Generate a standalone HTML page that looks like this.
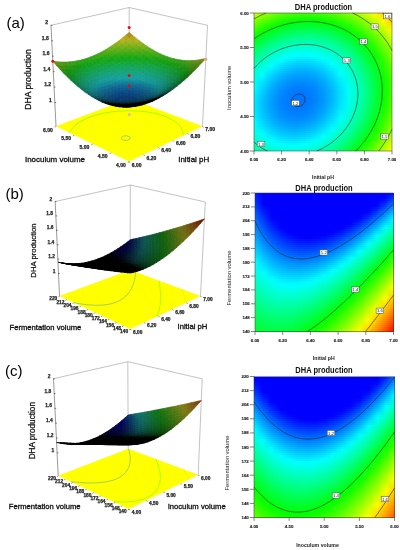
<!DOCTYPE html>
<html><head><meta charset="utf-8"><title>DHA production response surfaces</title>
<style>
html,body{margin:0;padding:0;background:#fff}
body{width:400px;height:550px;position:relative;overflow:hidden;font-family:"Liberation Sans",sans-serif}
.cp{position:absolute;overflow:hidden}
.cp i{display:block;height:2px;width:100%}
svg{position:absolute;left:0;top:0}
svg text{font-family:"Liberation Sans",sans-serif}
</style></head><body>
<div class="cp" style="left:254px;top:13px;width:138px;height:138px"><i style="background:linear-gradient(90deg,#c5ff00,#9cff00,#7bff00,#60ff00,#4cff00,#3fff00,#38ff00,#39ff00,#41ff00,#4fff00,#64ff00,#81ff00,#a4ff00,#ceff00,#feff00,#ffd300,#ffa100)"></i><i style="background:linear-gradient(90deg,#b2ff00,#8aff00,#68ff00,#4dff00,#3aff00,#2dff00,#27ff00,#28ff00,#2fff00,#3eff00,#53ff00,#70ff00,#93ff00,#bdff00,#ef0,#ffe000,#ffad00)"></i><i style="background:linear-gradient(90deg,#a0ff00,#7f0,#56ff00,#3cff00,#28ff00,#1bff00,#15ff00,#16ff00,#1eff00,#2dff00,#43ff00,#60ff00,#83ff00,#adff00,#dfff00,#ffec00,#ffba00)"></i><i style="background:linear-gradient(90deg,#8eff00,#6f0,#4f0,#2aff00,#17ff00,#0aff00,#05ff00,#06ff00,#0eff00,#1dff00,#3f0,#50ff00,#73ff00,#9eff00,#cfff00,#fff800,#ffc600)"></i><i style="background:linear-gradient(90deg,#7cff00,#54ff00,#3f0,#19ff00,#06ff00,#00ff07,#00ff0e,#00ff0c,#00ff02,#0dff00,#23ff00,#40ff00,#64ff00,#8fff00,#c0ff00,#f9ff00,#ffd100)"></i><i style="background:linear-gradient(90deg,#6bff00,#43ff00,#2f0,#08ff00,#00ff0c,#00ff1a,#00ff20,#00ff1e,#00ff14,#00ff03,#14ff00,#31ff00,#5f0,#80ff00,#b2ff00,#ebff00,#ffdc00)"></i><i style="background:linear-gradient(90deg,#5aff00,#32ff00,#12ff00,#00ff09,#00ff1e,#00ff2c,#00ff32,#00ff30,#00ff26,#00ff14,#05ff00,#23ff00,#47ff00,#72ff00,#a4ff00,#df0,#ffe700)"></i><i style="background:linear-gradient(90deg,#49ff00,#2f0,#02ff00,#00ff1b,#00ff30,#00ff3e,#00ff43,#00ff41,#00ff37,#00ff24,#00ff0b,#14ff00,#39ff00,#64ff00,#96ff00,#d0ff00,#fff200)"></i><i style="background:linear-gradient(90deg,#3aff00,#12ff00,#00ff10,#00ff2d,#00ff42,#00ff4f,#00ff54,#00ff51,#00ff47,#00ff35,#00ff1b,#07ff00,#2bff00,#57ff00,#89ff00,#c3ff00,#fffc00)"></i><i style="background:linear-gradient(90deg,#2aff00,#03ff00,#00ff21,#00ff3e,#00ff52,#00ff5f,#00ff64,#00ff62,#00ff57,#0f4,#00ff2a,#00ff08,#1eff00,#4aff00,#7dff00,#b6ff00,#f6ff00)"></i><i style="background:linear-gradient(90deg,#1bff00,#00ff0e,#00ff32,#00ff4e,#00ff63,#00ff70,#00ff74,#00ff71,#0f6,#00ff54,#00ff39,#00ff17,#1f0,#3dff00,#70ff00,#af0,#ebff00)"></i><i style="background:linear-gradient(90deg,#0cff00,#00ff1e,#00ff42,#00ff5e,#00ff73,#00ff7f,#00ff84,#00ff81,#00ff75,#00ff62,#00ff48,#00ff25,#05ff00,#31ff00,#64ff00,#9eff00,#dfff00)"></i><i style="background:linear-gradient(90deg,#00ff03,#00ff2e,#00ff52,#00ff6e,#00ff82,#00ff8e,#00ff93,#00ff8f,#00ff84,#00ff71,#00ff56,#0f3,#00ff08,#26ff00,#59ff00,#93ff00,#d4ff00)"></i><i style="background:linear-gradient(90deg,#00ff12,#00ff3e,#00ff61,#00ff7d,#00ff91,#00ff9d,#00ffa1,#00ff9e,#00ff92,#00ff7e,#00ff63,#00ff40,#00ff15,#1aff00,#4eff00,#8f0,#c9ff00)"></i><i style="background:linear-gradient(90deg,#0f2,#00ff4d,#00ff70,#00ff8c,#00ffa0,#00ffab,#00ffaf,#00ffab,#00ffa0,#00ff8c,#00ff70,#00ff4d,#0f2,#0fff00,#43ff00,#7eff00,#bfff00)"></i><i style="background:linear-gradient(90deg,#00ff31,#00ff5c,#00ff7f,#00ff9a,#00ffae,#00ffb9,#00ffbd,#00ffb9,#00ffad,#0f9,#00ff7d,#00ff59,#00ff2e,#05ff00,#39ff00,#74ff00,#b5ff00)"></i><i style="background:linear-gradient(90deg,#00ff3f,#00ff6a,#00ff8d,#00ffa8,#0fb,#00ffc6,#00ffca,#00ffc5,#00ffb9,#00ffa5,#00ff89,#00ff65,#00ff39,#00ff06,#2fff00,#6aff00,#acff00)"></i><i style="background:linear-gradient(90deg,#00ff4d,#00ff78,#00ff9a,#00ffb5,#00ffc8,#00ffd3,#00ffd6,#00ffd2,#00ffc5,#00ffb1,#00ff95,#00ff71,#00ff45,#0f1,#26ff00,#61ff00,#a3ff00)"></i><i style="background:linear-gradient(90deg,#00ff5a,#00ff85,#00ffa7,#00ffc2,#00ffd5,#00ffe0,#00ffe3,#00ffde,#00ffd1,#00ffbc,#00ffa0,#00ff7c,#00ff4f,#00ff1b,#1dff00,#58ff00,#9aff00)"></i><i style="background:linear-gradient(90deg,#00ff67,#00ff92,#00ffb4,#00ffce,#00ffe1,#00ffeb,#0fe,#00ffe9,#00ffdc,#00ffc7,#00ffab,#00ff86,#00ff5a,#00ff25,#14ff00,#50ff00,#92ff00)"></i><i style="background:linear-gradient(90deg,#00ff74,#00ff9e,#00ffc0,#00ffda,#00ffec,#00fff7,#00fff9,#00fff4,#00ffe7,#00ffd2,#00ffb5,#00ff90,#00ff63,#00ff2f,#0cff00,#48ff00,#8aff00)"></i><i style="background:linear-gradient(90deg,#00ff80,#0fa,#00ffcb,#00ffe5,#00fff7,#00fcff,#00f9ff,#00fffe,#00fff1,#00ffdc,#00ffbe,#0f9,#00ff6d,#00ff38,#04ff00,#40ff00,#83ff00)"></i><i style="background:linear-gradient(90deg,#00ff8c,#00ffb5,#00ffd7,#00fff0,#00fbff,#00f0ff,#00edff,#00f4ff,#00fffb,#00ffe5,#00ffc8,#00ffa2,#00ff75,#00ff40,#00ff04,#39ff00,#7cff00)"></i><i style="background:linear-gradient(90deg,#00ff97,#00ffc0,#00ffe1,#00fffb,#00f0ff,#00e4ff,#00e2ff,#00e9ff,#00f9ff,#0fe,#00ffd1,#00ffab,#00ff7e,#00ff48,#00ff0b,#32ff00,#76ff00)"></i><i style="background:linear-gradient(90deg,#00ffa1,#00ffca,#00ffeb,#00f9ff,#00e4ff,#00d9ff,#00d7ff,#00dfff,#00efff,#00fff7,#00ffd9,#00ffb3,#00ff86,#00ff50,#00ff13,#2cff00,#70ff00)"></i><i style="background:linear-gradient(90deg,#00ffab,#00ffd4,#00fff5,#0ef,#00daff,#00cfff,#00cdff,#00d5ff,#00e5ff,#0ff,#00ffe1,#0fb,#00ff8d,#00ff57,#00ff1a,#26ff00,#6aff00)"></i><i style="background:linear-gradient(90deg,#00ffb5,#0fd,#00fffe,#00e3ff,#00cfff,#00c5ff,#00c4ff,#00cbff,#00dcff,#00f7ff,#00ffe8,#00ffc2,#00ff94,#00ff5e,#00ff20,#21ff00,#65ff00)"></i><i style="background:linear-gradient(90deg,#00ffbe,#00ffe6,#00f6ff,#00d9ff,#00c6ff,#00bcff,#00baff,#00c3ff,#00d4ff,#0ef,#00ffef,#00ffc8,#00ff9a,#00ff64,#00ff26,#1cff00,#60ff00)"></i><i style="background:linear-gradient(90deg,#00ffc7,#00ffef,#00ecff,#00d0ff,#00bdff,#00b3ff,#00b2ff,#00baff,#0cf,#00e7ff,#00fff5,#00ffcf,#00ffa0,#00ff6a,#00ff2c,#17ff00,#5bff00)"></i><i style="background:linear-gradient(90deg,#00ffcf,#00fff7,#00e3ff,#00c7ff,#00b4ff,#00abff,#0af,#00b3ff,#00c4ff,#00dfff,#00fffb,#00ffd4,#00ffa6,#00ff6f,#00ff31,#13ff00,#58ff00)"></i><i style="background:linear-gradient(90deg,#00ffd7,#00fffe,#00dbff,#00bfff,#00acff,#00a3ff,#00a3ff,#00abff,#00beff,#00d9ff,#00fdff,#00ffd9,#00ffab,#00ff74,#00ff35,#0fff00,#54ff00)"></i><i style="background:linear-gradient(90deg,#00ffde,#00f8ff,#00d3ff,#00b7ff,#00a5ff,#009cff,#009cff,#00a5ff,#00b7ff,#00d3ff,#00f7ff,#00ffde,#00ffaf,#00ff78,#00ff39,#0cff00,#51ff00)"></i><i style="background:linear-gradient(90deg,#00ffe5,#00f0ff,#0cf,#00b0ff,#009eff,#0095ff,#0095ff,#009fff,#00b2ff,#00cdff,#00f2ff,#00ffe2,#00ffb3,#00ff7c,#00ff3d,#09ff00,#4eff00)"></i><i style="background:linear-gradient(90deg,#00ffeb,#00e9ff,#00c5ff,#0af,#0098ff,#008fff,#0090ff,#09f,#00acff,#00c8ff,#0ef,#00ffe6,#00ffb7,#00ff7f,#00ff40,#07ff00,#4cff00)"></i><i style="background:linear-gradient(90deg,#00fff1,#00e3ff,#00bfff,#00a4ff,#0092ff,#008aff,#008bff,#0095ff,#00a8ff,#00c4ff,#00e9ff,#00ffe9,#00ffba,#00ff82,#00ff42,#05ff00,#4aff00)"></i><i style="background:linear-gradient(90deg,#00fff6,#0df,#00b9ff,#009eff,#008dff,#0085ff,#0086ff,#0090ff,#00a4ff,#00c0ff,#00e6ff,#00ffec,#00ffbc,#00ff84,#0f4,#03ff00,#49ff00)"></i><i style="background:linear-gradient(90deg,#00fffb,#00d7ff,#00b4ff,#009aff,#0089ff,#0081ff,#0082ff,#008cff,#00a0ff,#00bdff,#00e3ff,#00ffef,#00ffbe,#00ff86,#00ff46,#02ff00,#48ff00)"></i><i style="background:linear-gradient(90deg,#0ff,#00d2ff,#00afff,#0095ff,#0085ff,#007dff,#007fff,#0089ff,#009dff,#00baff,#00e1ff,#00fff0,#00ffc0,#00ff87,#00ff47,#01ff00,#47ff00)"></i><i style="background:linear-gradient(90deg,#00faff,#00ceff,#00abff,#0092ff,#0081ff,#007aff,#007cff,#0087ff,#009bff,#00b8ff,#00dfff,#00fff2,#00ffc1,#0f8,#00ff48,#01ff00,#47ff00)"></i><i style="background:linear-gradient(90deg,#00f6ff,#00caff,#00a8ff,#008eff,#007eff,#07f,#0079ff,#0085ff,#09f,#00b7ff,#0df,#00fff3,#00ffc2,#00ff89,#00ff48,#01ff00,#47ff00)"></i><i style="background:linear-gradient(90deg,#00f3ff,#00c7ff,#00a5ff,#008cff,#007cff,#0075ff,#07f,#0083ff,#0098ff,#00b6ff,#0df,#00fff3,#00ffc2,#00ff89,#00ff48,#01ff00,#48ff00)"></i><i style="background:linear-gradient(90deg,#00f0ff,#00c5ff,#00a3ff,#008aff,#007aff,#0074ff,#0076ff,#0082ff,#0097ff,#00b5ff,#0df,#00fff3,#00ffc1,#0f8,#00ff47,#02ff00,#49ff00)"></i><i style="background:linear-gradient(90deg,#0ef,#00c3ff,#00a1ff,#08f,#0079ff,#0073ff,#0076ff,#0082ff,#0097ff,#00b5ff,#0df,#00fff2,#00ffc1,#00ff87,#00ff46,#03ff00,#4aff00)"></i><i style="background:linear-gradient(90deg,#00ecff,#00c1ff,#00a0ff,#0087ff,#0078ff,#0072ff,#0075ff,#0082ff,#0097ff,#00b6ff,#00deff,#00fff1,#00ffbf,#00ff86,#0f4,#05ff00,#4cff00)"></i><i style="background:linear-gradient(90deg,#00ebff,#00c0ff,#009fff,#0087ff,#0078ff,#0072ff,#0076ff,#0082ff,#0098ff,#00b7ff,#00dfff,#00fff0,#00ffbe,#00ff84,#00ff42,#07ff00,#4eff00)"></i><i style="background:linear-gradient(90deg,#00eaff,#00c0ff,#009fff,#0087ff,#0079ff,#0073ff,#07f,#0084ff,#009aff,#00b9ff,#00e1ff,#0fe,#0fb,#00ff81,#00ff3f,#0aff00,#51ff00)"></i><i style="background:linear-gradient(90deg,#00eaff,#00c0ff,#00a0ff,#08f,#007aff,#0074ff,#0078ff,#0086ff,#009cff,#0bf,#00e4ff,#00ffeb,#00ffb9,#00ff7e,#00ff3c,#0dff00,#54ff00)"></i><i style="background:linear-gradient(90deg,#00ebff,#00c1ff,#00a1ff,#0089ff,#007bff,#0076ff,#007aff,#08f,#009fff,#00beff,#00e7ff,#00ffe8,#00ffb6,#00ff7b,#00ff38,#10ff00,#58ff00)"></i><i style="background:linear-gradient(90deg,#00ecff,#00c2ff,#00a2ff,#008bff,#007dff,#0079ff,#007dff,#008bff,#00a2ff,#00c2ff,#00ebff,#00ffe5,#00ffb2,#0f7,#00ff34,#14ff00,#5cff00)"></i><i style="background:linear-gradient(90deg,#00edff,#00c4ff,#00a4ff,#008eff,#0080ff,#007cff,#0080ff,#008eff,#00a5ff,#00c6ff,#00efff,#00ffe1,#00ffae,#00ff73,#00ff30,#18ff00,#60ff00)"></i><i style="background:linear-gradient(90deg,#00f0ff,#00c7ff,#00a7ff,#0091ff,#0083ff,#007fff,#0084ff,#0092ff,#0af,#00caff,#00f4ff,#0fd,#00ffa9,#00ff6e,#00ff2a,#1dff00,#65ff00)"></i><i style="background:linear-gradient(90deg,#00f2ff,#00caff,#0af,#0094ff,#0087ff,#0083ff,#0089ff,#0097ff,#00afff,#00d0ff,#00faff,#00ffd8,#00ffa4,#00ff68,#00ff25,#2f0,#6aff00)"></i><i style="background:linear-gradient(90deg,#00f6ff,#00cdff,#00aeff,#0098ff,#008bff,#08f,#008dff,#009cff,#00b4ff,#00d5ff,#0ff,#00ffd2,#00ff9e,#00ff63,#00ff1f,#27ff00,#70ff00)"></i><i style="background:linear-gradient(90deg,#00faff,#00d1ff,#00b3ff,#009dff,#0090ff,#008dff,#0093ff,#00a2ff,#00baff,#00dcff,#00fff9,#00ffcd,#00ff98,#00ff5c,#00ff18,#2dff00,#76ff00)"></i><i style="background:linear-gradient(90deg,#00feff,#00d6ff,#00b8ff,#00a2ff,#0096ff,#0093ff,#09f,#00a8ff,#00c1ff,#00e2ff,#00fff3,#00ffc6,#00ff92,#00ff56,#0f1,#3f0,#7dff00)"></i><i style="background:linear-gradient(90deg,#00fffc,#00dbff,#00bdff,#00a8ff,#009cff,#09f,#00a0ff,#00afff,#00c8ff,#00eaff,#00ffec,#00ffbf,#00ff8b,#00ff4e,#00ff0a,#3aff00,#84ff00)"></i><i style="background:linear-gradient(90deg,#00fff7,#00e1ff,#00c3ff,#00aeff,#00a3ff,#00a0ff,#00a7ff,#00b7ff,#00d0ff,#00f2ff,#00ffe5,#00ffb8,#00ff83,#00ff47,#00ff02,#41ff00,#8bff00)"></i><i style="background:linear-gradient(90deg,#00fff2,#00e8ff,#00caff,#00b5ff,#0af,#00a7ff,#00aeff,#00beff,#00d8ff,#00faff,#00ffde,#00ffb0,#00ff7b,#00ff3e,#06ff00,#49ff00,#93ff00)"></i><i style="background:linear-gradient(90deg,#00ffec,#00efff,#00d1ff,#00bdff,#00b1ff,#00afff,#00b7ff,#00c7ff,#00e1ff,#00fffb,#00ffd6,#00ffa8,#00ff73,#00ff36,#0eff00,#51ff00,#9bff00)"></i><i style="background:linear-gradient(90deg,#00ffe6,#00f6ff,#00d9ff,#00c5ff,#00baff,#00b8ff,#00c0ff,#00d0ff,#00eaff,#00fff3,#00ffcd,#00ff9f,#00ff6a,#00ff2c,#16ff00,#59ff00,#a4ff00)"></i><i style="background:linear-gradient(90deg,#00ffdf,#00feff,#00e1ff,#00cdff,#00c3ff,#00c1ff,#00c9ff,#00daff,#00f4ff,#00ffea,#00ffc4,#00ff96,#00ff60,#00ff23,#1eff00,#62ff00,#adff00)"></i><i style="background:linear-gradient(90deg,#00ffd8,#00fff8,#00eaff,#00d6ff,#0cf,#00cbff,#00d3ff,#00e4ff,#00feff,#00ffe1,#0fb,#00ff8d,#00ff57,#00ff19,#27ff00,#6bff00,#b6ff00)"></i><i style="background:linear-gradient(90deg,#00ffd0,#00fff1,#00f3ff,#00e0ff,#00d6ff,#00d5ff,#0df,#00efff,#00fff6,#00ffd7,#00ffb1,#00ff82,#00ff4c,#00ff0e,#31ff00,#75ff00,#c0ff00)"></i><i style="background:linear-gradient(90deg,#00ffc8,#00ffe8,#00fdff,#00eaff,#00e1ff,#00e0ff,#00e8ff,#00faff,#00ffec,#00ffcd,#00ffa6,#00ff78,#00ff41,#00ff03,#3bff00,#7fff00,#caff00)"></i><i style="background:linear-gradient(90deg,#00ffc0,#00ffdf,#00fff7,#00f5ff,#00ecff,#00ebff,#00f4ff,#00fff9,#00ffe2,#00ffc3,#00ff9c,#00ff6d,#00ff36,#08ff00,#45ff00,#8aff00,#d5ff00)"></i><i style="background:linear-gradient(90deg,#00ffb7,#00ffd6,#0fe,#00fffe,#00f7ff,#00f7ff,#00fffe,#0fe,#00ffd7,#00ffb7,#00ff90,#00ff61,#00ff2a,#12ff00,#50ff00,#95ff00,#e0ff00)"></i><i style="background:linear-gradient(90deg,#00ffad,#0fc,#00ffe4,#00fff3,#00fffb,#00fffb,#00fff3,#00ffe3,#00ffcb,#00ffac,#00ff84,#0f5,#00ff1e,#1dff00,#5bff00,#a0ff00,#ecff00)"></i><i style="background:linear-gradient(90deg,#00ffa3,#00ffc2,#00ffd9,#00ffe9,#00fff0,#00fff0,#00ffe8,#00ffd8,#00ffc0,#00ffa0,#00ff78,#00ff49,#0f1,#28ff00,#67ff00,#acff00,#f8ff00)"></i><i style="background:linear-gradient(90deg,#00ff98,#00ffb7,#00ffce,#0fd,#00ffe5,#00ffe4,#00ffdc,#00ffcb,#00ffb3,#00ff93,#00ff6b,#00ff3c,#00ff04,#34ff00,#73ff00,#b8ff00,#fffb00)"></i></div>
<div class="cp" style="left:255px;top:193px;width:138.5px;height:138.5px"><i style="background:linear-gradient(90deg,#001cff,#00f,#00f,#00f,#00f,#00f,#00f,#00f,#00f,#00f,#00f,#00f,#00f,#00f,#00f,#00f,#001cff)"></i><i style="background:linear-gradient(90deg,#0023ff,#00f,#00f,#00f,#00f,#00f,#00f,#00f,#00f,#00f,#00f,#00f,#00f,#00f,#00f,#00f,#002eff)"></i><i style="background:linear-gradient(90deg,#0029ff,#00f,#00f,#00f,#00f,#00f,#00f,#00f,#00f,#00f,#00f,#00f,#00f,#00f,#00f,#00f,#0040ff)"></i><i style="background:linear-gradient(90deg,#0030ff,#00f,#00f,#00f,#00f,#00f,#00f,#00f,#00f,#00f,#00f,#00f,#00f,#00f,#00f,#000dff,#0052ff)"></i><i style="background:linear-gradient(90deg,#0036ff,#00f,#00f,#00f,#00f,#00f,#00f,#00f,#00f,#00f,#00f,#00f,#00f,#00f,#00f,#001eff,#0064ff)"></i><i style="background:linear-gradient(90deg,#003cff,#00f,#00f,#00f,#00f,#00f,#00f,#00f,#00f,#00f,#00f,#00f,#00f,#00f,#00f,#0030ff,#07f)"></i><i style="background:linear-gradient(90deg,#0043ff,#0004ff,#00f,#00f,#00f,#00f,#00f,#00f,#00f,#00f,#00f,#00f,#00f,#00f,#0003ff,#0041ff,#0089ff)"></i><i style="background:linear-gradient(90deg,#0049ff,#000bff,#00f,#00f,#00f,#00f,#00f,#00f,#00f,#00f,#00f,#00f,#00f,#00f,#0014ff,#0053ff,#009bff)"></i><i style="background:linear-gradient(90deg,#0050ff,#0013ff,#00f,#00f,#00f,#00f,#00f,#00f,#00f,#00f,#00f,#00f,#00f,#00f,#0024ff,#0065ff,#00aeff)"></i><i style="background:linear-gradient(90deg,#0057ff,#001aff,#00f,#00f,#00f,#00f,#00f,#00f,#00f,#00f,#00f,#00f,#00f,#00f,#0035ff,#0076ff,#00c0ff)"></i><i style="background:linear-gradient(90deg,#005dff,#0021ff,#00f,#00f,#00f,#00f,#00f,#00f,#00f,#00f,#00f,#00f,#00f,#000eff,#0046ff,#08f,#00d2ff)"></i><i style="background:linear-gradient(90deg,#0064ff,#0029ff,#00f,#00f,#00f,#00f,#00f,#00f,#00f,#00f,#00f,#00f,#00f,#001eff,#0057ff,#09f,#00e5ff)"></i><i style="background:linear-gradient(90deg,#006aff,#0030ff,#00f,#00f,#00f,#00f,#00f,#00f,#00f,#00f,#00f,#00f,#00f,#002eff,#0068ff,#00abff,#00f7ff)"></i><i style="background:linear-gradient(90deg,#0071ff,#0037ff,#0007ff,#00f,#00f,#00f,#00f,#00f,#00f,#00f,#00f,#00f,#000cff,#003eff,#0079ff,#00bdff,#00fff6)"></i><i style="background:linear-gradient(90deg,#0078ff,#003fff,#000fff,#00f,#00f,#00f,#00f,#00f,#00f,#00f,#00f,#00f,#001cff,#004eff,#008aff,#00ceff,#00ffe6)"></i><i style="background:linear-gradient(90deg,#007eff,#0046ff,#0017ff,#00f,#00f,#00f,#00f,#00f,#00f,#00f,#00f,#0001ff,#002bff,#005eff,#009bff,#00e0ff,#00ffd7)"></i><i style="background:linear-gradient(90deg,#0085ff,#004dff,#001fff,#00f,#00f,#00f,#00f,#00f,#00f,#00f,#00f,#000fff,#003bff,#006fff,#00acff,#00f2ff,#00ffc7)"></i><i style="background:linear-gradient(90deg,#008bff,#05f,#0027ff,#0002ff,#00f,#00f,#00f,#00f,#00f,#00f,#00f,#001eff,#004aff,#007fff,#00bdff,#00fffb,#00ffb7)"></i><i style="background:linear-gradient(90deg,#0092ff,#005cff,#002fff,#000bff,#00f,#00f,#00f,#00f,#00f,#00f,#0009ff,#002dff,#005aff,#008fff,#00ceff,#00ffec,#00ffa7)"></i><i style="background:linear-gradient(90deg,#09f,#0064ff,#0037ff,#0014ff,#00f,#00f,#00f,#00f,#00f,#00f,#0017ff,#003cff,#0069ff,#009fff,#00dfff,#0fd,#00ff97)"></i><i style="background:linear-gradient(90deg,#00a0ff,#006bff,#003fff,#001dff,#0003ff,#00f,#00f,#00f,#00f,#0009ff,#0025ff,#004bff,#0079ff,#00b0ff,#00f0ff,#00ffce,#0f8)"></i><i style="background:linear-gradient(90deg,#00a6ff,#0073ff,#0048ff,#0026ff,#000dff,#00f,#00f,#00f,#0003ff,#0017ff,#0034ff,#0059ff,#08f,#00c0ff,#00fffe,#00ffbf,#00ff78)"></i><i style="background:linear-gradient(90deg,#00adff,#007aff,#0050ff,#002fff,#0017ff,#0007ff,#0001ff,#0004ff,#000fff,#0024ff,#0042ff,#0068ff,#0098ff,#00d0ff,#00ffef,#00ffaf,#00ff68)"></i><i style="background:linear-gradient(90deg,#00b4ff,#0081ff,#0058ff,#0038ff,#0020ff,#0012ff,#000cff,#0010ff,#001cff,#0031ff,#0050ff,#07f,#00a7ff,#00e1ff,#00ffe0,#00ffa0,#00ff58)"></i><i style="background:linear-gradient(90deg,#0bf,#0089ff,#0060ff,#0041ff,#002aff,#001cff,#0017ff,#001cff,#0029ff,#003fff,#005eff,#0086ff,#00b7ff,#00f1ff,#00ffd2,#00ff91,#00ff48)"></i><i style="background:linear-gradient(90deg,#00c1ff,#0091ff,#0069ff,#004aff,#0034ff,#0027ff,#0023ff,#0028ff,#0035ff,#004cff,#006cff,#0095ff,#00c7ff,#00fffd,#00ffc3,#00ff82,#00ff38)"></i><i style="background:linear-gradient(90deg,#00c8ff,#0098ff,#0071ff,#0053ff,#003dff,#0031ff,#002eff,#0034ff,#0042ff,#005aff,#007aff,#00a4ff,#00d6ff,#00ffef,#00ffb4,#00ff72,#00ff28)"></i><i style="background:linear-gradient(90deg,#00cfff,#00a0ff,#0079ff,#005cff,#0047ff,#003cff,#0039ff,#0040ff,#004fff,#0067ff,#08f,#00b3ff,#00e6ff,#00ffe1,#00ffa6,#00ff63,#00ff18)"></i><i style="background:linear-gradient(90deg,#00d6ff,#00a7ff,#0082ff,#0065ff,#0051ff,#0046ff,#04f,#004cff,#005cff,#0075ff,#0097ff,#00c2ff,#00f5ff,#00ffd3,#00ff97,#00ff54,#00ff08)"></i><i style="background:linear-gradient(90deg,#0df,#00afff,#008aff,#006eff,#005bff,#0051ff,#0050ff,#0058ff,#0068ff,#0082ff,#00a5ff,#00d1ff,#00fffa,#00ffc5,#0f8,#0f4,#07ff00)"></i><i style="background:linear-gradient(90deg,#00e4ff,#00b6ff,#0092ff,#07f,#0065ff,#005bff,#005bff,#0064ff,#0075ff,#0090ff,#00b3ff,#00dfff,#00ffec,#00ffb7,#00ff7a,#00ff35,#15ff00)"></i><i style="background:linear-gradient(90deg,#00eaff,#00beff,#009bff,#0080ff,#006eff,#06f,#06f,#0070ff,#0082ff,#009dff,#00c1ff,#0ef,#00ffdf,#00ffa9,#00ff6b,#00ff26,#23ff00)"></i><i style="background:linear-gradient(90deg,#00f1ff,#00c6ff,#00a3ff,#0089ff,#0078ff,#0070ff,#0072ff,#007cff,#008fff,#00abff,#00d0ff,#00fdff,#00ffd1,#00ff9b,#00ff5c,#00ff16,#31ff00)"></i><i style="background:linear-gradient(90deg,#00f8ff,#00cdff,#00abff,#0092ff,#0082ff,#007bff,#007dff,#08f,#009bff,#00b8ff,#00deff,#00fff3,#00ffc4,#00ff8d,#00ff4d,#00ff07,#3fff00)"></i><i style="background:linear-gradient(90deg,#0ff,#00d5ff,#00b4ff,#009bff,#008cff,#0086ff,#08f,#0094ff,#00a8ff,#00c6ff,#00ecff,#00ffe7,#00ffb6,#00ff7e,#00ff3f,#08ff00,#4dff00)"></i><i style="background:linear-gradient(90deg,#00fff9,#0df,#00bcff,#00a5ff,#0096ff,#0090ff,#0094ff,#00a0ff,#00b5ff,#00d3ff,#00faff,#00ffda,#00ffa9,#00ff70,#00ff30,#15ff00,#5bff00)"></i><i style="background:linear-gradient(90deg,#00fff3,#00e4ff,#00c5ff,#00aeff,#00a0ff,#009bff,#009fff,#00acff,#00c2ff,#00e1ff,#00fff7,#00ffcd,#00ff9b,#00ff62,#00ff21,#2f0,#69ff00)"></i><i style="background:linear-gradient(90deg,#00ffed,#00ecff,#00cdff,#00b7ff,#0af,#00a6ff,#0af,#00b8ff,#00cfff,#0ef,#00ffea,#00ffc0,#00ff8e,#00ff54,#00ff12,#30ff00,#7f0)"></i><i style="background:linear-gradient(90deg,#00ffe7,#00f4ff,#00d5ff,#00c0ff,#00b4ff,#00b0ff,#00b6ff,#00c4ff,#00dcff,#00fcff,#00ffde,#00ffb3,#00ff80,#00ff46,#00ff04,#3eff00,#85ff00)"></i><i style="background:linear-gradient(90deg,#00ffe1,#00fcff,#00deff,#00c9ff,#00beff,#0bf,#00c1ff,#00d0ff,#00e9ff,#00fff6,#00ffd2,#00ffa6,#00ff73,#00ff37,#0aff00,#4bff00,#93ff00)"></i><i style="background:linear-gradient(90deg,#00ffdb,#00fffb,#00e6ff,#00d3ff,#00c8ff,#00c6ff,#00cdff,#0df,#00f5ff,#00ffea,#00ffc5,#0f9,#00ff65,#00ff29,#17ff00,#59ff00,#a1ff00)"></i><i style="background:linear-gradient(90deg,#00ffd5,#00fff5,#00efff,#00dcff,#00d2ff,#00d0ff,#00d8ff,#00e9ff,#00fffc,#00ffde,#00ffb9,#00ff8c,#00ff57,#00ff1b,#24ff00,#6f0,#afff00)"></i><i style="background:linear-gradient(90deg,#00ffcf,#0fe,#00f8ff,#00e5ff,#00dcff,#00dbff,#00e4ff,#00f5ff,#00fff1,#00ffd3,#00ffad,#00ff7f,#00ff4a,#00ff0d,#31ff00,#74ff00,#bdff00)"></i><i style="background:linear-gradient(90deg,#00ffc9,#00ffe7,#00fffe,#0ef,#00e6ff,#00e6ff,#00efff,#00fffd,#00ffe6,#00ffc7,#00ffa0,#00ff72,#00ff3c,#01ff00,#3eff00,#81ff00,#cbff00)"></i><i style="background:linear-gradient(90deg,#00ffc3,#00ffe1,#00fff7,#00f8ff,#00f0ff,#00f1ff,#00fbff,#00fff3,#00ffdb,#0fb,#00ff94,#00ff65,#00ff2f,#0eff00,#4bff00,#8fff00,#daff00)"></i><i style="background:linear-gradient(90deg,#00ffbd,#00ffda,#00ffef,#00fffd,#00faff,#00fbff,#00fff9,#00ffe8,#00ffd0,#00ffaf,#0f8,#00ff58,#00ff21,#1aff00,#58ff00,#9cff00,#e8ff00)"></i><i style="background:linear-gradient(90deg,#00ffb6,#00ffd3,#00ffe8,#00fff5,#00fffb,#00fff9,#00ffef,#00ffde,#00ffc4,#00ffa4,#00ff7b,#00ff4b,#00ff13,#27ff00,#65ff00,#af0,#f6ff00)"></i><i style="background:linear-gradient(90deg,#00ffb0,#0fc,#00ffe1,#00ffed,#00fff2,#00fff0,#00ffe5,#00ffd3,#00ffb9,#00ff98,#00ff6f,#00ff3e,#00ff06,#3f0,#72ff00,#b8ff00,#fffb00)"></i><i style="background:linear-gradient(90deg,#0fa,#00ffc6,#00ffd9,#00ffe5,#00ffea,#00ffe6,#00ffdb,#00ffc9,#00ffae,#00ff8c,#00ff62,#00ff31,#07ff00,#40ff00,#7fff00,#c5ff00,#fff000)"></i><i style="background:linear-gradient(90deg,#00ffa4,#00ffbf,#00ffd2,#0fd,#00ffe1,#0fd,#00ffd1,#00ffbe,#00ffa3,#00ff80,#00ff56,#00ff24,#13ff00,#4cff00,#8cff00,#d3ff00,#ffe400)"></i><i style="background:linear-gradient(90deg,#00ff9e,#00ffb8,#00ffca,#00ffd5,#00ffd8,#00ffd4,#00ffc7,#00ffb3,#00ff98,#00ff74,#00ff49,#00ff17,#1fff00,#59ff00,#9f0,#e1ff00,#ffd900)"></i><i style="background:linear-gradient(90deg,#00ff98,#00ffb1,#00ffc3,#00ffcd,#00ffd0,#00ffca,#00ffbd,#00ffa9,#00ff8d,#00ff69,#00ff3d,#00ff0a,#2bff00,#6f0,#a7ff00,#ef0,#ffce00)"></i><i style="background:linear-gradient(90deg,#00ff92,#0fa,#00ffbc,#00ffc5,#00ffc7,#00ffc1,#00ffb3,#00ff9e,#00ff81,#00ff5d,#00ff30,#03ff00,#37ff00,#72ff00,#b4ff00,#fcff00,#ffc200)"></i><i style="background:linear-gradient(90deg,#00ff8b,#00ffa4,#00ffb4,#00ffbd,#00ffbe,#00ffb8,#00ffa9,#00ff94,#00ff76,#00ff51,#00ff24,#0fff00,#43ff00,#7fff00,#c1ff00,#fff600,#ffb700)"></i><i style="background:linear-gradient(90deg,#00ff85,#00ff9d,#00ffad,#00ffb5,#00ffb5,#00ffae,#00ffa0,#00ff89,#00ff6b,#00ff45,#00ff17,#1aff00,#4fff00,#8bff00,#ceff00,#ffeb00,#ffab00)"></i><i style="background:linear-gradient(90deg,#00ff7f,#00ff96,#00ffa5,#00ffad,#00ffad,#00ffa5,#00ff95,#00ff7e,#00ff60,#00ff39,#00ff0b,#26ff00,#5bff00,#98ff00,#dbff00,#ffe000,#ffa000)"></i><i style="background:linear-gradient(90deg,#00ff79,#00ff8f,#00ff9e,#00ffa5,#00ffa4,#00ff9c,#00ff8b,#00ff74,#00ff54,#00ff2d,#01ff00,#31ff00,#67ff00,#a5ff00,#e8ff00,#ffd500,#ff9400)"></i><i style="background:linear-gradient(90deg,#00ff72,#0f8,#00ff96,#00ff9d,#00ff9b,#00ff92,#00ff81,#00ff69,#00ff49,#00ff21,#0cff00,#3dff00,#74ff00,#b1ff00,#f6ff00,#ffca00,#ff8900)"></i><i style="background:linear-gradient(90deg,#00ff6c,#00ff81,#00ff8f,#00ff94,#00ff92,#00ff89,#0f7,#00ff5e,#00ff3e,#00ff15,#17ff00,#48ff00,#80ff00,#beff00,#fffc00,#ffbf00,#ff7e00)"></i><i style="background:linear-gradient(90deg,#0f6,#00ff7a,#00ff87,#00ff8c,#00ff8a,#00ff7f,#00ff6d,#00ff54,#00ff32,#00ff09,#2f0,#54ff00,#8cff00,#caff00,#fff100,#ffb400,#ff7200)"></i><i style="background:linear-gradient(90deg,#00ff60,#00ff73,#00ff80,#00ff84,#00ff81,#00ff76,#00ff63,#00ff49,#00ff27,#02ff00,#2dff00,#5fff00,#98ff00,#d7ff00,#ffe700,#ffa900,#ff6700)"></i><i style="background:linear-gradient(90deg,#00ff59,#00ff6d,#00ff78,#00ff7c,#00ff78,#00ff6c,#00ff59,#00ff3e,#00ff1c,#0dff00,#38ff00,#6bff00,#a4ff00,#e4ff00,#ffdc00,#ff9e00,#ff5b00)"></i><i style="background:linear-gradient(90deg,#00ff53,#0f6,#00ff70,#00ff74,#00ff6f,#00ff63,#00ff4f,#00ff34,#00ff10,#17ff00,#43ff00,#76ff00,#b0ff00,#f1ff00,#ffd200,#ff9300,#ff5000)"></i><i style="background:linear-gradient(90deg,#00ff4d,#00ff5f,#00ff69,#00ff6b,#0f6,#00ff59,#00ff45,#00ff29,#00ff05,#2f0,#4fff00,#82ff00,#bcff00,#fdff00,#ffc700,#f80,#f40)"></i><i style="background:linear-gradient(90deg,#00ff46,#00ff58,#00ff61,#00ff63,#00ff5d,#00ff50,#00ff3b,#00ff1e,#06ff00,#2cff00,#5aff00,#8eff00,#c8ff00,#fff600,#ffbc00,#ff7d00,#ff3900)"></i><i style="background:linear-gradient(90deg,#00ff40,#00ff51,#00ff5a,#00ff5b,#0f5,#00ff46,#00ff31,#00ff13,#10ff00,#37ff00,#65ff00,#9f0,#d5ff00,#ffec00,#ffb200,#ff7200,#ff2d00)"></i><i style="background:linear-gradient(90deg,#00ff3a,#00ff4a,#00ff52,#00ff53,#00ff4c,#00ff3d,#00ff27,#00ff09,#1aff00,#41ff00,#70ff00,#a5ff00,#e1ff00,#ffe200,#ffa700,#ff6700,#f20)"></i><i style="background:linear-gradient(90deg,#0f3,#00ff43,#00ff4a,#00ff4a,#00ff43,#0f3,#00ff1c,#02ff00,#24ff00,#4cff00,#7bff00,#b1ff00,#edff00,#ffd800,#ff9d00,#ff5c00,#ff1600)"></i><i style="background:linear-gradient(90deg,#00ff2d,#00ff3c,#00ff43,#00ff42,#00ff3a,#00ff2a,#00ff12,#0bff00,#2eff00,#56ff00,#86ff00,#bcff00,#f9ff00,#ffcd00,#ff9200,#ff5100,#ff0b00)"></i><i style="background:linear-gradient(90deg,#00ff26,#00ff35,#00ff3b,#00ff3a,#00ff31,#00ff20,#00ff08,#15ff00,#38ff00,#61ff00,#91ff00,#c8ff00,#fffa00,#ffc300,#ff8700,#ff4600,#f00)"></i></div>
<div class="cp" style="left:254px;top:376.5px;width:140.5px;height:141px"><i style="background:linear-gradient(90deg,#00f,#00f,#00f,#00f,#00f,#00f,#00f,#00f,#00f,#00f,#00f,#00f,#00f,#00f,#00f,#0026ff,#0078ff)"></i><i style="background:linear-gradient(90deg,#0003ff,#00f,#00f,#00f,#00f,#00f,#00f,#00f,#00f,#00f,#00f,#00f,#00f,#00f,#00f,#0035ff,#08f)"></i><i style="background:linear-gradient(90deg,#000eff,#00f,#00f,#00f,#00f,#00f,#00f,#00f,#00f,#00f,#00f,#00f,#00f,#00f,#00f,#04f,#0097ff)"></i><i style="background:linear-gradient(90deg,#0018ff,#00f,#00f,#00f,#00f,#00f,#00f,#00f,#00f,#00f,#00f,#00f,#00f,#00f,#000aff,#0053ff,#00a7ff)"></i><i style="background:linear-gradient(90deg,#02f,#00f,#00f,#00f,#00f,#00f,#00f,#00f,#00f,#00f,#00f,#00f,#00f,#00f,#0019ff,#0063ff,#00b6ff)"></i><i style="background:linear-gradient(90deg,#002dff,#00f,#00f,#00f,#00f,#00f,#00f,#00f,#00f,#00f,#00f,#00f,#00f,#00f,#0028ff,#0072ff,#00c6ff)"></i><i style="background:linear-gradient(90deg,#0037ff,#00f,#00f,#00f,#00f,#00f,#00f,#00f,#00f,#00f,#00f,#00f,#00f,#00f,#0037ff,#0081ff,#00d6ff)"></i><i style="background:linear-gradient(90deg,#0041ff,#0001ff,#00f,#00f,#00f,#00f,#00f,#00f,#00f,#00f,#00f,#00f,#00f,#0005ff,#0046ff,#0090ff,#00e5ff)"></i><i style="background:linear-gradient(90deg,#004bff,#000bff,#00f,#00f,#00f,#00f,#00f,#00f,#00f,#00f,#00f,#00f,#00f,#0013ff,#05f,#00a0ff,#00f5ff)"></i><i style="background:linear-gradient(90deg,#0056ff,#0016ff,#00f,#00f,#00f,#00f,#00f,#00f,#00f,#00f,#00f,#00f,#00f,#02f,#0063ff,#00afff,#00fffa)"></i><i style="background:linear-gradient(90deg,#0060ff,#0021ff,#00f,#00f,#00f,#00f,#00f,#00f,#00f,#00f,#00f,#00f,#00f,#0030ff,#0072ff,#00beff,#00ffed)"></i><i style="background:linear-gradient(90deg,#006aff,#002bff,#00f,#00f,#00f,#00f,#00f,#00f,#00f,#00f,#00f,#00f,#0007ff,#003fff,#0081ff,#00cdff,#00ffe0)"></i><i style="background:linear-gradient(90deg,#0074ff,#0036ff,#0001ff,#00f,#00f,#00f,#00f,#00f,#00f,#00f,#00f,#00f,#0015ff,#004eff,#0090ff,#00dcff,#00ffd3)"></i><i style="background:linear-gradient(90deg,#007eff,#0040ff,#000cff,#00f,#00f,#00f,#00f,#00f,#00f,#00f,#00f,#00f,#0023ff,#005cff,#009fff,#00ecff,#00ffc5)"></i><i style="background:linear-gradient(90deg,#0089ff,#004bff,#0017ff,#00f,#00f,#00f,#00f,#00f,#00f,#00f,#00f,#0002ff,#0031ff,#006bff,#00aeff,#00fbff,#00ffb8)"></i><i style="background:linear-gradient(90deg,#0093ff,#05f,#02f,#00f,#00f,#00f,#00f,#00f,#00f,#00f,#00f,#0010ff,#003fff,#0079ff,#00bdff,#00fff6,#00ffab)"></i><i style="background:linear-gradient(90deg,#009dff,#0060ff,#002cff,#0003ff,#00f,#00f,#00f,#00f,#00f,#00f,#00f,#001eff,#004eff,#0087ff,#00cbff,#00ffe9,#00ff9d)"></i><i style="background:linear-gradient(90deg,#00a7ff,#006aff,#0037ff,#000eff,#00f,#00f,#00f,#00f,#00f,#00f,#0005ff,#002bff,#005cff,#0096ff,#00daff,#00ffdc,#00ff90)"></i><i style="background:linear-gradient(90deg,#00b1ff,#0075ff,#0042ff,#0019ff,#00f,#00f,#00f,#00f,#00f,#00f,#0012ff,#0039ff,#006aff,#00a4ff,#00e9ff,#00ffcf,#00ff83)"></i><i style="background:linear-gradient(90deg,#0bf,#007fff,#004dff,#0024ff,#0006ff,#00f,#00f,#00f,#00f,#0003ff,#0020ff,#0047ff,#0078ff,#00b3ff,#00f8ff,#00ffc2,#00ff76)"></i><i style="background:linear-gradient(90deg,#00c5ff,#008aff,#0058ff,#0030ff,#01f,#00f,#00f,#00f,#00f,#0010ff,#002dff,#05f,#0086ff,#00c1ff,#00fff9,#00ffb5,#00ff69)"></i><i style="background:linear-gradient(90deg,#00cfff,#0094ff,#0062ff,#003bff,#001dff,#0009ff,#00f,#00f,#0009ff,#001dff,#003bff,#0062ff,#0094ff,#00d0ff,#00ffec,#00ffa8,#00ff5b)"></i><i style="background:linear-gradient(90deg,#00daff,#009eff,#006dff,#0046ff,#0028ff,#0015ff,#000bff,#000cff,#0016ff,#002aff,#0048ff,#0070ff,#00a2ff,#00deff,#00ffdf,#00ff9b,#00ff4e)"></i><i style="background:linear-gradient(90deg,#00e4ff,#00a9ff,#0078ff,#0051ff,#0034ff,#0020ff,#0017ff,#0018ff,#0023ff,#0037ff,#0056ff,#007eff,#00b0ff,#00ecff,#00ffd3,#00ff8e,#00ff41)"></i><i style="background:linear-gradient(90deg,#0ef,#00b3ff,#0083ff,#005cff,#003fff,#002cff,#0023ff,#0024ff,#002fff,#04f,#0063ff,#008cff,#00beff,#00fbff,#00ffc6,#00ff81,#00ff34)"></i><i style="background:linear-gradient(90deg,#00f8ff,#00beff,#008dff,#0067ff,#004aff,#0038ff,#002fff,#0031ff,#003cff,#0051ff,#0070ff,#09f,#0cf,#00fff6,#00ffba,#00ff74,#00ff27)"></i><i style="background:linear-gradient(90deg,#00fffd,#00c8ff,#0098ff,#0072ff,#0056ff,#04f,#003bff,#003dff,#0049ff,#005eff,#007eff,#00a7ff,#00daff,#00ffea,#00ffad,#00ff67,#00ff19)"></i><i style="background:linear-gradient(90deg,#00fff4,#00d2ff,#00a3ff,#007dff,#0061ff,#004fff,#0047ff,#0049ff,#05f,#006bff,#008bff,#00b5ff,#00e8ff,#00ffde,#00ffa0,#00ff5b,#00ff0c)"></i><i style="background:linear-gradient(90deg,#00ffeb,#0df,#00adff,#08f,#006dff,#005bff,#0053ff,#0056ff,#0062ff,#0078ff,#0098ff,#00c2ff,#00f6ff,#00ffd1,#00ff94,#00ff4e,#01ff00)"></i><i style="background:linear-gradient(90deg,#00ffe3,#00e7ff,#00b8ff,#0093ff,#0078ff,#0067ff,#005fff,#0062ff,#006fff,#0085ff,#00a6ff,#00d0ff,#00fffa,#00ffc5,#00ff87,#00ff41,#0cff00)"></i><i style="background:linear-gradient(90deg,#00ffda,#00f1ff,#00c3ff,#009eff,#0083ff,#0072ff,#006bff,#006eff,#007bff,#0092ff,#00b3ff,#00deff,#0fe,#00ffb9,#00ff7b,#00ff34,#18ff00)"></i><i style="background:linear-gradient(90deg,#00ffd2,#00fcff,#00cdff,#00a9ff,#008fff,#007eff,#07f,#007bff,#08f,#009fff,#00c0ff,#00ebff,#00ffe2,#00ffad,#00ff6e,#00ff27,#23ff00)"></i><i style="background:linear-gradient(90deg,#00ffc9,#00fff9,#00d8ff,#00b4ff,#009aff,#008aff,#0083ff,#0087ff,#0095ff,#00acff,#00ceff,#00f9ff,#00ffd6,#00ffa0,#00ff62,#00ff1a,#2fff00)"></i><i style="background:linear-gradient(90deg,#00ffc1,#00fff0,#00e3ff,#00bfff,#00a5ff,#0095ff,#008fff,#0093ff,#00a1ff,#00b9ff,#00dbff,#00fff8,#00ffcb,#00ff94,#0f5,#00ff0e,#3aff00)"></i><i style="background:linear-gradient(90deg,#00ffb8,#00ffe7,#00edff,#00caff,#00b0ff,#00a1ff,#009bff,#00a0ff,#00aeff,#00c6ff,#00e8ff,#00ffed,#00ffbf,#0f8,#00ff49,#00ff01,#46ff00)"></i><i style="background:linear-gradient(90deg,#00ffaf,#00ffdf,#00f8ff,#00d5ff,#00bcff,#00adff,#00a7ff,#00acff,#00baff,#00d3ff,#00f5ff,#00ffe1,#00ffb3,#00ff7c,#00ff3c,#0bff00,#51ff00)"></i><i style="background:linear-gradient(90deg,#00ffa7,#00ffd6,#00fffc,#00e0ff,#00c7ff,#00b8ff,#00b3ff,#00b8ff,#00c7ff,#00e0ff,#00fffc,#00ffd6,#00ffa7,#00ff6f,#00ff30,#16ff00,#5dff00)"></i><i style="background:linear-gradient(90deg,#00ff9e,#00ffcd,#00fff3,#00ebff,#00d2ff,#00c4ff,#00bfff,#00c4ff,#00d4ff,#00edff,#00fff0,#00ffca,#00ff9b,#00ff63,#00ff23,#21ff00,#68ff00)"></i><i style="background:linear-gradient(90deg,#00ff96,#00ffc4,#00ffea,#00f6ff,#0df,#00cfff,#00cbff,#00d1ff,#00e0ff,#00faff,#00ffe5,#00ffbe,#00ff8f,#00ff57,#00ff17,#2cff00,#73ff00)"></i><i style="background:linear-gradient(90deg,#00ff8d,#0fb,#00ffe1,#00fffe,#00e9ff,#00dbff,#00d7ff,#0df,#00edff,#00fff8,#00ffda,#00ffb3,#00ff83,#00ff4b,#00ff0a,#37ff00,#7fff00)"></i><i style="background:linear-gradient(90deg,#00ff85,#00ffb3,#00ffd8,#00fff4,#00f4ff,#00e6ff,#00e3ff,#00e9ff,#00f9ff,#00ffed,#00ffce,#00ffa7,#0f7,#00ff3f,#02ff00,#42ff00,#8aff00)"></i><i style="background:linear-gradient(90deg,#00ff7d,#0fa,#00ffcf,#00ffeb,#0ff,#00f2ff,#00efff,#00f5ff,#00fff9,#00ffe2,#00ffc3,#00ff9b,#00ff6b,#00ff32,#0dff00,#4eff00,#96ff00)"></i><i style="background:linear-gradient(90deg,#00ff74,#00ffa1,#00ffc6,#00ffe2,#00fff5,#00fdff,#00fbff,#00fffd,#0fe,#00ffd7,#00ffb8,#00ff90,#00ff5f,#00ff26,#18ff00,#59ff00,#a1ff00)"></i><i style="background:linear-gradient(90deg,#00ff6c,#00ff98,#00ffbd,#00ffd8,#00ffec,#00fff6,#00fff9,#00fff2,#00ffe4,#0fc,#00ffad,#00ff84,#00ff53,#00ff1a,#23ff00,#64ff00,#acff00)"></i><i style="background:linear-gradient(90deg,#00ff63,#00ff90,#00ffb4,#00ffcf,#00ffe2,#00ffed,#00ffef,#00ffe8,#00ffd9,#00ffc1,#00ffa1,#00ff79,#00ff48,#00ff0e,#2eff00,#6fff00,#b8ff00)"></i><i style="background:linear-gradient(90deg,#00ff5b,#00ff87,#00ffab,#00ffc6,#00ffd9,#00ffe3,#00ffe4,#00ffde,#00ffce,#00ffb6,#00ff96,#00ff6d,#00ff3c,#00ff02,#39ff00,#7aff00,#c3ff00)"></i><i style="background:linear-gradient(90deg,#00ff52,#00ff7e,#00ffa2,#00ffbd,#00ffcf,#00ffd9,#00ffda,#00ffd3,#00ffc4,#00ffab,#00ff8b,#00ff62,#00ff30,#09ff00,#43ff00,#85ff00,#ceff00)"></i><i style="background:linear-gradient(90deg,#00ff4a,#00ff76,#0f9,#00ffb3,#00ffc5,#00ffcf,#00ffd0,#00ffc9,#00ffb9,#00ffa0,#00ff7f,#00ff56,#00ff24,#14ff00,#4eff00,#90ff00,#daff00)"></i><i style="background:linear-gradient(90deg,#00ff41,#00ff6d,#00ff90,#0fa,#00ffbc,#00ffc5,#00ffc6,#00ffbe,#00ffae,#00ff95,#00ff74,#00ff4a,#00ff18,#1eff00,#59ff00,#9bff00,#e5ff00)"></i><i style="background:linear-gradient(90deg,#00ff39,#00ff64,#00ff87,#00ffa1,#00ffb2,#0fb,#00ffbc,#00ffb4,#00ffa3,#00ff8a,#00ff69,#00ff3f,#00ff0c,#29ff00,#64ff00,#a6ff00,#f0ff00)"></i><i style="background:linear-gradient(90deg,#00ff31,#00ff5b,#00ff7e,#00ff98,#00ffa9,#00ffb2,#00ffb2,#0fa,#0f9,#00ff80,#00ff5e,#0f3,#00ff01,#3f0,#6fff00,#b1ff00,#fcff00)"></i><i style="background:linear-gradient(90deg,#00ff28,#00ff53,#00ff75,#00ff8e,#00ff9f,#00ffa8,#00ffa8,#00ff9f,#00ff8e,#00ff75,#00ff53,#00ff28,#0aff00,#3eff00,#7aff00,#bdff00,#fff900)"></i><i style="background:linear-gradient(90deg,#00ff20,#00ff4a,#00ff6c,#00ff85,#00ff96,#00ff9e,#00ff9e,#00ff95,#00ff84,#00ff6a,#00ff47,#00ff1c,#14ff00,#48ff00,#84ff00,#c8ff00,#fff000)"></i><i style="background:linear-gradient(90deg,#00ff18,#00ff42,#00ff63,#00ff7c,#00ff8c,#00ff94,#00ff94,#00ff8b,#00ff79,#00ff5f,#00ff3c,#0f1,#1eff00,#53ff00,#8fff00,#d3ff00,#ffe600)"></i><i style="background:linear-gradient(90deg,#00ff0f,#00ff39,#00ff5a,#00ff73,#00ff83,#00ff8a,#00ff8a,#00ff80,#00ff6e,#00ff54,#00ff31,#00ff05,#29ff00,#5eff00,#9aff00,#deff00,#fd0)"></i><i style="background:linear-gradient(90deg,#00ff07,#00ff30,#00ff51,#00ff6a,#00ff79,#00ff81,#00ff80,#00ff76,#00ff64,#00ff49,#00ff26,#05ff00,#3f0,#68ff00,#a5ff00,#e9ff00,#ffd400)"></i><i style="background:linear-gradient(90deg,#01ff00,#00ff28,#00ff48,#00ff60,#00ff70,#0f7,#00ff75,#00ff6c,#00ff59,#00ff3e,#00ff1b,#0fff00,#3dff00,#73ff00,#afff00,#f4ff00,#ffcb00)"></i><i style="background:linear-gradient(90deg,#09ff00,#00ff1f,#00ff3f,#00ff57,#0f6,#00ff6d,#00ff6b,#00ff61,#00ff4e,#0f3,#00ff0f,#19ff00,#47ff00,#7dff00,#baff00,#ff0,#ffc200)"></i><i style="background:linear-gradient(90deg,#10ff00,#00ff16,#00ff36,#00ff4e,#00ff5d,#00ff63,#00ff61,#00ff57,#0f4,#00ff28,#00ff04,#23ff00,#52ff00,#8f0,#c5ff00,#fff600,#ffb900)"></i><i style="background:linear-gradient(90deg,#17ff00,#00ff0e,#00ff2e,#00ff45,#00ff54,#00ff5a,#00ff57,#00ff4d,#00ff39,#00ff1d,#06ff00,#2dff00,#5cff00,#92ff00,#d0ff00,#fe0,#ffb000)"></i><i style="background:linear-gradient(90deg,#1eff00,#00ff05,#00ff25,#00ff3c,#00ff4a,#00ff50,#00ff4d,#00ff42,#00ff2f,#00ff13,#10ff00,#37ff00,#6f0,#9dff00,#daff00,#ffe500,#ffa700)"></i><i style="background:linear-gradient(90deg,#26ff00,#03ff00,#00ff1c,#0f3,#00ff41,#00ff46,#00ff43,#00ff38,#00ff24,#00ff08,#1aff00,#41ff00,#70ff00,#a7ff00,#e5ff00,#ffdc00,#ff9e00)"></i><i style="background:linear-gradient(90deg,#2dff00,#0aff00,#00ff13,#00ff29,#00ff37,#00ff3d,#00ff39,#00ff2e,#00ff1a,#03ff00,#23ff00,#4bff00,#7bff00,#b2ff00,#f0ff00,#ffd300,#ff9500)"></i><i style="background:linear-gradient(90deg,#34ff00,#12ff00,#00ff0a,#00ff20,#00ff2e,#0f3,#00ff2f,#00ff24,#00ff0f,#0cff00,#2dff00,#5f0,#85ff00,#bcff00,#fbff00,#ffca00,#ff8c00)"></i><i style="background:linear-gradient(90deg,#3bff00,#19ff00,#00ff01,#00ff17,#00ff24,#00ff29,#00ff26,#00ff19,#00ff05,#16ff00,#37ff00,#5fff00,#8fff00,#c7ff00,#fffa00,#ffc200,#ff8400)"></i><i style="background:linear-gradient(90deg,#42ff00,#21ff00,#06ff00,#00ff0e,#00ff1b,#00ff20,#00ff1c,#00ff0f,#05ff00,#1fff00,#40ff00,#69ff00,#9f0,#d1ff00,#fff100,#ffb900,#ff7b00)"></i><i style="background:linear-gradient(90deg,#4aff00,#28ff00,#0eff00,#00ff05,#00ff12,#00ff16,#00ff12,#00ff05,#0eff00,#29ff00,#4aff00,#73ff00,#a4ff00,#dbff00,#ffe900,#ffb000,#ff7200)"></i><i style="background:linear-gradient(90deg,#51ff00,#30ff00,#16ff00,#04ff00,#00ff08,#00ff0c,#00ff08,#05ff00,#18ff00,#32ff00,#54ff00,#7dff00,#aeff00,#e6ff00,#ffe000,#ffa700,#ff6900)"></i><i style="background:linear-gradient(90deg,#58ff00,#37ff00,#1eff00,#0cff00,#01ff00,#00ff03,#02ff00,#0eff00,#21ff00,#3bff00,#5dff00,#87ff00,#b8ff00,#f0ff00,#ffd800,#ff9f00,#ff6000)"></i><i style="background:linear-gradient(90deg,#5fff00,#3fff00,#25ff00,#13ff00,#09ff00,#06ff00,#0bff00,#17ff00,#2aff00,#45ff00,#67ff00,#91ff00,#c2ff00,#fbff00,#ffcf00,#ff9600,#ff5700)"></i><i style="background:linear-gradient(90deg,#6f0,#46ff00,#2dff00,#1bff00,#1f0,#0fff00,#13ff00,#1fff00,#3f0,#4eff00,#71ff00,#9bff00,#cf0,#fffa00,#ffc700,#ff8d00,#ff4e00)"></i></div>
<svg width="400" height="550" viewBox="0 0 400 550">
<path d="M302.2 94.7L303.7 95.8L305 98.1L304.8 101.5L303.5 103.8L302.2 105L300 106.2L296.6 106.5L294.2 105.6L292.5 103.8L291.7 101.5L291.9 99.2L293.1 97L295.4 95L297.7 94.1L301.1 94.2L302.2 94.7" fill="none" stroke="#14281a" stroke-opacity=".85" stroke-width=".7"/>
<path d="M267.3 151L265 149.8L262.9 148.7L260.9 147.5L258.6 145.9L256.3 144.1L255 142.9L254 142.1" fill="none" stroke="#14281a" stroke-opacity=".85" stroke-width=".7"/>
<path d="M254 68.3L255.2 67L257.3 64.8L258.6 63.4L260.9 61.3L262.3 60.2L264.4 58.5L266.6 56.9L268.6 55.5L270.4 54.4L272.4 53.2L274.7 52L277 50.9L279.3 49.8L282.2 48.6L285.1 47.7L287.4 47L289.6 46.3L293.1 45.6L295.4 45.2L298.9 44.7L302.3 44.5L305.8 44.4L309.2 44.5L312.6 44.8L315.5 45.2L318.4 45.8L320.8 46.4L324.1 47.4L326.4 48.2L328.8 49.2L331.1 50.2L333.4 51.5L335.6 52.8L337.9 54.4L339.5 55.5L341.4 57.1L343.4 59L344.9 60.4L346.7 62.4L348.3 64.5L349.4 66.1L350.8 68.2L352.2 70.5L353.3 72.8L354.3 75.1L355.2 77.4L356.3 80.9L356.8 83.2L357.4 86.6L357.7 88.9L357.9 92.3L357.9 95.8L357.6 99.2L357.3 101.5L356.7 105L356.1 107.3L355.2 110.5L354.3 113L353.4 115.3L352.4 117.7L351.2 120L350 122.2L348.6 124.5L347.1 126.7L346 128.3L344.5 130.3L342.6 132.6L341.4 133.9L339.3 136.1L337.9 137.3L335.6 139.4L334.2 140.7L332.2 142.2L329.9 143.8L327.8 145.2L325.9 146.4L323.9 147.6L321.8 148.7L319.4 149.8L316.8 151L316.8 151" fill="none" stroke="#14281a" stroke-opacity=".85" stroke-width=".7"/>
<path d="M254 38.8L256.3 37.3L258.3 36L260.2 34.8L262.2 33.7L264.4 32.5L266.6 31.4L269 30.2L271.6 29.1L274.4 27.9L277 27L279.3 26.2L281.6 25.5L285.1 24.5L287.4 23.9L290 23.3L293.1 22.8L296.6 22.3L298.9 22L302.3 21.7L305.8 21.5L309.2 21.5L312.6 21.6L316.1 21.8L319.5 22.2L321.9 22.6L325.3 23.2L327.6 23.7L330.8 24.5L333.4 25.3L335.6 26L337.9 26.9L340.5 27.9L343.1 29.1L345.4 30.2L347.5 31.4L349.5 32.6L351.8 34L354.1 35.6L356.2 37.2L357.6 38.3L359.8 40.2L361.5 41.8L363.2 43.5L364.9 45.2L366.7 47.3L367.9 48.7L369.6 51L371.1 53.2L372.4 55.3L373.6 57.3L374.8 59.4L375.9 61.8L377.1 64.4L378.1 67.1L378.9 69.3L379.6 71.7L380.5 75.1L381 77.4L381.6 80.9L381.9 83.2L382.1 86.6L382.3 90.1L382.2 93.5L382 97L381.7 100.4L381.3 102.7L380.7 106.2L380.2 108.4L379.4 111.8L378.6 114.2L377.9 116.5L377 118.8L375.9 121.6L374.8 124.2L373.6 126.6L372.4 128.8L371.3 130.9L370.1 132.8L368.9 134.9L367.3 137.2L365.7 139.5L364.4 141.2L363 142.9L361.1 145.2L359.8 146.7L358 148.7L356.4 150.4L355.7 151" fill="none" stroke="#14281a" stroke-opacity=".85" stroke-width=".7"/>
<path d="M392 129.1L390.9 131.4L389.7 133.8L388.5 136L387.4 138L386.2 140L385.1 141.8L383.6 144.1L382.1 146.4L380.5 148.6L379.4 150.1L378.7 151" fill="none" stroke="#14281a" stroke-opacity=".85" stroke-width=".7"/>
<path d="M352.6 13L355 14.2L357.2 15.3L359.2 16.5L361.2 17.6L363.2 18.9L365.6 20.5L367.9 22.1L369.5 23.3L371.3 24.8L373.6 26.8L374.9 27.9L377.1 30.1L378.3 31.4L380.5 33.7L381.6 35.1L383.3 37.2L385.1 39.5L386.2 41.1L387.5 42.9L388.9 45.2L390.3 47.5L391.6 49.8L392 50.7" fill="none" stroke="#14281a" stroke-opacity=".85" stroke-width=".7"/>
<path d="M254 18.9L256.3 17.7L258.6 16.5L260.9 15.3L263.2 14.3L265.5 13.3L266.1 13" fill="none" stroke="#14281a" stroke-opacity=".85" stroke-width=".7"/>
<path d="M382.3 13L383.9 14.4L386.2 16.5L387.5 17.6L389.7 19.8L390.9 21.1L392 22.2" fill="none" stroke="#14281a" stroke-opacity=".85" stroke-width=".7"/>
<rect x="254" y="13" width="138" height="138" fill="none" stroke="#333" stroke-width=".5"/>
<rect x="291.7" y="100.4" width="7.6" height="5.2" fill="#fff" stroke="#444" stroke-width=".5"/>
<text x="295.5" y="104.5" font-size="4.3" text-anchor="middle" fill="#222" >1.2</text>
<rect x="343" y="57.8" width="7.6" height="5.2" fill="#fff" stroke="#444" stroke-width=".5"/>
<text x="346.8" y="61.9" font-size="4.3" text-anchor="middle" fill="#222" >1.3</text>
<rect x="359.6" y="38.9" width="7.6" height="5.2" fill="#fff" stroke="#444" stroke-width=".5"/>
<text x="363.4" y="43" font-size="4.3" text-anchor="middle" fill="#222" >1.4</text>
<rect x="371.1" y="23.9" width="7.6" height="5.2" fill="#fff" stroke="#444" stroke-width=".5"/>
<text x="374.9" y="28.1" font-size="4.3" text-anchor="middle" fill="#222" >1.5</text>
<rect x="383.7" y="13.6" width="7.6" height="5.2" fill="#fff" stroke="#444" stroke-width=".5"/>
<text x="387.5" y="17.8" font-size="4.3" text-anchor="middle" fill="#222" >1.6</text>
<rect x="257.2" y="141.4" width="7.6" height="5.2" fill="#fff" stroke="#444" stroke-width=".5"/>
<text x="261" y="145.6" font-size="4.3" text-anchor="middle" fill="#222" >1.3</text>
<rect x="380.7" y="133.9" width="7.6" height="5.2" fill="#fff" stroke="#444" stroke-width=".5"/>
<text x="384.5" y="138.1" font-size="4.3" text-anchor="middle" fill="#222" >1.5</text>
<path d="M254 151v3.4" stroke="#333" stroke-width=".6"/>
<text x="254" y="161" font-size="4.4" font-weight="bold" text-anchor="middle" fill="#222" stroke="#222" stroke-width=".12" >6.00</text>
<path d="M281.6 151v3.4" stroke="#333" stroke-width=".6"/>
<text x="281.6" y="161" font-size="4.4" font-weight="bold" text-anchor="middle" fill="#222" stroke="#222" stroke-width=".12" >6.20</text>
<path d="M309.2 151v3.4" stroke="#333" stroke-width=".6"/>
<text x="309.2" y="161" font-size="4.4" font-weight="bold" text-anchor="middle" fill="#222" stroke="#222" stroke-width=".12" >6.40</text>
<path d="M336.8 151v3.4" stroke="#333" stroke-width=".6"/>
<text x="336.8" y="161" font-size="4.4" font-weight="bold" text-anchor="middle" fill="#222" stroke="#222" stroke-width=".12" >6.60</text>
<path d="M364.4 151v3.4" stroke="#333" stroke-width=".6"/>
<text x="364.4" y="161" font-size="4.4" font-weight="bold" text-anchor="middle" fill="#222" stroke="#222" stroke-width=".12" >6.80</text>
<path d="M392 151v3.4" stroke="#333" stroke-width=".6"/>
<text x="392" y="161" font-size="4.4" font-weight="bold" text-anchor="middle" fill="#222" stroke="#222" stroke-width=".12" >7.00</text>
<path d="M254 151h-4.2" stroke="#333" stroke-width=".6"/>
<text x="248.8" y="152.5" font-size="4.4" font-weight="bold" text-anchor="end" fill="#222" stroke="#222" stroke-width=".12" >4.00</text>
<path d="M254 116.5h-4.2" stroke="#333" stroke-width=".6"/>
<text x="248.8" y="118" font-size="4.4" font-weight="bold" text-anchor="end" fill="#222" stroke="#222" stroke-width=".12" >4.50</text>
<path d="M254 82h-4.2" stroke="#333" stroke-width=".6"/>
<text x="248.8" y="83.5" font-size="4.4" font-weight="bold" text-anchor="end" fill="#222" stroke="#222" stroke-width=".12" >5.00</text>
<path d="M254 47.5h-4.2" stroke="#333" stroke-width=".6"/>
<text x="248.8" y="49" font-size="4.4" font-weight="bold" text-anchor="end" fill="#222" stroke="#222" stroke-width=".12" >5.50</text>
<path d="M254 13h-4.2" stroke="#333" stroke-width=".6"/>
<text x="248.8" y="14.5" font-size="4.4" font-weight="bold" text-anchor="end" fill="#222" stroke="#222" stroke-width=".12" >6.00</text>
<text transform="translate(323.5 10.2) scale(.885 1)" font-size="8.5" font-weight="bold" text-anchor="middle" fill="#111" >DHA production</text>
<text x="323" y="179" font-size="5.2" font-weight="bold" text-anchor="middle" fill="#222" >Initial pH</text>
<text transform="translate(230.5 87.8) rotate(-90)" font-size="5.85" text-anchor="middle" fill="#222" >Inoculum volume</text>
<path d="M393.5 203.8L391.5 205.7L390 207.1L387.8 209.2L386.5 210.3L384.3 212.4L382.7 213.8L380.8 215.5L378.8 217.2L377.3 218.5L375 220.5L373.5 221.9L371.6 223.5L369.3 225.3L367.9 226.5L365.8 228.2L363.6 229.9L362.1 231.1L360 232.7L357.7 234.4L355.9 235.7L354.3 236.9L351.9 238.5L349.6 240.1L347.6 241.5L345.8 242.6L343.9 243.8L341.6 245.2L339.3 246.6L336.9 247.9L334.6 249.1L332.3 250.3L330 251.5L327.7 252.5L325.4 253.5L323.1 254.4L320.6 255.3L317.3 256.4L315 257L312.5 257.6L309.2 258.3L305.8 258.7L303.5 258.9L300 258.9L297.7 258.8L294.2 258.4L290.8 257.6L288.5 256.9L286.2 256.1L283.9 255.1L281.5 253.9L279.2 252.5L276.9 250.9L275.3 249.6L273.5 248L271.4 246.1L270 244.6L268.2 242.6L266.5 240.6L265.4 239.1L263.8 236.9L262.3 234.6L260.8 232.2L259.6 230.2L258.5 228.1L257.3 225.9L256.2 223.6L255 221.2L255 221.2" fill="none" stroke="#14281a" stroke-opacity=".85" stroke-width=".7"/>
<path d="M393.5 249.9L391.8 251.9L390 253.9L388.7 255.3L386.7 257.6L385.4 259.1L383.6 261.1L382 262.9L380.5 264.6L378.5 266.7L377.3 268L375.2 270.3L373.9 271.7L372 273.8L370.4 275.5L368.7 277.3L367 279.1L365.4 280.7L363.5 282.7L362.1 284.2L360 286.3L358.7 287.6L356.6 289.8L355.3 291.1L353.1 293.3L351.8 294.6L349.6 296.6L348.2 298L346.2 300L344.6 301.5L342.7 303.2L340.8 305L339.3 306.4L337 308.4L335.7 309.6L333.5 311.5L331.8 313L330 314.5L327.7 316.5L326.3 317.6L324.2 319.3L321.9 321.1L320.4 322.3L318.5 323.8L316.2 325.5L314.2 326.9L312.6 328L310.4 329.5L308.1 331L307.4 331.5" fill="none" stroke="#14281a" stroke-opacity=".85" stroke-width=".7"/>
<path d="M393.5 295.1L392.2 296.9L390.4 299.2L388.9 301.3L387.7 302.8L386.1 305L384.3 307.3L383.1 308.8L381.7 310.7L379.9 313L378.5 314.9L377.2 316.5L375.5 318.8L373.9 320.9L372.7 322.3L371 324.6L369.3 326.8L368.1 328.3L366.5 330.3L365.6 331.5" fill="none" stroke="#14281a" stroke-opacity=".85" stroke-width=".7"/>
<rect x="255" y="193" width="138.5" height="138.5" fill="none" stroke="#333" stroke-width=".5"/>
<rect x="319.9" y="249.9" width="7.6" height="5.2" fill="#fff" stroke="#444" stroke-width=".5"/>
<text x="323.8" y="254.1" font-size="4.3" text-anchor="middle" fill="#222" >1.2</text>
<rect x="351.5" y="286.9" width="7.6" height="5.2" fill="#fff" stroke="#444" stroke-width=".5"/>
<text x="355.3" y="291.1" font-size="4.3" text-anchor="middle" fill="#222" >1.4</text>
<rect x="376.1" y="308.1" width="7.6" height="5.2" fill="#fff" stroke="#444" stroke-width=".5"/>
<text x="379.9" y="312.2" font-size="4.3" text-anchor="middle" fill="#222" >1.6</text>
<path d="M255 331.5v3.4" stroke="#333" stroke-width=".6"/>
<text x="255" y="341.5" font-size="4.4" font-weight="bold" text-anchor="middle" fill="#222" stroke="#222" stroke-width=".12" >6.00</text>
<path d="M282.7 331.5v3.4" stroke="#333" stroke-width=".6"/>
<text x="282.7" y="341.5" font-size="4.4" font-weight="bold" text-anchor="middle" fill="#222" stroke="#222" stroke-width=".12" >6.20</text>
<path d="M310.4 331.5v3.4" stroke="#333" stroke-width=".6"/>
<text x="310.4" y="341.5" font-size="4.4" font-weight="bold" text-anchor="middle" fill="#222" stroke="#222" stroke-width=".12" >6.40</text>
<path d="M338.1 331.5v3.4" stroke="#333" stroke-width=".6"/>
<text x="338.1" y="341.5" font-size="4.4" font-weight="bold" text-anchor="middle" fill="#222" stroke="#222" stroke-width=".12" >6.60</text>
<path d="M365.8 331.5v3.4" stroke="#333" stroke-width=".6"/>
<text x="365.8" y="341.5" font-size="4.4" font-weight="bold" text-anchor="middle" fill="#222" stroke="#222" stroke-width=".12" >6.80</text>
<path d="M393.5 331.5v3.4" stroke="#333" stroke-width=".6"/>
<text x="393.5" y="341.5" font-size="4.4" font-weight="bold" text-anchor="middle" fill="#222" stroke="#222" stroke-width=".12" >7.00</text>
<path d="M255 331.5h-4.2" stroke="#333" stroke-width=".6"/>
<text x="249.8" y="333" font-size="4.4" font-weight="bold" text-anchor="end" fill="#222" stroke="#222" stroke-width=".12" >140</text>
<path d="M255 317.6h-4.2" stroke="#333" stroke-width=".6"/>
<text x="249.8" y="319.1" font-size="4.4" font-weight="bold" text-anchor="end" fill="#222" stroke="#222" stroke-width=".12" >148</text>
<path d="M255 303.8h-4.2" stroke="#333" stroke-width=".6"/>
<text x="249.8" y="305.3" font-size="4.4" font-weight="bold" text-anchor="end" fill="#222" stroke="#222" stroke-width=".12" >156</text>
<path d="M255 289.9h-4.2" stroke="#333" stroke-width=".6"/>
<text x="249.8" y="291.4" font-size="4.4" font-weight="bold" text-anchor="end" fill="#222" stroke="#222" stroke-width=".12" >164</text>
<path d="M255 276.1h-4.2" stroke="#333" stroke-width=".6"/>
<text x="249.8" y="277.6" font-size="4.4" font-weight="bold" text-anchor="end" fill="#222" stroke="#222" stroke-width=".12" >172</text>
<path d="M255 262.2h-4.2" stroke="#333" stroke-width=".6"/>
<text x="249.8" y="263.8" font-size="4.4" font-weight="bold" text-anchor="end" fill="#222" stroke="#222" stroke-width=".12" >180</text>
<path d="M255 248.4h-4.2" stroke="#333" stroke-width=".6"/>
<text x="249.8" y="249.9" font-size="4.4" font-weight="bold" text-anchor="end" fill="#222" stroke="#222" stroke-width=".12" >188</text>
<path d="M255 234.6h-4.2" stroke="#333" stroke-width=".6"/>
<text x="249.8" y="236.1" font-size="4.4" font-weight="bold" text-anchor="end" fill="#222" stroke="#222" stroke-width=".12" >196</text>
<path d="M255 220.7h-4.2" stroke="#333" stroke-width=".6"/>
<text x="249.8" y="222.2" font-size="4.4" font-weight="bold" text-anchor="end" fill="#222" stroke="#222" stroke-width=".12" >204</text>
<path d="M255 206.9h-4.2" stroke="#333" stroke-width=".6"/>
<text x="249.8" y="208.4" font-size="4.4" font-weight="bold" text-anchor="end" fill="#222" stroke="#222" stroke-width=".12" >212</text>
<path d="M255 193h-4.2" stroke="#333" stroke-width=".6"/>
<text x="249.8" y="194.5" font-size="4.4" font-weight="bold" text-anchor="end" fill="#222" stroke="#222" stroke-width=".12" >220</text>
<text transform="translate(324 190.6) scale(.885 1)" font-size="8.5" font-weight="bold" text-anchor="middle" fill="#111" >DHA production</text>
<text x="323.8" y="359.8" font-size="5.2" font-weight="bold" text-anchor="middle" fill="#222" >Initial pH</text>
<text transform="translate(230.5 278) rotate(-90)" font-size="5.85" text-anchor="middle" fill="#222" >Fermentation volume</text>
<path d="M394.5 377.1L393.1 378.9L391.2 381.2L389.8 382.9L388.4 384.7L386.4 387.1L385.1 388.6L383.4 390.6L381.6 392.6L380.3 394.1L378.2 396.5L376.9 397.8L374.9 400L373.4 401.6L371.5 403.5L369.9 405.2L368 407.1L366.4 408.6L364.4 410.6L362.9 411.9L360.5 414L359.1 415.3L357 417.1L354.9 418.8L353.5 420L351.2 421.7L348.8 423.5L347.1 424.7L345.3 425.9L343 427.5L340.6 428.9L338.3 430.3L336 431.5L333.6 432.7L331.3 433.8L328.9 434.8L326.6 435.7L324.2 436.5L320.7 437.5L318.4 438L314.9 438.6L312.5 438.9L309 439.1L305.5 439L302.7 438.8L299.7 438.3L296.6 437.6L293.8 436.8L291.5 435.9L289.1 435L286.8 433.9L284.4 432.6L282.1 431.2L279.8 429.6L277.8 428.2L276.2 427L273.9 425.1L272.2 423.5L270.4 421.8L268.5 420L266.9 418.2L265.3 416.4L263.4 414.3L262.2 412.8L260.4 410.6L258.7 408.3L257.5 406.7L256.1 404.7L254.5 402.4L254 401.6" fill="none" stroke="#14281a" stroke-opacity=".85" stroke-width=".7"/>
<path d="M394.5 432L393 434.1L391.4 436.4L389.8 438.6L388.6 440.2L387.1 442.3L385.4 444.6L384 446.5L382.7 448.2L380.9 450.5L379.3 452.7L378.1 454.2L376.3 456.4L374.6 458.6L373.4 460L371.6 462.3L369.9 464.2L368.6 465.8L366.6 468.1L365.2 469.7L363.4 471.7L361.7 473.6L360.2 475.2L358.2 477.3L356.8 478.7L354.7 480.9L353.3 482.2L351.2 484.3L349.6 485.8L347.7 487.6L345.7 489.3L344.2 490.7L341.8 492.6L340.1 494L338.3 495.4L336 497.2L333.8 498.7L332.1 499.9L330.1 501.2L327.8 502.6L325.4 504L323.1 505.2L320.7 506.4L318.4 507.5L316.1 508.4L313.7 509.3L310.2 510.4L307.9 511L304.4 511.6L302 511.9L298.5 512.1L295 512.1L291.5 511.7L289.1 511.3L285.6 510.5L283.3 509.7L280.9 508.8L278.6 507.8L276.2 506.6L273.9 505.3L271.6 503.8L269.4 502.2L267.9 501.1L265.7 499.3L263.8 497.5L262.2 496L260.2 494L258.7 492.4L256.9 490.5L255.2 488.4L254 487" fill="none" stroke="#14281a" stroke-opacity=".85" stroke-width=".7"/>
<path d="M394.5 488L393.3 489.8L392.2 491.7L390.7 494L389.2 496.4L387.7 498.7L386.3 500.8L385.1 502.6L383.8 504.6L382.3 506.9L380.7 509.3L379.3 511.3L378.1 513.1L376.7 515.1L375 517.5L375 517.5" fill="none" stroke="#14281a" stroke-opacity=".85" stroke-width=".7"/>
<rect x="254" y="376.5" width="140.5" height="141" fill="none" stroke="#333" stroke-width=".5"/>
<rect x="327.2" y="430.4" width="7.6" height="5.2" fill="#fff" stroke="#444" stroke-width=".5"/>
<text x="331" y="434.6" font-size="4.3" text-anchor="middle" fill="#222" >1.2</text>
<rect x="332.2" y="492.9" width="7.6" height="5.2" fill="#fff" stroke="#444" stroke-width=".5"/>
<text x="336" y="497.1" font-size="4.3" text-anchor="middle" fill="#222" >1.4</text>
<rect x="381.2" y="496.4" width="7.6" height="5.2" fill="#fff" stroke="#444" stroke-width=".5"/>
<text x="385" y="500.6" font-size="4.3" text-anchor="middle" fill="#222" >1.6</text>
<path d="M254 517.5v3.4" stroke="#333" stroke-width=".6"/>
<text x="254" y="527.5" font-size="4.4" font-weight="bold" text-anchor="middle" fill="#222" stroke="#222" stroke-width=".12" >4.00</text>
<path d="M289.1 517.5v3.4" stroke="#333" stroke-width=".6"/>
<text x="289.1" y="527.5" font-size="4.4" font-weight="bold" text-anchor="middle" fill="#222" stroke="#222" stroke-width=".12" >4.50</text>
<path d="M324.2 517.5v3.4" stroke="#333" stroke-width=".6"/>
<text x="324.2" y="527.5" font-size="4.4" font-weight="bold" text-anchor="middle" fill="#222" stroke="#222" stroke-width=".12" >5.00</text>
<path d="M359.4 517.5v3.4" stroke="#333" stroke-width=".6"/>
<text x="359.4" y="527.5" font-size="4.4" font-weight="bold" text-anchor="middle" fill="#222" stroke="#222" stroke-width=".12" >5.50</text>
<path d="M394.5 517.5v3.4" stroke="#333" stroke-width=".6"/>
<text x="394.5" y="527.5" font-size="4.4" font-weight="bold" text-anchor="middle" fill="#222" stroke="#222" stroke-width=".12" >6.00</text>
<path d="M254 517.5h-4.2" stroke="#333" stroke-width=".6"/>
<text x="248.8" y="519" font-size="4.4" font-weight="bold" text-anchor="end" fill="#222" stroke="#222" stroke-width=".12" >140</text>
<path d="M254 503.4h-4.2" stroke="#333" stroke-width=".6"/>
<text x="248.8" y="504.9" font-size="4.4" font-weight="bold" text-anchor="end" fill="#222" stroke="#222" stroke-width=".12" >148</text>
<path d="M254 489.3h-4.2" stroke="#333" stroke-width=".6"/>
<text x="248.8" y="490.8" font-size="4.4" font-weight="bold" text-anchor="end" fill="#222" stroke="#222" stroke-width=".12" >156</text>
<path d="M254 475.2h-4.2" stroke="#333" stroke-width=".6"/>
<text x="248.8" y="476.7" font-size="4.4" font-weight="bold" text-anchor="end" fill="#222" stroke="#222" stroke-width=".12" >164</text>
<path d="M254 461.1h-4.2" stroke="#333" stroke-width=".6"/>
<text x="248.8" y="462.6" font-size="4.4" font-weight="bold" text-anchor="end" fill="#222" stroke="#222" stroke-width=".12" >172</text>
<path d="M254 447h-4.2" stroke="#333" stroke-width=".6"/>
<text x="248.8" y="448.5" font-size="4.4" font-weight="bold" text-anchor="end" fill="#222" stroke="#222" stroke-width=".12" >180</text>
<path d="M254 432.9h-4.2" stroke="#333" stroke-width=".6"/>
<text x="248.8" y="434.4" font-size="4.4" font-weight="bold" text-anchor="end" fill="#222" stroke="#222" stroke-width=".12" >188</text>
<path d="M254 418.8h-4.2" stroke="#333" stroke-width=".6"/>
<text x="248.8" y="420.3" font-size="4.4" font-weight="bold" text-anchor="end" fill="#222" stroke="#222" stroke-width=".12" >196</text>
<path d="M254 404.7h-4.2" stroke="#333" stroke-width=".6"/>
<text x="248.8" y="406.2" font-size="4.4" font-weight="bold" text-anchor="end" fill="#222" stroke="#222" stroke-width=".12" >204</text>
<path d="M254 390.6h-4.2" stroke="#333" stroke-width=".6"/>
<text x="248.8" y="392.1" font-size="4.4" font-weight="bold" text-anchor="end" fill="#222" stroke="#222" stroke-width=".12" >212</text>
<path d="M254 376.5h-4.2" stroke="#333" stroke-width=".6"/>
<text x="248.8" y="378" font-size="4.4" font-weight="bold" text-anchor="end" fill="#222" stroke="#222" stroke-width=".12" >220</text>
<text transform="translate(324 373) scale(.885 1)" font-size="8.5" font-weight="bold" text-anchor="middle" fill="#111" >DHA production</text>
<text x="317.5" y="547" font-size="5.2" font-weight="bold" text-anchor="middle" fill="#222" >Inoculum volume</text>
<text transform="translate(229.2 463) rotate(-90)" font-size="5.85" text-anchor="middle" fill="#222" >Fermentation volume</text>
<path d="M51 25.3L129.2 7.5" stroke="#9a9a9a" stroke-width="0.6" fill="none"/>
<path d="M129.2 7.5L207.5 25.3" stroke="#9a9a9a" stroke-width="0.6" fill="none"/>
<path d="M129.2 7.5L129.3 98.6" stroke="#9a9a9a" stroke-width="0.6" fill="none"/>
<path d="M207.5 25.3L202.5 126.3" stroke="#9a9a9a" stroke-width="0.6" fill="none"/>
<path d="M51 25.3L56 126.2" stroke="#555" stroke-width="0.6" fill="none"/>
<path d="M56 126.2L129 161.5L202.5 126.3L129.3 98.6z" fill="#ffff00"/>
<path d="M123.7 136.1L126.6 135.8L129.6 136.7L130.4 138L129.7 139.1L127.3 140.2L125.1 140.4L122.6 139.8L121.4 138.8L121.4 137.5L122.7 136.5L123.7 136.1" fill="none" stroke="#8cc173" stroke-width=".8"/>
<path d="M69.7 132.8L70.3 131.5L71 130.2L71.8 129.1L72.8 127.9L73.8 126.8L74.9 125.7L76 124.7L77.8 123.3L79.3 122.3L80.7 121.4L83 120.2L85.4 119L87.1 118.2L89.8 117.1L92.1 116.3L94.7 115.5L97.8 114.6L100 114.1L103.5 113.3L105.9 112.9L108.4 112.4L111 112L113.7 111.7L116.6 111.4L119.6 111.2L122.7 111L125.1 110.9L127.8 110.8L130.8 110.8L133.4 110.9L135.9 111L139.1 111.1L142.1 111.4L144.8 111.7L147.6 112L150.2 112.5L152.6 112.9L155 113.4L158.3 114.2L160.4 114.8L163.4 115.7L166.2 116.8L168.8 117.9L170.4 118.7L172.7 120L174.1 120.9L176.1 122.3L177.3 123.3L178.4 124.3L179.4 125.4L180.3 126.6L181.1 127.8L181.7 129L182.3 130.3L182.6 131.3L182.9 132.5L183.1 133.9L183.2 134.7L183.2 135.5" fill="none" stroke="#8cff04" stroke-width=".8"/>
<path d="M124.2 100.5L127 100.5L130 100.4L132.3 100.4L134.2 100.4" fill="none" stroke="#ffeb00" stroke-width=".8"/>
<path d="M129.2 38.4L132.7 35.4L129.2 32.3L125.8 35.3z" fill="#b18c19" stroke="#b18c19" stroke-width=".7"/>
<path d="M125.8 41.3L129.2 38.4L125.8 35.3L122.3 38.1z" fill="#b3a41c" stroke="#b3a41c" stroke-width=".7"/>
<path d="M132.7 41.4L136.2 38.3L132.7 35.4L129.2 38.4z" fill="#b3a51c" stroke="#b3a51c" stroke-width=".7"/>
<path d="M122.3 44L125.8 41.3L122.3 38.1L118.8 40.8z" fill="#b0b41d" stroke="#b0b41d" stroke-width=".7"/>
<path d="M129.2 44.3L132.7 41.4L129.2 38.4L125.8 41.3z" fill="#acb41d" stroke="#acb41d" stroke-width=".7"/>
<path d="M136.2 44.1L139.7 41L136.2 38.3L132.7 41.4z" fill="#adb41d" stroke="#adb41d" stroke-width=".7"/>
<path d="M118.8 46.6L122.3 44L118.8 40.8L115.3 43.3z" fill="#98b21c" stroke="#98b21c" stroke-width=".7"/>
<path d="M125.8 47L129.2 44.3L125.8 41.3L122.3 44z" fill="#91b21b" stroke="#91b21b" stroke-width=".7"/>
<path d="M132.7 47.1L136.2 44.1L132.7 41.4L129.2 44.3z" fill="#90b21b" stroke="#90b21b" stroke-width=".7"/>
<path d="M139.7 46.8L143.2 43.6L139.7 41L136.2 44.1z" fill="#94b21b" stroke="#94b21b" stroke-width=".7"/>
<path d="M122.3 49.7L125.8 47L122.3 44L118.8 46.6z" fill="#79b01a" stroke="#79b01a" stroke-width=".7"/>
<path d="M136.2 49.8L139.7 46.8L136.2 44.1L132.7 47.1z" fill="#77b01a" stroke="#77b01a" stroke-width=".7"/>
<path d="M115.4 49L118.8 46.6L115.3 43.3L111.9 45.7z" fill="#82b01a" stroke="#82b01a" stroke-width=".7"/>
<path d="M129.3 49.9L132.7 47.1L129.2 44.3L125.8 47z" fill="#75b019" stroke="#75b019" stroke-width=".7"/>
<path d="M143.1 49.2L146.6 46L143.2 43.6L139.7 46.8z" fill="#7eb01a" stroke="#7eb01a" stroke-width=".7"/>
<path d="M111.9 51.3L115.4 49L111.9 45.7L108.4 47.9z" fill="#6faf19" stroke="#6faf19" stroke-width=".7"/>
<path d="M118.9 52.2L122.3 49.7L118.8 46.6L115.4 49z" fill="#63ae18" stroke="#63ae18" stroke-width=".7"/>
<path d="M125.8 52.6L129.3 49.9L125.8 47L122.3 49.7z" fill="#5dae18" stroke="#5dae18" stroke-width=".7"/>
<path d="M132.7 52.7L136.2 49.8L132.7 47.1L129.3 49.9z" fill="#5cad18" stroke="#5cad18" stroke-width=".7"/>
<path d="M139.6 52.3L143.1 49.2L139.7 46.8L136.2 49.8z" fill="#61ad18" stroke="#61ad18" stroke-width=".7"/>
<path d="M146.6 51.5L150.1 48.2L146.6 46L143.1 49.2z" fill="#6bae19" stroke="#6bae19" stroke-width=".7"/>
<path d="M108.5 53.4L111.9 51.3L108.4 47.9L105 50z" fill="#5ead18" stroke="#5ead18" stroke-width=".7"/>
<path d="M115.4 54.5L118.9 52.2L115.4 49L111.9 51.3z" fill="#50ac17" stroke="#50ac17" stroke-width=".7"/>
<path d="M129.3 55.4L132.7 52.7L129.3 49.9L125.8 52.6z" fill="#44ab16" stroke="#44ab16" stroke-width=".7"/>
<path d="M143.1 54.6L146.6 51.5L143.1 49.2L139.6 52.3z" fill="#4dab17" stroke="#4dab17" stroke-width=".7"/>
<path d="M150 53.6L153.5 50.3L150.1 48.2L146.6 51.5z" fill="#5aac18" stroke="#5aac18" stroke-width=".7"/>
<path d="M122.3 55.2L125.8 52.6L122.3 49.7L118.9 52.2z" fill="#47ac17" stroke="#47ac17" stroke-width=".7"/>
<path d="M136.2 55.2L139.6 52.3L136.2 49.8L132.7 52.7z" fill="#46ab16" stroke="#46ab16" stroke-width=".7"/>
<path d="M112 56.7L115.4 54.5L111.9 51.3L108.5 53.4z" fill="#3faa16" stroke="#3faa16" stroke-width=".7"/>
<path d="M146.5 56.8L150 53.6L146.6 51.5L143.1 54.6z" fill="#3ca916" stroke="#3ca916" stroke-width=".7"/>
<path d="M105 55.4L108.5 53.4L105 50L101.5 51.9z" fill="#4fab17" stroke="#4fab17" stroke-width=".7"/>
<path d="M118.9 57.5L122.3 55.2L118.9 52.2L115.4 54.5z" fill="#34aa15" stroke="#34aa15" stroke-width=".7"/>
<path d="M125.8 58L129.3 55.4L125.8 52.6L122.3 55.2z" fill="#2ea915" stroke="#2ea915" stroke-width=".7"/>
<path d="M132.7 58L136.2 55.2L132.7 52.7L129.3 55.4z" fill="#2da915" stroke="#2da915" stroke-width=".7"/>
<path d="M139.6 57.6L143.1 54.6L139.6 52.3L136.2 55.2z" fill="#32a915" stroke="#32a915" stroke-width=".7"/>
<path d="M153.5 55.5L157 52.2L153.5 50.3L150 53.6z" fill="#4caa17" stroke="#4caa17" stroke-width=".7"/>
<path d="M101.6 57.2L105 55.4L101.5 51.9L98.1 53.7z" fill="#43a916" stroke="#43a916" stroke-width=".7"/>
<path d="M108.5 58.7L112 56.7L108.5 53.4L105 55.4z" fill="#30a915" stroke="#30a915" stroke-width=".7"/>
<path d="M115.4 59.8L118.9 57.5L115.4 54.5L112 56.7z" fill="#23a814" stroke="#23a814" stroke-width=".7"/>
<path d="M122.3 60.4L125.8 58L122.3 55.2L118.9 57.5z" fill="#1aa714" stroke="#1aa714" stroke-width=".7"/>
<path d="M129.2 60.6L132.7 58L129.3 55.4L125.8 58z" fill="#17a713" stroke="#17a713" stroke-width=".7"/>
<path d="M136.2 60.4L139.6 57.6L136.2 55.2L132.7 58z" fill="#1aa714" stroke="#1aa714" stroke-width=".7"/>
<path d="M143.1 59.8L146.5 56.8L143.1 54.6L139.6 57.6z" fill="#21a714" stroke="#21a714" stroke-width=".7"/>
<path d="M150 58.8L153.5 55.5L150 53.6L146.5 56.8z" fill="#2ea815" stroke="#2ea815" stroke-width=".7"/>
<path d="M156.9 57.3L160.4 53.9L157 52.2L153.5 55.5z" fill="#40a816" stroke="#40a816" stroke-width=".7"/>
<path d="M98.1 58.8L101.6 57.2L98.1 53.7L94.6 55.3z" fill="#39a815" stroke="#39a815" stroke-width=".7"/>
<path d="M105.1 60.6L108.5 58.7L105 55.4L101.6 57.2z" fill="#24a714" stroke="#24a714" stroke-width=".7"/>
<path d="M112 61.8L115.4 59.8L112 56.7L108.5 58.7z" fill="#14a613" stroke="#14a613" stroke-width=".7"/>
<path d="M118.9 62.7L122.3 60.4L118.9 57.5L115.4 59.8z" fill="#13a61e" stroke="#13a61e" stroke-width=".7"/>
<path d="M125.8 63.1L129.2 60.6L125.8 58L122.3 60.4z" fill="#13a624" stroke="#13a624" stroke-width=".7"/>
<path d="M132.7 63.1L136.2 60.4L132.7 58L129.2 60.6z" fill="#13a624" stroke="#13a624" stroke-width=".7"/>
<path d="M139.6 62.7L143.1 59.8L139.6 57.6L136.2 60.4z" fill="#13a61e" stroke="#13a61e" stroke-width=".7"/>
<path d="M146.5 61.8L150 58.8L146.5 56.8L143.1 59.8z" fill="#13a513" stroke="#13a513" stroke-width=".7"/>
<path d="M153.4 60.6L156.9 57.3L153.5 55.5L150 58.8z" fill="#23a614" stroke="#23a614" stroke-width=".7"/>
<path d="M160.4 58.8L163.9 55.4L160.4 53.9L156.9 57.3z" fill="#38a615" stroke="#38a615" stroke-width=".7"/>
<path d="M94.7 60.3L98.1 58.8L94.6 55.3L91.2 56.7z" fill="#32a615" stroke="#32a615" stroke-width=".7"/>
<path d="M101.6 62.3L105.1 60.6L101.6 57.2L98.1 58.8z" fill="#1aa513" stroke="#1aa513" stroke-width=".7"/>
<path d="M108.6 63.7L112 61.8L108.5 58.7L105.1 60.6z" fill="#13a51f" stroke="#13a51f" stroke-width=".7"/>
<path d="M115.5 64.8L118.9 62.7L115.4 59.8L112 61.8z" fill="#14a62e" stroke="#14a62e" stroke-width=".7"/>
<path d="M122.4 65.4L125.8 63.1L122.3 60.4L118.9 62.7z" fill="#14a637" stroke="#14a637" stroke-width=".7"/>
<path d="M129.2 65.6L132.7 63.1L129.2 60.6L125.8 63.1z" fill="#14a63a" stroke="#14a63a" stroke-width=".7"/>
<path d="M136.1 65.4L139.6 62.7L136.2 60.4L132.7 63.1z" fill="#14a637" stroke="#14a637" stroke-width=".7"/>
<path d="M143 64.8L146.5 61.8L143.1 59.8L139.6 62.7z" fill="#14a52e" stroke="#14a52e" stroke-width=".7"/>
<path d="M149.9 63.7L153.4 60.6L150 58.8L146.5 61.8z" fill="#13a41f" stroke="#13a41f" stroke-width=".7"/>
<path d="M156.9 62.2L160.4 58.8L156.9 57.3L153.4 60.6z" fill="#1aa413" stroke="#1aa413" stroke-width=".7"/>
<path d="M163.8 60.2L167.3 56.7L163.9 55.4L160.4 58.8z" fill="#31a415" stroke="#31a415" stroke-width=".7"/>
<path d="M91.2 61.7L94.7 60.3L91.2 56.7L87.7 58z" fill="#2ca514" stroke="#2ca514" stroke-width=".7"/>
<path d="M98.2 63.8L101.6 62.3L98.1 58.8L94.7 60.3z" fill="#13a413" stroke="#13a413" stroke-width=".7"/>
<path d="M105.1 65.5L108.6 63.7L105.1 60.6L101.6 62.3z" fill="#13a52a" stroke="#13a52a" stroke-width=".7"/>
<path d="M112 66.8L115.5 64.8L112 61.8L108.6 63.7z" fill="#14a53b" stroke="#14a53b" stroke-width=".7"/>
<path d="M118.9 67.6L122.4 65.4L118.9 62.7L115.5 64.8z" fill="#14a647" stroke="#14a647" stroke-width=".7"/>
<path d="M125.8 68L129.2 65.6L125.8 63.1L122.4 65.4z" fill="#14a64c" stroke="#14a64c" stroke-width=".7"/>
<path d="M132.7 68L136.1 65.4L132.7 63.1L129.2 65.6z" fill="#14a54c" stroke="#14a54c" stroke-width=".7"/>
<path d="M139.6 67.5L143 64.8L139.6 62.7L136.1 65.4z" fill="#14a546" stroke="#14a546" stroke-width=".7"/>
<path d="M146.5 66.6L149.9 63.7L146.5 61.8L143 64.8z" fill="#14a43a" stroke="#14a43a" stroke-width=".7"/>
<path d="M153.4 65.3L156.9 62.2L153.4 60.6L149.9 63.7z" fill="#13a328" stroke="#13a328" stroke-width=".7"/>
<path d="M160.3 63.6L163.8 60.2L160.4 58.8L156.9 62.2z" fill="#14a213" stroke="#14a213" stroke-width=".7"/>
<path d="M167.3 61.4L170.8 57.9L167.3 56.7L163.8 60.2z" fill="#2ea314" stroke="#2ea314" stroke-width=".7"/>
<path d="M87.8 62.8L91.2 61.7L87.7 58L84.3 59.1z" fill="#29a314" stroke="#29a314" stroke-width=".7"/>
<path d="M94.8 65.2L98.2 63.8L94.7 60.3L91.2 61.7z" fill="#13a319" stroke="#13a319" stroke-width=".7"/>
<path d="M101.7 67.1L105.1 65.5L101.6 62.3L98.2 63.8z" fill="#13a432" stroke="#13a432" stroke-width=".7"/>
<path d="M108.6 68.6L112 66.8L108.6 63.7L105.1 65.5z" fill="#14a446" stroke="#14a446" stroke-width=".7"/>
<path d="M115.5 69.6L118.9 67.6L115.5 64.8L112 66.8z" fill="#14a554" stroke="#14a554" stroke-width=".7"/>
<path d="M122.4 70.2L125.8 68L122.4 65.4L118.9 67.6z" fill="#14a55d" stroke="#14a55d" stroke-width=".7"/>
<path d="M129.2 70.4L132.7 68L129.2 65.6L125.8 68z" fill="#15a55f" stroke="#15a55f" stroke-width=".7"/>
<path d="M136.1 70.2L139.6 67.5L136.1 65.4L132.7 68z" fill="#14a55c" stroke="#14a55c" stroke-width=".7"/>
<path d="M143 69.5L146.5 66.6L143 64.8L139.6 67.5z" fill="#14a452" stroke="#14a452" stroke-width=".7"/>
<path d="M149.9 68.4L153.4 65.3L149.9 63.7L146.5 66.6z" fill="#14a343" stroke="#14a343" stroke-width=".7"/>
<path d="M156.8 66.8L160.3 63.6L156.9 62.2L153.4 65.3z" fill="#13a22f" stroke="#13a22f" stroke-width=".7"/>
<path d="M163.7 64.8L167.3 61.4L163.8 60.2L160.3 63.6z" fill="#12a015" stroke="#12a015" stroke-width=".7"/>
<path d="M170.7 62.4L174.2 58.8L170.8 57.9L167.3 61.4z" fill="#2ca114" stroke="#2ca114" stroke-width=".7"/>
<path d="M84.3 63.8L87.8 62.8L84.3 59.1L80.8 60.1z" fill="#28a214" stroke="#28a214" stroke-width=".7"/>
<path d="M91.3 66.4L94.8 65.2L91.2 61.7L87.8 62.8z" fill="#13a11c" stroke="#13a11c" stroke-width=".7"/>
<path d="M98.2 68.5L101.7 67.1L98.2 63.8L94.8 65.2z" fill="#13a238" stroke="#13a238" stroke-width=".7"/>
<path d="M105.2 70.2L108.6 68.6L105.1 65.5L101.7 67.1z" fill="#14a34e" stroke="#14a34e" stroke-width=".7"/>
<path d="M118.9 72.3L122.4 70.2L118.9 67.6L115.5 69.6z" fill="#15a46a" stroke="#15a46a" stroke-width=".7"/>
<path d="M125.8 72.7L129.2 70.4L125.8 68L122.4 70.2z" fill="#15a46f" stroke="#15a46f" stroke-width=".7"/>
<path d="M132.7 72.6L136.1 70.2L132.7 68L129.2 70.4z" fill="#15a46f" stroke="#15a46f" stroke-width=".7"/>
<path d="M139.5 72.1L143 69.5L139.6 67.5L136.1 70.2z" fill="#15a468" stroke="#15a468" stroke-width=".7"/>
<path d="M153.3 69.9L156.8 66.8L153.4 65.3L149.9 68.4z" fill="#14a24a" stroke="#14a24a" stroke-width=".7"/>
<path d="M160.3 68.1L163.7 64.8L160.3 63.6L156.8 66.8z" fill="#13a033" stroke="#13a033" stroke-width=".7"/>
<path d="M167.2 65.9L170.7 62.4L167.3 61.4L163.7 64.8z" fill="#129e16" stroke="#129e16" stroke-width=".7"/>
<path d="M174.2 63.2L177.7 59.6L174.2 58.8L170.7 62.4z" fill="#2d9f14" stroke="#2d9f14" stroke-width=".7"/>
<path d="M112 71.5L115.5 69.6L112 66.8L108.6 68.6z" fill="#14a45f" stroke="#14a45f" stroke-width=".7"/>
<path d="M146.4 71.2L149.9 68.4L146.5 66.6L143 69.5z" fill="#14a35c" stroke="#14a35c" stroke-width=".7"/>
<path d="M80.9 64.6L84.3 63.8L80.8 60.1L77.3 60.8z" fill="#2aa014" stroke="#2aa014" stroke-width=".7"/>
<path d="M87.9 67.4L91.3 66.4L87.8 62.8L84.3 63.8z" fill="#13a01c" stroke="#13a01c" stroke-width=".7"/>
<path d="M101.7 71.7L105.2 70.2L101.7 67.1L98.2 68.5z" fill="#14a254" stroke="#14a254" stroke-width=".7"/>
<path d="M122.4 74.8L125.8 72.7L122.4 70.2L118.9 72.3z" fill="#15a47d" stroke="#15a47d" stroke-width=".7"/>
<path d="M136.1 74.6L139.5 72.1L136.1 70.2L132.7 72.6z" fill="#15a37b" stroke="#15a37b" stroke-width=".7"/>
<path d="M156.8 71.2L160.3 68.1L156.8 66.8L153.3 69.9z" fill="#14a04d" stroke="#14a04d" stroke-width=".7"/>
<path d="M170.7 66.7L174.2 63.2L170.7 62.4L167.2 65.9z" fill="#129c14" stroke="#129c14" stroke-width=".7"/>
<path d="M177.6 63.8L181.2 60.1L177.7 59.6L174.2 63.2z" fill="#319d14" stroke="#319d14" stroke-width=".7"/>
<path d="M94.8 69.7L98.2 68.5L94.8 65.2L91.3 66.4z" fill="#13a13b" stroke="#13a13b" stroke-width=".7"/>
<path d="M108.6 73.1L112 71.5L108.6 68.6L105.2 70.2z" fill="#14a367" stroke="#14a367" stroke-width=".7"/>
<path d="M115.5 74.2L118.9 72.3L115.5 69.6L112 71.5z" fill="#15a375" stroke="#15a375" stroke-width=".7"/>
<path d="M129.2 74.9L132.7 72.6L129.2 70.4L125.8 72.7z" fill="#15a47f" stroke="#15a47f" stroke-width=".7"/>
<path d="M143 73.9L146.4 71.2L143 69.5L139.5 72.1z" fill="#15a271" stroke="#15a271" stroke-width=".7"/>
<path d="M149.9 72.8L153.3 69.9L149.9 68.4L146.4 71.2z" fill="#14a162" stroke="#14a162" stroke-width=".7"/>
<path d="M163.7 69.2L167.2 65.9L163.7 64.8L160.3 68.1z" fill="#139e33" stroke="#139e33" stroke-width=".7"/>
<path d="M84.4 68.3L87.9 67.4L84.3 63.8L80.9 64.6z" fill="#129e1b" stroke="#129e1b" stroke-width=".7"/>
<path d="M174.1 67.4L177.6 63.8L174.2 63.2L170.7 66.7z" fill="#149a12" stroke="#149a12" stroke-width=".7"/>
<path d="M77.4 65.3L80.9 64.6L77.3 60.8L73.9 61.4z" fill="#2d9e14" stroke="#2d9e14" stroke-width=".7"/>
<path d="M91.4 70.8L94.8 69.7L91.3 66.4L87.9 67.4z" fill="#139f3b" stroke="#139f3b" stroke-width=".7"/>
<path d="M98.3 73L101.7 71.7L98.2 68.5L94.8 69.7z" fill="#14a157" stroke="#14a157" stroke-width=".7"/>
<path d="M105.2 74.6L108.6 73.1L105.2 70.2L101.7 71.7z" fill="#14a26d" stroke="#14a26d" stroke-width=".7"/>
<path d="M112.1 75.9L115.5 74.2L112 71.5L108.6 73.1z" fill="#15a27d" stroke="#15a27d" stroke-width=".7"/>
<path d="M118.9 76.7L122.4 74.8L118.9 72.3L115.5 74.2z" fill="#15a388" stroke="#15a388" stroke-width=".7"/>
<path d="M125.8 77.1L129.2 74.9L125.8 72.7L122.4 74.8z" fill="#15a38c" stroke="#15a38c" stroke-width=".7"/>
<path d="M132.7 77L136.1 74.6L132.7 72.6L129.2 74.9z" fill="#15a28b" stroke="#15a28b" stroke-width=".7"/>
<path d="M139.5 76.5L143 73.9L139.5 72.1L136.1 74.6z" fill="#15a284" stroke="#15a284" stroke-width=".7"/>
<path d="M146.4 75.5L149.9 72.8L146.4 71.2L143 73.9z" fill="#15a178" stroke="#15a178" stroke-width=".7"/>
<path d="M153.3 74.2L156.8 71.2L153.3 69.9L149.9 72.8z" fill="#14a066" stroke="#14a066" stroke-width=".7"/>
<path d="M160.2 72.3L163.7 69.2L160.3 68.1L156.8 71.2z" fill="#139e4e" stroke="#139e4e" stroke-width=".7"/>
<path d="M167.1 70.1L170.7 66.7L167.2 65.9L163.7 69.2z" fill="#139c31" stroke="#139c31" stroke-width=".7"/>
<path d="M181.1 64.2L184.7 60.5L181.2 60.1L177.6 63.8z" fill="#369a14" stroke="#369a14" stroke-width=".7"/>
<path d="M73.9 65.7L77.4 65.3L73.9 61.4L70.4 61.8z" fill="#329d14" stroke="#329d14" stroke-width=".7"/>
<path d="M80.9 69L84.4 68.3L80.9 64.6L77.4 65.3z" fill="#129c16" stroke="#129c16" stroke-width=".7"/>
<path d="M87.9 71.7L91.4 70.8L87.9 67.4L84.4 68.3z" fill="#139e39" stroke="#139e39" stroke-width=".7"/>
<path d="M94.8 74.1L98.3 73L94.8 69.7L91.4 70.8z" fill="#149f57" stroke="#149f57" stroke-width=".7"/>
<path d="M101.7 76L105.2 74.6L101.7 71.7L98.3 73z" fill="#14a070" stroke="#14a070" stroke-width=".7"/>
<path d="M108.6 77.4L112.1 75.9L108.6 73.1L105.2 74.6z" fill="#15a183" stroke="#15a183" stroke-width=".7"/>
<path d="M115.5 78.5L118.9 76.7L115.5 74.2L112.1 75.9z" fill="#15a190" stroke="#15a190" stroke-width=".7"/>
<path d="M129.2 79.2L132.7 77L129.2 74.9L125.8 77.1z" fill="#15a199" stroke="#15a199" stroke-width=".7"/>
<path d="M143 78.1L146.4 75.5L143 73.9L139.5 76.5z" fill="#15a08b" stroke="#15a08b" stroke-width=".7"/>
<path d="M149.8 77L153.3 74.2L149.9 72.8L146.4 75.5z" fill="#149f7b" stroke="#149f7b" stroke-width=".7"/>
<path d="M156.7 75.3L160.2 72.3L156.8 71.2L153.3 74.2z" fill="#149d66" stroke="#149d66" stroke-width=".7"/>
<path d="M163.6 73.3L167.1 70.1L163.7 69.2L160.2 72.3z" fill="#139c4c" stroke="#139c4c" stroke-width=".7"/>
<path d="M170.6 70.8L174.1 67.4L170.7 66.7L167.1 70.1z" fill="#12992d" stroke="#12992d" stroke-width=".7"/>
<path d="M177.6 67.8L181.1 64.2L177.6 63.8L174.1 67.4z" fill="#199712" stroke="#199712" stroke-width=".7"/>
<path d="M184.6 64.4L188.2 60.7L184.7 60.5L181.1 64.2z" fill="#3d9814" stroke="#3d9814" stroke-width=".7"/>
<path d="M122.4 79L125.8 77.1L122.4 74.8L118.9 76.7z" fill="#15a297" stroke="#15a297" stroke-width=".7"/>
<path d="M136.1 78.9L139.5 76.5L136.1 74.6L132.7 77z" fill="#15a195" stroke="#15a195" stroke-width=".7"/>
<path d="M70.4 66L73.9 65.7L70.4 61.8L66.9 62.1z" fill="#399b14" stroke="#399b14" stroke-width=".7"/>
<path d="M77.5 69.5L80.9 69L77.4 65.3L73.9 65.7z" fill="#139a12" stroke="#139a12" stroke-width=".7"/>
<path d="M91.4 75L94.8 74.1L91.4 70.8L87.9 71.7z" fill="#139d55" stroke="#139d55" stroke-width=".7"/>
<path d="M105.2 78.8L108.6 77.4L105.2 74.6L101.7 76z" fill="#159f86" stroke="#159f86" stroke-width=".7"/>
<path d="M112.1 80.1L115.5 78.5L112.1 75.9L108.6 77.4z" fill="#15a095" stroke="#15a095" stroke-width=".7"/>
<path d="M146.4 79.6L149.8 77L146.4 75.5L143 78.1z" fill="#159e8e" stroke="#159e8e" stroke-width=".7"/>
<path d="M153.3 78.2L156.7 75.3L153.3 74.2L149.8 77z" fill="#149d7c" stroke="#149d7c" stroke-width=".7"/>
<path d="M167.1 74L170.6 70.8L167.1 70.1L163.6 73.3z" fill="#139947" stroke="#139947" stroke-width=".7"/>
<path d="M181.1 68.1L184.6 64.4L181.1 64.2L177.6 67.8z" fill="#219512" stroke="#219512" stroke-width=".7"/>
<path d="M188.1 64.4L191.7 60.6L188.2 60.7L184.6 64.4z" fill="#469514" stroke="#469514" stroke-width=".7"/>
<path d="M84.4 72.5L87.9 71.7L84.4 68.3L80.9 69z" fill="#139b35" stroke="#139b35" stroke-width=".7"/>
<path d="M98.3 77.1L101.7 76L98.3 73L94.8 74.1z" fill="#149e70" stroke="#149e70" stroke-width=".7"/>
<path d="M118.9 80.9L122.4 79L118.9 76.7L115.5 78.5z" fill="#15a09f" stroke="#15a09f" stroke-width=".7"/>
<path d="M125.8 81.2L129.2 79.2L125.8 77.1L122.4 79z" fill="#159ca0" stroke="#159ca0" stroke-width=".7"/>
<path d="M132.6 81.1L136.1 78.9L132.7 77L129.2 79.2z" fill="#159da0" stroke="#159da0" stroke-width=".7"/>
<path d="M139.5 80.6L143 78.1L139.5 76.5L136.1 78.9z" fill="#159f9b" stroke="#159f9b" stroke-width=".7"/>
<path d="M160.2 76.3L163.6 73.3L160.2 72.3L156.7 75.3z" fill="#139b64" stroke="#139b64" stroke-width=".7"/>
<path d="M174.1 71.2L177.6 67.8L174.1 67.4L170.6 70.8z" fill="#129626" stroke="#129626" stroke-width=".7"/>
<path d="M66.9 66.1L70.4 66L66.9 62.1L63.4 62.1z" fill="#429914" stroke="#429914" stroke-width=".7"/>
<path d="M74 69.8L77.5 69.5L73.9 65.7L70.4 66z" fill="#1a9812" stroke="#1a9812" stroke-width=".7"/>
<path d="M108.7 81.5L112.1 80.1L108.6 77.4L105.2 78.8z" fill="#159e98" stroke="#159e98" stroke-width=".7"/>
<path d="M149.8 80.9L153.3 78.2L149.8 77L146.4 79.6z" fill="#149c8f" stroke="#149c8f" stroke-width=".7"/>
<path d="M184.6 68.1L188.1 64.4L184.6 64.4L181.1 68.1z" fill="#2a9212" stroke="#2a9212" stroke-width=".7"/>
<path d="M191.6 64.2L195.2 60.4L191.7 60.6L188.1 64.4z" fill="#519114" stroke="#519114" stroke-width=".7"/>
<path d="M81 73L84.4 72.5L80.9 69L77.5 69.5z" fill="#12992f" stroke="#12992f" stroke-width=".7"/>
<path d="M87.9 75.8L91.4 75L87.9 71.7L84.4 72.5z" fill="#139b51" stroke="#139b51" stroke-width=".7"/>
<path d="M94.9 78.1L98.3 77.1L94.8 74.1L91.4 75z" fill="#149c6e" stroke="#149c6e" stroke-width=".7"/>
<path d="M101.8 80L105.2 78.8L101.7 76L98.3 77.1z" fill="#149d86" stroke="#149d86" stroke-width=".7"/>
<path d="M115.5 82.5L118.9 80.9L115.5 78.5L112.1 80.1z" fill="#14979e" stroke="#14979e" stroke-width=".7"/>
<path d="M122.4 83.1L125.8 81.2L122.4 79L118.9 80.9z" fill="#138e9d" stroke="#138e9d" stroke-width=".7"/>
<path d="M129.2 83.2L132.6 81.1L129.2 79.2L125.8 81.2z" fill="#138c9c" stroke="#138c9c" stroke-width=".7"/>
<path d="M136.1 82.9L139.5 80.6L136.1 78.9L132.6 81.1z" fill="#13909c" stroke="#13909c" stroke-width=".7"/>
<path d="M142.9 82.1L146.4 79.6L143 78.1L139.5 80.6z" fill="#159c9d" stroke="#159c9d" stroke-width=".7"/>
<path d="M156.7 79.2L160.2 76.3L156.7 75.3L153.3 78.2z" fill="#149a79" stroke="#149a79" stroke-width=".7"/>
<path d="M163.6 77.1L167.1 74L163.6 73.3L160.2 76.3z" fill="#13985f" stroke="#13985f" stroke-width=".7"/>
<path d="M170.5 74.5L174.1 71.2L170.6 70.8L167.1 74z" fill="#129640" stroke="#129640" stroke-width=".7"/>
<path d="M177.5 71.5L181.1 68.1L177.6 67.8L174.1 71.2z" fill="#11931c" stroke="#11931c" stroke-width=".7"/>
<path d="M70.5 69.9L74 69.8L70.4 66L66.9 66.1z" fill="#239512" stroke="#239512" stroke-width=".7"/>
<path d="M188.1 67.9L191.6 64.2L188.1 64.4L184.6 68.1z" fill="#348e12" stroke="#348e12" stroke-width=".7"/>
<path d="M63.4 66L66.9 66.1L63.4 62.1L59.9 62z" fill="#4c9614" stroke="#4c9614" stroke-width=".7"/>
<path d="M77.5 73.4L81 73L77.5 69.5L74 69.8z" fill="#129626" stroke="#129626" stroke-width=".7"/>
<path d="M84.5 76.4L87.9 75.8L84.4 72.5L81 73z" fill="#13984a" stroke="#13984a" stroke-width=".7"/>
<path d="M91.4 79L94.9 78.1L91.4 75L87.9 75.8z" fill="#139a6a" stroke="#139a6a" stroke-width=".7"/>
<path d="M98.3 81.1L101.8 80L98.3 77.1L94.9 78.1z" fill="#149b84" stroke="#149b84" stroke-width=".7"/>
<path d="M105.2 82.7L108.7 81.5L105.2 78.8L101.8 80z" fill="#159c98" stroke="#159c98" stroke-width=".7"/>
<path d="M112.1 84L115.5 82.5L112.1 80.1L108.7 81.5z" fill="#138f9b" stroke="#138f9b" stroke-width=".7"/>
<path d="M118.9 84.8L122.4 83.1L118.9 80.9L115.5 82.5z" fill="#12839a" stroke="#12839a" stroke-width=".7"/>
<path d="M125.8 85.1L129.2 83.2L125.8 81.2L122.4 83.1z" fill="#117d99" stroke="#117d99" stroke-width=".7"/>
<path d="M132.6 85L136.1 82.9L132.6 81.1L129.2 83.2z" fill="#117f99" stroke="#117f99" stroke-width=".7"/>
<path d="M139.5 84.4L142.9 82.1L139.5 80.6L136.1 82.9z" fill="#128799" stroke="#128799" stroke-width=".7"/>
<path d="M146.3 83.4L149.8 80.9L146.4 79.6L142.9 82.1z" fill="#14969a" stroke="#14969a" stroke-width=".7"/>
<path d="M153.2 81.9L156.7 79.2L153.3 78.2L149.8 80.9z" fill="#14998c" stroke="#14998c" stroke-width=".7"/>
<path d="M160.1 80L163.6 77.1L160.2 76.3L156.7 79.2z" fill="#139774" stroke="#139774" stroke-width=".7"/>
<path d="M167.1 77.7L170.5 74.5L167.1 74L163.6 77.1z" fill="#139558" stroke="#139558" stroke-width=".7"/>
<path d="M174 74.9L177.5 71.5L174.1 71.2L170.5 74.5z" fill="#129236" stroke="#129236" stroke-width=".7"/>
<path d="M181 71.6L184.6 68.1L181.1 68.1L177.5 71.5z" fill="#108e11" stroke="#108e11" stroke-width=".7"/>
<path d="M195.1 63.8L198.7 59.9L195.2 60.4L191.6 64.2z" fill="#5c8d14" stroke="#5c8d14" stroke-width=".7"/>
<path d="M59.9 65.8L63.4 66L59.9 62L56.3 61.7z" fill="#579415" stroke="#579415" stroke-width=".7"/>
<path d="M67 69.9L70.5 69.9L66.9 66.1L63.4 66z" fill="#2d9312" stroke="#2d9312" stroke-width=".7"/>
<path d="M74 73.6L77.5 73.4L74 69.8L70.5 69.9z" fill="#11931c" stroke="#11931c" stroke-width=".7"/>
<path d="M81 76.8L84.5 76.4L81 73L77.5 73.4z" fill="#129542" stroke="#129542" stroke-width=".7"/>
<path d="M88 79.6L91.4 79L87.9 75.8L84.5 76.4z" fill="#139763" stroke="#139763" stroke-width=".7"/>
<path d="M94.9 81.9L98.3 81.1L94.9 78.1L91.4 79z" fill="#14997f" stroke="#14997f" stroke-width=".7"/>
<path d="M101.8 83.8L105.2 82.7L101.8 80L98.3 81.1z" fill="#149a96" stroke="#149a96" stroke-width=".7"/>
<path d="M108.7 85.3L112.1 84L108.7 81.5L105.2 82.7z" fill="#138a99" stroke="#138a99" stroke-width=".7"/>
<path d="M115.5 86.3L118.9 84.8L115.5 82.5L112.1 84z" fill="#117b97" stroke="#117b97" stroke-width=".7"/>
<path d="M122.4 86.8L125.8 85.1L122.4 83.1L118.9 84.8z" fill="#107296" stroke="#107296" stroke-width=".7"/>
<path d="M129.2 86.9L132.6 85L129.2 83.2L125.8 85.1z" fill="#107096" stroke="#107096" stroke-width=".7"/>
<path d="M136.1 86.6L139.5 84.4L136.1 82.9L132.6 85z" fill="#107596" stroke="#107596" stroke-width=".7"/>
<path d="M142.9 85.7L146.3 83.4L142.9 82.1L139.5 84.4z" fill="#128196" stroke="#128196" stroke-width=".7"/>
<path d="M149.8 84.5L153.2 81.9L149.8 80.9L146.3 83.4z" fill="#149397" stroke="#149397" stroke-width=".7"/>
<path d="M156.7 82.8L160.1 80L156.7 79.2L153.2 81.9z" fill="#149687" stroke="#149687" stroke-width=".7"/>
<path d="M163.6 80.6L167.1 77.7L163.6 77.1L160.1 80z" fill="#13946c" stroke="#13946c" stroke-width=".7"/>
<path d="M170.5 78L174 74.9L170.5 74.5L167.1 77.7z" fill="#12914e" stroke="#12914e" stroke-width=".7"/>
<path d="M177.5 75L181 71.6L177.5 71.5L174 74.9z" fill="#118d2b" stroke="#118d2b" stroke-width=".7"/>
<path d="M184.5 71.5L188.1 67.9L184.6 68.1L181 71.6z" fill="#1b8b10" stroke="#1b8b10" stroke-width=".7"/>
<path d="M191.6 67.5L195.1 63.8L191.6 64.2L188.1 67.9z" fill="#408a12" stroke="#408a12" stroke-width=".7"/>
<path d="M198.7 63.2L202.3 59.2L198.7 59.9L195.1 63.8z" fill="#678814" stroke="#678814" stroke-width=".7"/>
<path d="M56.4 65.3L59.9 65.8L56.3 61.7L52.8 61.2z" fill="#639015" stroke="#639015" stroke-width=".7"/>
<path d="M63.5 69.7L67 69.9L63.4 66L59.9 65.8z" fill="#399013" stroke="#399013" stroke-width=".7"/>
<path d="M70.5 73.6L74 73.6L70.5 69.9L67 69.9z" fill="#118f10" stroke="#118f10" stroke-width=".7"/>
<path d="M77.5 77L81 76.8L77.5 73.4L74 73.6z" fill="#129237" stroke="#129237" stroke-width=".7"/>
<path d="M84.5 80L88 79.6L84.5 76.4L81 76.8z" fill="#13945a" stroke="#13945a" stroke-width=".7"/>
<path d="M91.4 82.6L94.9 81.9L91.4 79L88 79.6z" fill="#139678" stroke="#139678" stroke-width=".7"/>
<path d="M98.3 84.7L101.8 83.8L98.3 81.1L94.9 81.9z" fill="#149791" stroke="#149791" stroke-width=".7"/>
<path d="M105.2 86.4L108.7 85.3L105.2 82.7L101.8 83.8z" fill="#128796" stroke="#128796" stroke-width=".7"/>
<path d="M112.1 87.6L115.5 86.3L112.1 84L108.7 85.3z" fill="#107594" stroke="#107594" stroke-width=".7"/>
<path d="M118.9 88.4L122.4 86.8L118.9 84.8L115.5 86.3z" fill="#0f6a93" stroke="#0f6a93" stroke-width=".7"/>
<path d="M125.8 88.7L129.2 86.9L125.8 85.1L122.4 86.8z" fill="#0e6592" stroke="#0e6592" stroke-width=".7"/>
<path d="M132.6 88.5L136.1 86.6L132.6 85L129.2 86.9z" fill="#0f6792" stroke="#0f6792" stroke-width=".7"/>
<path d="M139.5 87.9L142.9 85.7L139.5 84.4L136.1 86.6z" fill="#106f92" stroke="#106f92" stroke-width=".7"/>
<path d="M146.3 86.9L149.8 84.5L146.3 83.4L142.9 85.7z" fill="#117e93" stroke="#117e93" stroke-width=".7"/>
<path d="M153.2 85.4L156.7 82.8L153.2 81.9L149.8 84.5z" fill="#149294" stroke="#149294" stroke-width=".7"/>
<path d="M160.1 83.4L163.6 80.6L160.1 80L156.7 82.8z" fill="#13927e" stroke="#13927e" stroke-width=".7"/>
<path d="M167 81L170.5 78L167.1 77.7L163.6 80.6z" fill="#128f62" stroke="#128f62" stroke-width=".7"/>
<path d="M174 78.2L177.5 75L174 74.9L170.5 78z" fill="#118c41" stroke="#118c41" stroke-width=".7"/>
<path d="M181 74.9L184.5 71.5L181 71.6L177.5 75z" fill="#10881d" stroke="#10881d" stroke-width=".7"/>
<path d="M188 71.1L191.6 67.5L188.1 67.9L184.5 71.5z" fill="#278611" stroke="#278611" stroke-width=".7"/>
<path d="M195.1 67L198.7 63.2L195.1 63.8L191.6 67.5z" fill="#4c8413" stroke="#4c8413" stroke-width=".7"/>
<path d="M202.2 62.3L205.9 58.4L202.3 59.2L198.7 63.2z" fill="#738214" stroke="#738214" stroke-width=".7"/>
<path d="M60 69.3L63.5 69.7L59.9 65.8L56.4 65.3z" fill="#458d13" stroke="#458d13" stroke-width=".7"/>
<path d="M67 73.4L70.5 73.6L67 69.9L63.5 69.7z" fill="#1d8c11" stroke="#1d8c11" stroke-width=".7"/>
<path d="M74.1 77.1L77.5 77L74 73.6L70.5 73.6z" fill="#118e2a" stroke="#118e2a" stroke-width=".7"/>
<path d="M88 83.1L91.4 82.6L88 79.6L84.5 80z" fill="#13936f" stroke="#13936f" stroke-width=".7"/>
<path d="M94.9 85.4L98.3 84.7L94.9 81.9L91.4 82.6z" fill="#14948a" stroke="#14948a" stroke-width=".7"/>
<path d="M108.7 88.8L112.1 87.6L108.7 85.3L105.2 86.4z" fill="#107392" stroke="#107392" stroke-width=".7"/>
<path d="M122.4 90.3L125.8 88.7L122.4 86.8L118.9 88.4z" fill="#0d5c8f" stroke="#0d5c8f" stroke-width=".7"/>
<path d="M129.2 90.3L132.6 88.5L129.2 86.9L125.8 88.7z" fill="#0d5b8f" stroke="#0d5b8f" stroke-width=".7"/>
<path d="M136 90L139.5 87.9L136.1 86.6L132.6 88.5z" fill="#0e608f" stroke="#0e608f" stroke-width=".7"/>
<path d="M149.7 87.8L153.2 85.4L149.8 84.5L146.3 86.9z" fill="#117d90" stroke="#117d90" stroke-width=".7"/>
<path d="M163.5 83.9L167 81L163.6 80.6L160.1 83.4z" fill="#128e74" stroke="#128e74" stroke-width=".7"/>
<path d="M170.5 81.2L174 78.2L170.5 78L167 81z" fill="#118a55" stroke="#118a55" stroke-width=".7"/>
<path d="M184.5 74.6L188 71.1L184.5 71.5L181 74.9z" fill="#10820f" stroke="#10820f" stroke-width=".7"/>
<path d="M191.5 70.6L195.1 67L191.6 67.5L188 71.1z" fill="#338111" stroke="#338111" stroke-width=".7"/>
<path d="M198.6 66.1L202.2 62.3L198.7 63.2L195.1 67z" fill="#587e13" stroke="#587e13" stroke-width=".7"/>
<path d="M81 80.3L84.5 80L81 76.8L77.5 77z" fill="#12904f" stroke="#12904f" stroke-width=".7"/>
<path d="M101.8 87.3L105.2 86.4L101.8 83.8L98.3 84.7z" fill="#128794" stroke="#128794" stroke-width=".7"/>
<path d="M115.5 89.7L118.9 88.4L115.5 86.3L112.1 87.6z" fill="#0e6490" stroke="#0e6490" stroke-width=".7"/>
<path d="M142.9 89.1L146.3 86.9L142.9 85.7L139.5 87.9z" fill="#0f6c8f" stroke="#0f6c8f" stroke-width=".7"/>
<path d="M156.6 86.1L160.1 83.4L156.7 82.8L153.2 85.4z" fill="#13908e" stroke="#13908e" stroke-width=".7"/>
<path d="M177.4 78.1L181 74.9L177.5 75L174 78.2z" fill="#108733" stroke="#108733" stroke-width=".7"/>
<path d="M70.6 76.9L74.1 77.1L70.5 73.6L67 73.4z" fill="#108a1c" stroke="#108a1c" stroke-width=".7"/>
<path d="M91.5 86L94.9 85.4L91.4 82.6L88 83.1z" fill="#139181" stroke="#139181" stroke-width=".7"/>
<path d="M125.8 92L129.2 90.3L125.8 88.7L122.4 90.3z" fill="#0c528b" stroke="#0c528b" stroke-width=".7"/>
<path d="M132.6 91.8L136 90L132.6 88.5L129.2 90.3z" fill="#0c548b" stroke="#0c548b" stroke-width=".7"/>
<path d="M167 84.1L170.5 81.2L167 81L163.5 83.9z" fill="#186" stroke="#186" stroke-width=".7"/>
<path d="M188 74.1L191.5 70.6L188 71.1L184.5 74.6z" fill="#1d7c0f" stroke="#1d7c0f" stroke-width=".7"/>
<path d="M63.5 73L67 73.4L63.5 69.7L60 69.3z" fill="#2a8911" stroke="#2a8911" stroke-width=".7"/>
<path d="M77.6 80.4L81 80.3L77.5 77L74.1 77.1z" fill="#118c42" stroke="#118c42" stroke-width=".7"/>
<path d="M84.5 83.4L88 83.1L84.5 80L81 80.3z" fill="#128f64" stroke="#128f64" stroke-width=".7"/>
<path d="M98.4 88.1L101.8 87.3L98.3 84.7L94.9 85.4z" fill="#128991" stroke="#128991" stroke-width=".7"/>
<path d="M105.2 89.7L108.7 88.8L105.2 86.4L101.8 87.3z" fill="#10728f" stroke="#10728f" stroke-width=".7"/>
<path d="M112.1 90.9L115.5 89.7L112.1 87.6L108.7 88.8z" fill="#0e618d" stroke="#0e618d" stroke-width=".7"/>
<path d="M118.9 91.7L122.4 90.3L118.9 88.4L115.5 89.7z" fill="#0d578c" stroke="#0d578c" stroke-width=".7"/>
<path d="M139.5 91.2L142.9 89.1L139.5 87.9L136 90z" fill="#0d5d8b" stroke="#0d5d8b" stroke-width=".7"/>
<path d="M146.3 90.1L149.7 87.8L146.3 86.9L142.9 89.1z" fill="#0f6b8c" stroke="#0f6b8c" stroke-width=".7"/>
<path d="M153.2 88.6L156.6 86.1L153.2 85.4L149.7 87.8z" fill="#117f8c" stroke="#117f8c" stroke-width=".7"/>
<path d="M160.1 86.6L163.5 83.9L160.1 83.4L156.6 86.1z" fill="#128c82" stroke="#128c82" stroke-width=".7"/>
<path d="M173.9 81.2L177.4 78.1L174 78.2L170.5 81.2z" fill="#108547" stroke="#108547" stroke-width=".7"/>
<path d="M180.9 77.9L184.5 74.6L181 74.9L177.4 78.1z" fill="#0f8023" stroke="#0f8023" stroke-width=".7"/>
<path d="M195.1 69.8L198.6 66.1L195.1 67L191.5 70.6z" fill="#407a11" stroke="#407a11" stroke-width=".7"/>
<path d="M67.1 76.6L70.6 76.9L67 73.4L63.5 73z" fill="#12850f" stroke="#12850f" stroke-width=".7"/>
<path d="M81.1 83.5L84.5 83.4L81 80.3L77.6 80.4z" fill="#118a56" stroke="#118a56" stroke-width=".7"/>
<path d="M88 86.3L91.5 86L88 83.1L84.5 83.4z" fill="#128d75" stroke="#128d75" stroke-width=".7"/>
<path d="M101.8 90.5L105.2 89.7L101.8 87.3L98.4 88.1z" fill="#10748c" stroke="#10748c" stroke-width=".7"/>
<path d="M115.5 92.9L118.9 91.7L115.5 89.7L112.1 90.9z" fill="#0c5489" stroke="#0c5489" stroke-width=".7"/>
<path d="M122.3 93.4L125.8 92L122.4 90.3L118.9 91.7z" fill="#0b4c88" stroke="#0b4c88" stroke-width=".7"/>
<path d="M129.2 93.5L132.6 91.8L129.2 90.3L125.8 92z" fill="#0b4b88" stroke="#0b4b88" stroke-width=".7"/>
<path d="M136 93.1L139.5 91.2L136 90L132.6 91.8z" fill="#0c5187" stroke="#0c5187" stroke-width=".7"/>
<path d="M142.9 92.2L146.3 90.1L142.9 89.1L139.5 91.2z" fill="#0d5c87" stroke="#0d5c87" stroke-width=".7"/>
<path d="M156.6 89.1L160.1 86.6L156.6 86.1L153.2 88.6z" fill="#128388" stroke="#128388" stroke-width=".7"/>
<path d="M170.5 84.1L173.9 81.2L170.5 81.2L167 84.1z" fill="#108257" stroke="#108257" stroke-width=".7"/>
<path d="M177.4 81L180.9 77.9L177.4 78.1L173.9 81.2z" fill="#0f7e36" stroke="#0f7e36" stroke-width=".7"/>
<path d="M191.5 73.3L195.1 69.8L191.5 70.6L188 74.1z" fill="#2a750f" stroke="#2a750f" stroke-width=".7"/>
<path d="M74.1 80.3L77.6 80.4L74.1 77.1L70.6 76.9z" fill="#108833" stroke="#108833" stroke-width=".7"/>
<path d="M94.9 88.7L98.4 88.1L94.9 85.4L91.5 86z" fill="#138d8e" stroke="#138d8e" stroke-width=".7"/>
<path d="M108.7 92L112.1 90.9L108.7 88.8L105.2 89.7z" fill="#0e618a" stroke="#0e618a" stroke-width=".7"/>
<path d="M149.7 90.9L153.2 88.6L149.7 87.8L146.3 90.1z" fill="#0f6d88" stroke="#0f6d88" stroke-width=".7"/>
<path d="M163.5 86.8L167 84.1L163.5 83.9L160.1 86.6z" fill="#118675" stroke="#118675" stroke-width=".7"/>
<path d="M184.4 77.4L188 74.1L184.5 74.6L180.9 77.9z" fill="#0e7813" stroke="#0e7813" stroke-width=".7"/>
<path d="M84.5 86.5L88 86.3L84.5 83.4L81.1 83.5z" fill="#118867" stroke="#118867" stroke-width=".7"/>
<path d="M118.9 94.7L122.3 93.4L118.9 91.7L115.5 92.9z" fill="#0b4985" stroke="#0b4985" stroke-width=".7"/>
<path d="M139.4 94.1L142.9 92.2L139.5 91.2L136 93.1z" fill="#0c4f83" stroke="#0c4f83" stroke-width=".7"/>
<path d="M173.9 84L177.4 81L173.9 81.2L170.5 84.1z" fill="#0f7b46" stroke="#0f7b46" stroke-width=".7"/>
<path d="M70.6 80L74.1 80.3L70.6 76.9L67.1 76.6z" fill="#0f8223" stroke="#0f8223" stroke-width=".7"/>
<path d="M77.6 83.5L81.1 83.5L77.6 80.4L74.1 80.3z" fill="#108547" stroke="#108547" stroke-width=".7"/>
<path d="M91.5 89L94.9 88.7L91.5 86L88 86.3z" fill="#128a83" stroke="#128a83" stroke-width=".7"/>
<path d="M98.4 91.1L101.8 90.5L98.4 88.1L94.9 88.7z" fill="#107889" stroke="#107889" stroke-width=".7"/>
<path d="M105.2 92.8L108.7 92L105.2 89.7L101.8 90.5z" fill="#0e6387" stroke="#0e6387" stroke-width=".7"/>
<path d="M112.1 94L115.5 92.9L112.1 90.9L108.7 92z" fill="#0c5386" stroke="#0c5386" stroke-width=".7"/>
<path d="M125.8 95L129.2 93.5L125.8 92L122.3 93.4z" fill="#0b4584" stroke="#0b4584" stroke-width=".7"/>
<path d="M132.6 94.8L136 93.1L132.6 91.8L129.2 93.5z" fill="#0b4783" stroke="#0b4783" stroke-width=".7"/>
<path d="M146.3 93L149.7 90.9L146.3 90.1L142.9 92.2z" fill="#0d5d83" stroke="#0d5d83" stroke-width=".7"/>
<path d="M153.2 91.4L156.6 89.1L153.2 88.6L149.7 90.9z" fill="#0f7083" stroke="#0f7083" stroke-width=".7"/>
<path d="M160.1 89.4L163.5 86.8L160.1 86.6L156.6 89.1z" fill="#118380" stroke="#118380" stroke-width=".7"/>
<path d="M167 86.9L170.5 84.1L167 84.1L163.5 86.8z" fill="#107f65" stroke="#107f65" stroke-width=".7"/>
<path d="M180.9 80.5L184.4 77.4L180.9 77.9L177.4 81z" fill="#0e7525" stroke="#0e7525" stroke-width=".7"/>
<path d="M188 76.7L191.5 73.3L188 74.1L184.4 77.4z" fill="#17700d" stroke="#17700d" stroke-width=".7"/>
<path d="M74.1 83.2L77.6 83.5L74.1 80.3L70.6 80z" fill="#0f7f37" stroke="#0f7f37" stroke-width=".7"/>
<path d="M81.1 86.4L84.5 86.5L81.1 83.5L77.6 83.5z" fill="#108258" stroke="#108258" stroke-width=".7"/>
<path d="M88 89.2L91.5 89L88 86.3L84.5 86.5z" fill="#118575" stroke="#118575" stroke-width=".7"/>
<path d="M94.9 91.6L98.4 91.1L94.9 88.7L91.5 89z" fill="#117d85" stroke="#117d85" stroke-width=".7"/>
<path d="M101.8 93.4L105.2 92.8L101.8 90.5L98.4 91.1z" fill="#0e6684" stroke="#0e6684" stroke-width=".7"/>
<path d="M108.7 94.9L112.1 94L108.7 92L105.2 92.8z" fill="#0c5482" stroke="#0c5482" stroke-width=".7"/>
<path d="M115.5 95.8L118.9 94.7L115.5 92.9L112.1 94z" fill="#0b4881" stroke="#0b4881" stroke-width=".7"/>
<path d="M122.3 96.3L125.8 95L122.3 93.4L118.9 94.7z" fill="#0a4180" stroke="#0a4180" stroke-width=".7"/>
<path d="M129.2 96.3L132.6 94.8L129.2 93.5L125.8 95z" fill="#0a417f" stroke="#0a417f" stroke-width=".7"/>
<path d="M136 95.9L139.4 94.1L136 93.1L132.6 94.8z" fill="#0a467f" stroke="#0a467f" stroke-width=".7"/>
<path d="M142.9 95L146.3 93L142.9 92.2L139.4 94.1z" fill="#0c507e" stroke="#0c507e" stroke-width=".7"/>
<path d="M149.7 93.6L153.2 91.4L149.7 90.9L146.3 93z" fill="#0d607e" stroke="#0d607e" stroke-width=".7"/>
<path d="M156.6 91.8L160.1 89.4L156.6 89.1L153.2 91.4z" fill="#10747e" stroke="#10747e" stroke-width=".7"/>
<path d="M163.5 89.5L167 86.9L163.5 86.8L160.1 89.4z" fill="#107c6f" stroke="#107c6f" stroke-width=".7"/>
<path d="M170.4 86.8L173.9 84L170.5 84.1L167 86.9z" fill="#0f7753" stroke="#0f7753" stroke-width=".7"/>
<path d="M177.4 83.5L180.9 80.5L177.4 81L173.9 84z" fill="#0e7134" stroke="#0e7134" stroke-width=".7"/>
<path d="M184.4 79.9L188 76.7L184.4 77.4L180.9 80.5z" fill="#0c6b13" stroke="#0c6b13" stroke-width=".7"/>
<path d="M77.6 86.2L81.1 86.4L77.6 83.5L74.1 83.2z" fill="#0f7c47" stroke="#0f7c47" stroke-width=".7"/>
<path d="M84.5 89.2L88 89.2L84.5 86.5L81.1 86.4z" fill="#107e65" stroke="#107e65" stroke-width=".7"/>
<path d="M91.5 91.8L94.9 91.6L91.5 89L88 89.2z" fill="#11817f" stroke="#11817f" stroke-width=".7"/>
<path d="M105.2 95.5L108.7 94.9L105.2 92.8L101.8 93.4z" fill="#0c577e" stroke="#0c577e" stroke-width=".7"/>
<path d="M112.1 96.7L115.5 95.8L112.1 94L108.7 94.9z" fill="#0b497d" stroke="#0b497d" stroke-width=".7"/>
<path d="M118.9 97.4L122.3 96.3L118.9 94.7L115.5 95.8z" fill="#0a407c" stroke="#0a407c" stroke-width=".7"/>
<path d="M125.7 97.7L129.2 96.3L125.8 95L122.3 96.3z" fill="#093c7b" stroke="#093c7b" stroke-width=".7"/>
<path d="M132.6 97.5L136 95.9L132.6 94.8L129.2 96.3z" fill="#0a3f7a" stroke="#0a3f7a" stroke-width=".7"/>
<path d="M139.4 96.8L142.9 95L139.4 94.1L136 95.9z" fill="#0a4679" stroke="#0a4679" stroke-width=".7"/>
<path d="M146.3 95.6L149.7 93.6L146.3 93L142.9 95z" fill="#0c5379" stroke="#0c5379" stroke-width=".7"/>
<path d="M153.1 94L156.6 91.8L153.2 91.4L149.7 93.6z" fill="#0e6478" stroke="#0e6478" stroke-width=".7"/>
<path d="M167 89.4L170.4 86.8L167 86.9L163.5 89.5z" fill="#0f735c" stroke="#0f735c" stroke-width=".7"/>
<path d="M173.9 86.4L177.4 83.5L173.9 84L170.4 86.8z" fill="#0e6d3f" stroke="#0e6d3f" stroke-width=".7"/>
<path d="M180.9 82.9L184.4 79.9L180.9 80.5L177.4 83.5z" fill="#0c6621" stroke="#0c6621" stroke-width=".7"/>
<path d="M98.3 93.9L101.8 93.4L98.4 91.1L94.9 91.6z" fill="#0f6b7f" stroke="#0f6b7f" stroke-width=".7"/>
<path d="M160 91.9L163.5 89.5L160.1 89.4L156.6 91.8z" fill="#107776" stroke="#107776" stroke-width=".7"/>
<path d="M88 91.8L91.5 91.8L88 89.2L84.5 89.2z" fill="#107a6e" stroke="#107a6e" stroke-width=".7"/>
<path d="M108.6 97.4L112.1 96.7L108.7 94.9L105.2 95.5z" fill="#0b4b78" stroke="#0b4b78" stroke-width=".7"/>
<path d="M115.5 98.4L118.9 97.4L115.5 95.8L112.1 96.7z" fill="#0a4077" stroke="#0a4077" stroke-width=".7"/>
<path d="M129.2 98.9L132.6 97.5L129.2 96.3L125.7 97.7z" fill="#093a75" stroke="#093a75" stroke-width=".7"/>
<path d="M142.8 97.4L146.3 95.6L142.9 95L139.4 96.8z" fill="#0b4873" stroke="#0b4873" stroke-width=".7"/>
<path d="M149.7 96L153.1 94L149.7 93.6L146.3 95.6z" fill="#0c5672" stroke="#0c5672" stroke-width=".7"/>
<path d="M170.4 89L173.9 86.4L170.4 86.8L167 89.4z" fill="#0d6748" stroke="#0d6748" stroke-width=".7"/>
<path d="M81.1 89L84.5 89.2L81.1 86.4L77.6 86.2z" fill="#0f7753" stroke="#0f7753" stroke-width=".7"/>
<path d="M94.9 94.2L98.3 93.9L94.9 91.6L91.5 91.8z" fill="#0f707b" stroke="#0f707b" stroke-width=".7"/>
<path d="M101.8 96L105.2 95.5L101.8 93.4L98.3 93.9z" fill="#0d5b79" stroke="#0d5b79" stroke-width=".7"/>
<path d="M122.3 98.9L125.7 97.7L122.3 96.3L118.9 97.4z" fill="#093a76" stroke="#093a76" stroke-width=".7"/>
<path d="M136 98.4L139.4 96.8L136 95.9L132.6 97.5z" fill="#093f74" stroke="#093f74" stroke-width=".7"/>
<path d="M156.6 94.2L160 91.9L156.6 91.8L153.1 94z" fill="#0e6871" stroke="#0e6871" stroke-width=".7"/>
<path d="M163.5 91.8L167 89.4L163.5 89.5L160 91.9z" fill="#0e6d62" stroke="#0e6d62" stroke-width=".7"/>
<path d="M177.4 85.8L180.9 82.9L177.4 83.5L173.9 86.4z" fill="#0c602c" stroke="#0c602c" stroke-width=".7"/>
<path d="M84.5 91.7L88 91.8L84.5 89.2L81.1 89z" fill="#0f725c" stroke="#0f725c" stroke-width=".7"/>
<path d="M98.3 96.4L101.8 96L98.3 93.9L94.9 94.2z" fill="#0d6073" stroke="#0d6073" stroke-width=".7"/>
<path d="M105.2 98L108.6 97.4L105.2 95.5L101.8 96z" fill="#0b4f72" stroke="#0b4f72" stroke-width=".7"/>
<path d="M112.1 99.1L115.5 98.4L112.1 96.7L108.6 97.4z" fill="#0a4271" stroke="#0a4271" stroke-width=".7"/>
<path d="M118.9 99.8L122.3 98.9L118.9 97.4L115.5 98.4z" fill="#093a70" stroke="#093a70" stroke-width=".7"/>
<path d="M125.7 100.1L129.2 98.9L125.7 97.7L122.3 98.9z" fill="#09376f" stroke="#09376f" stroke-width=".7"/>
<path d="M132.6 99.8L136 98.4L132.6 97.5L129.2 98.9z" fill="#09396e" stroke="#09396e" stroke-width=".7"/>
<path d="M139.4 99.1L142.8 97.4L139.4 96.8L136 98.4z" fill="#09406d" stroke="#09406d" stroke-width=".7"/>
<path d="M146.3 97.9L149.7 96L146.3 95.6L142.8 97.4z" fill="#0b4b6b" stroke="#0b4b6b" stroke-width=".7"/>
<path d="M153.1 96.2L156.6 94.2L153.1 94L149.7 96z" fill="#0c5969" stroke="#0c5969" stroke-width=".7"/>
<path d="M160 94.1L163.5 91.8L160 91.9L156.6 94.2z" fill="#0e6764" stroke="#0e6764" stroke-width=".7"/>
<path d="M173.9 88.5L177.4 85.8L173.9 86.4L170.4 89z" fill="#0b5932" stroke="#0b5932" stroke-width=".7"/>
<path d="M91.4 94.3L94.9 94.2L91.5 91.8L88 91.8z" fill="#0f7473" stroke="#0f7473" stroke-width=".7"/>
<path d="M167 91.5L170.4 89L167 89.4L163.5 91.8z" fill="#0c604c" stroke="#0c604c" stroke-width=".7"/>
<path d="M101.8 98.3L105.2 98L101.8 96L98.3 96.4z" fill="#0b526b" stroke="#0b526b" stroke-width=".7"/>
<path d="M108.6 99.7L112.1 99.1L108.6 97.4L105.2 98z" fill="#0a446a" stroke="#0a446a" stroke-width=".7"/>
<path d="M122.3 101.1L125.7 100.1L122.3 98.9L118.9 99.8z" fill="#083668" stroke="#083668" stroke-width=".7"/>
<path d="M136 100.6L139.4 99.1L136 98.4L132.6 99.8z" fill="#093965" stroke="#093965" stroke-width=".7"/>
<path d="M149.7 98.1L153.1 96.2L149.7 96L146.3 97.9z" fill="#0b4c61" stroke="#0b4c61" stroke-width=".7"/>
<path d="M156.6 96.2L160 94.1L156.6 94.2L153.1 96.2z" fill="#0c595e" stroke="#0c595e" stroke-width=".7"/>
<path d="M88 94.1L91.4 94.3L88 91.8L84.5 91.7z" fill="#0e6b60" stroke="#0e6b60" stroke-width=".7"/>
<path d="M94.9 96.5L98.3 96.4L94.9 94.2L91.4 94.3z" fill="#0e646c" stroke="#0e646c" stroke-width=".7"/>
<path d="M115.5 100.6L118.9 99.8L115.5 98.4L112.1 99.1z" fill="#093b69" stroke="#093b69" stroke-width=".7"/>
<path d="M129.1 101.1L132.6 99.8L129.2 98.9L125.7 100.1z" fill="#083567" stroke="#083567" stroke-width=".7"/>
<path d="M142.8 99.6L146.3 97.9L142.8 97.4L139.4 99.1z" fill="#094163" stroke="#094163" stroke-width=".7"/>
<path d="M163.5 93.9L167 91.5L163.5 91.8L160 94.1z" fill="#0b584d" stroke="#0b584d" stroke-width=".7"/>
<path d="M170.4 91L173.9 88.5L170.4 89L167 91.5z" fill="#0a5035" stroke="#0a5035" stroke-width=".7"/>
<path d="M91.4 96.4L94.9 96.5L91.4 94.3L88 94.1z" fill="#0d6260" stroke="#0d6260" stroke-width=".7"/>
<path d="M98.3 98.5L101.8 98.3L98.3 96.4L94.9 96.5z" fill="#0c5563" stroke="#0c5563" stroke-width=".7"/>
<path d="M105.2 100.1L108.6 99.7L105.2 98L101.8 98.3z" fill="#0a4662" stroke="#0a4662" stroke-width=".7"/>
<path d="M112 101.2L115.5 100.6L112.1 99.1L108.6 99.7z" fill="#093b61" stroke="#093b61" stroke-width=".7"/>
<path d="M118.9 101.9L122.3 101.1L118.9 99.8L115.5 100.6z" fill="#083560" stroke="#083560" stroke-width=".7"/>
<path d="M125.7 102.1L129.1 101.1L125.7 100.1L122.3 101.1z" fill="#08325e" stroke="#08325e" stroke-width=".7"/>
<path d="M132.6 101.8L136 100.6L132.6 99.8L129.1 101.1z" fill="#08345d" stroke="#08345d" stroke-width=".7"/>
<path d="M139.4 101.1L142.8 99.6L139.4 99.1L136 100.6z" fill="#08395a" stroke="#08395a" stroke-width=".7"/>
<path d="M146.3 99.9L149.7 98.1L146.3 97.9L142.8 99.6z" fill="#094057" stroke="#094057" stroke-width=".7"/>
<path d="M153.1 98.2L156.6 96.2L153.1 96.2L149.7 98.1z" fill="#0a4a53" stroke="#0a4a53" stroke-width=".7"/>
<path d="M160 96L163.5 93.9L160 94.1L156.6 96.2z" fill="#0a4d48" stroke="#0a4d48" stroke-width=".7"/>
<path d="M167 93.4L170.4 91L167 91.5L163.5 93.9z" fill="#094433" stroke="#094433" stroke-width=".7"/>
<path d="M94.9 98.4L98.3 98.5L94.9 96.5L91.4 96.4z" fill="#0b5457" stroke="#0b5457" stroke-width=".7"/>
<path d="M101.7 100.3L105.2 100.1L101.8 98.3L98.3 98.5z" fill="#0a4657" stroke="#0a4657" stroke-width=".7"/>
<path d="M108.6 101.6L112 101.2L108.6 99.7L105.2 100.1z" fill="#083b56" stroke="#083b56" stroke-width=".7"/>
<path d="M115.4 102.5L118.9 101.9L115.5 100.6L112 101.2z" fill="#083455" stroke="#083455" stroke-width=".7"/>
<path d="M129.1 102.9L132.6 101.8L129.1 101.1L125.7 102.1z" fill="#072f52" stroke="#072f52" stroke-width=".7"/>
<path d="M142.8 101.4L146.3 99.9L142.8 99.6L139.4 101.1z" fill="#08354b" stroke="#08354b" stroke-width=".7"/>
<path d="M149.7 99.9L153.1 98.2L149.7 98.1L146.3 99.9z" fill="#083b46" stroke="#083b46" stroke-width=".7"/>
<path d="M156.6 98L160 96L156.6 96.2L153.1 98.2z" fill="#083f3e" stroke="#083f3e" stroke-width=".7"/>
<path d="M163.5 95.5L167 93.4L163.5 93.9L160 96z" fill="#07342b" stroke="#07342b" stroke-width=".7"/>
<path d="M122.3 103L125.7 102.1L122.3 101.1L118.9 101.9z" fill="#073054" stroke="#073054" stroke-width=".7"/>
<path d="M136 102.4L139.4 101.1L136 100.6L132.6 101.8z" fill="#07314f" stroke="#07314f" stroke-width=".7"/>
<path d="M112 103L115.4 102.5L112 101.2L108.6 101.6z" fill="#073047" stroke="#073047" stroke-width=".7"/>
<path d="M146.3 101.5L149.7 99.9L146.3 99.9L142.8 101.4z" fill="#062b34" stroke="#062b34" stroke-width=".7"/>
<path d="M98.3 100.2L101.7 100.3L98.3 98.5L94.9 98.4z" fill="#094248" stroke="#094248" stroke-width=".7"/>
<path d="M105.2 101.9L108.6 101.6L105.2 100.1L101.7 100.3z" fill="#083848" stroke="#083848" stroke-width=".7"/>
<path d="M125.7 103.8L129.1 102.9L125.7 102.1L122.3 103z" fill="#062943" stroke="#062943" stroke-width=".7"/>
<path d="M132.5 103.5L136 102.4L132.6 101.8L129.1 102.9z" fill="#062840" stroke="#062840" stroke-width=".7"/>
<path d="M153.1 99.7L156.6 98L153.1 98.2L149.7 99.9z" fill="#06292b" stroke="#06292b" stroke-width=".7"/>
<path d="M160 97.5L163.5 95.5L160 96L156.6 98z" fill="#041d19" stroke="#041d19" stroke-width=".7"/>
<path d="M118.9 103.6L122.3 103L118.9 101.9L115.4 102.5z" fill="#062b46" stroke="#062b46" stroke-width=".7"/>
<path d="M139.4 102.7L142.8 101.4L139.4 101.1L136 102.4z" fill="#06293b" stroke="#06293b" stroke-width=".7"/>
<path d="M108.6 103.2L112 103L108.6 101.6L105.2 101.9z" fill="#052733" stroke="#052733" stroke-width=".7"/>
<path d="M149.7 101.3L153.1 99.7L149.7 99.9L146.3 101.5z" fill="#010809" stroke="#010809" stroke-width=".7"/>
<path d="M101.7 101.9L105.2 101.9L101.7 100.3L98.3 100.2z" fill="#062d33" stroke="#062d33" stroke-width=".7"/>
<path d="M115.4 104.1L118.9 103.6L115.4 102.5L112 103z" fill="#052232" stroke="#052232" stroke-width=".7"/>
<path d="M122.3 104.5L125.7 103.8L122.3 103L118.9 103.6z" fill="#041f2f" stroke="#041f2f" stroke-width=".7"/>
<path d="M129.1 104.4L132.5 103.5L129.1 102.9L125.7 103.8z" fill="#041c2b" stroke="#041c2b" stroke-width=".7"/>
<path d="M136 103.9L139.4 102.7L136 102.4L132.5 103.5z" fill="#041a24" stroke="#041a24" stroke-width=".7"/>
<path d="M142.8 102.8L146.3 101.5L142.8 101.4L139.4 102.7z" fill="#03151a" stroke="#03151a" stroke-width=".7"/>
<path d="M156.6 99.3L160 97.5L156.6 98L153.1 99.7z" fill="#000" stroke="#000" stroke-width=".7"/>
<path d="M105.1 103.3L108.6 103.2L105.2 101.9L101.7 101.9z" fill="#020f11" stroke="#020f11" stroke-width=".7"/>
<path d="M118.8 105L122.3 104.5L118.9 103.6L115.4 104.1z" fill="#01080b" stroke="#01080b" stroke-width=".7"/>
<path d="M125.7 105.2L129.1 104.4L125.7 103.8L122.3 104.5z" fill="#000" stroke="#000" stroke-width=".7"/>
<path d="M132.5 104.8L136 103.9L132.5 103.5L129.1 104.4z" fill="#000" stroke="#000" stroke-width=".7"/>
<path d="M139.4 104L142.8 102.8L139.4 102.7L136 103.9z" fill="#000" stroke="#000" stroke-width=".7"/>
<path d="M153.1 101L156.6 99.3L153.1 99.7L149.7 101.3z" fill="#000" stroke="#000" stroke-width=".7"/>
<path d="M112 104.4L115.4 104.1L112 103L108.6 103.2z" fill="#020c10" stroke="#020c10" stroke-width=".7"/>
<path d="M146.3 102.7L149.7 101.3L146.3 101.5L142.8 102.8z" fill="#000" stroke="#000" stroke-width=".7"/>
<path d="M115.4 105.3L118.8 105L115.4 104.1L112 104.4z" fill="#000" stroke="#000" stroke-width=".7"/>
<path d="M122.2 105.7L125.7 105.2L122.3 104.5L118.8 105z" fill="#000" stroke="#000" stroke-width=".7"/>
<path d="M129.1 105.6L132.5 104.8L129.1 104.4L125.7 105.2z" fill="#000" stroke="#000" stroke-width=".7"/>
<path d="M136 105L139.4 104L136 103.9L132.5 104.8z" fill="#000" stroke="#000" stroke-width=".7"/>
<path d="M142.8 103.9L146.3 102.7L142.8 102.8L139.4 104z" fill="#000" stroke="#000" stroke-width=".7"/>
<path d="M108.5 104.5L112 104.4L108.6 103.2L105.1 103.3z" fill="#000" stroke="#000" stroke-width=".7"/>
<path d="M149.7 102.4L153.1 101L149.7 101.3L146.3 102.7z" fill="#000" stroke="#000" stroke-width=".7"/>
<path d="M112 105.4L115.4 105.3L112 104.4L108.5 104.5z" fill="#000" stroke="#000" stroke-width=".7"/>
<path d="M118.8 106L122.2 105.7L118.8 105L115.4 105.3z" fill="#000" stroke="#000" stroke-width=".7"/>
<path d="M125.7 106.2L129.1 105.6L125.7 105.2L122.2 105.7z" fill="#000" stroke="#000" stroke-width=".7"/>
<path d="M132.5 105.8L136 105L132.5 104.8L129.1 105.6z" fill="#000" stroke="#000" stroke-width=".7"/>
<path d="M139.4 105L142.8 103.9L139.4 104L136 105z" fill="#000" stroke="#000" stroke-width=".7"/>
<path d="M146.3 103.6L149.7 102.4L146.3 102.7L142.8 103.9z" fill="#000" stroke="#000" stroke-width=".7"/>
<path d="M115.4 106.2L118.8 106L115.4 105.3L112 105.4z" fill="#000" stroke="#000" stroke-width=".7"/>
<path d="M122.2 106.5L125.7 106.2L122.2 105.7L118.8 106z" fill="#000" stroke="#000" stroke-width=".7"/>
<path d="M129.1 106.4L132.5 105.8L129.1 105.6L125.7 106.2z" fill="#000" stroke="#000" stroke-width=".7"/>
<path d="M135.9 105.8L139.4 105L136 105L132.5 105.8z" fill="#000" stroke="#000" stroke-width=".7"/>
<path d="M142.8 104.7L146.3 103.6L142.8 103.9L139.4 105z" fill="#000" stroke="#000" stroke-width=".7"/>
<path d="M118.8 106.7L122.2 106.5L118.8 106L115.4 106.2z" fill="#000" stroke="#000" stroke-width=".7"/>
<path d="M125.6 106.8L129.1 106.4L125.7 106.2L122.2 106.5z" fill="#000" stroke="#000" stroke-width=".7"/>
<path d="M132.5 106.4L135.9 105.8L132.5 105.8L129.1 106.4z" fill="#000" stroke="#000" stroke-width=".7"/>
<path d="M139.4 105.5L142.8 104.7L139.4 105L135.9 105.8z" fill="#000" stroke="#000" stroke-width=".7"/>
<path d="M122.2 107L125.6 106.8L122.2 106.5L118.8 106.7z" fill="#000" stroke="#000" stroke-width=".7"/>
<path d="M129.1 106.8L132.5 106.4L129.1 106.4L125.6 106.8z" fill="#000" stroke="#000" stroke-width=".7"/>
<path d="M135.9 106.2L139.4 105.5L135.9 105.8L132.5 106.4z" fill="#000" stroke="#000" stroke-width=".7"/>
<path d="M125.6 107L129.1 106.8L125.6 106.8L122.2 107z" fill="#000" stroke="#000" stroke-width=".7"/>
<path d="M132.5 106.6L135.9 106.2L132.5 106.4L129.1 106.8z" fill="#000" stroke="#000" stroke-width=".7"/>
<path d="M129.1 106.9L132.5 106.6L129.1 106.8L125.6 107z" fill="#000" stroke="#000" stroke-width=".7"/>
<circle cx="52.8" cy="61.2" r="1.5" fill="#e01010"/>
<circle cx="129.2" cy="27.4" r="1.5" fill="#e01010"/>
<circle cx="129.2" cy="75.6" r="1.5" fill="#e01010"/>
<circle cx="129.2" cy="86" r="1.5" fill="#e01010"/>
<circle cx="205.8" cy="59.3" r="1.5" fill="#e8a080"/>
<circle cx="129.2" cy="114.4" r="1.5" fill="#f0b0a0"/>
<path d="M50.7 25.3h1.6" stroke="#333" stroke-width=".6"/>
<text x="48" y="24.4" font-size="5.0" font-weight="bold" text-anchor="end" fill="#222" stroke="#222" stroke-width="0.25" >2</text>
<path d="M51.5 40.7h1.6" stroke="#333" stroke-width=".6"/>
<text x="48.8" y="39.8" font-size="5.0" font-weight="bold" text-anchor="end" fill="#222" stroke="#222" stroke-width="0.25" >1.8</text>
<path d="M52.2 56.2h1.6" stroke="#333" stroke-width=".6"/>
<text x="49.5" y="55.3" font-size="5.0" font-weight="bold" text-anchor="end" fill="#222" stroke="#222" stroke-width="0.25" >1.6</text>
<path d="M53 71.6h1.6" stroke="#333" stroke-width=".6"/>
<text x="50.3" y="70.7" font-size="5.0" font-weight="bold" text-anchor="end" fill="#222" stroke="#222" stroke-width="0.25" >1.4</text>
<path d="M53.8 87.1h1.6" stroke="#333" stroke-width=".6"/>
<text x="51.1" y="86.2" font-size="5.0" font-weight="bold" text-anchor="end" fill="#222" stroke="#222" stroke-width="0.25" >1.2</text>
<path d="M54.5 102.5h1.6" stroke="#333" stroke-width=".6"/>
<text x="51.8" y="101.6" font-size="5.0" font-weight="bold" text-anchor="end" fill="#222" stroke="#222" stroke-width="0.25" >1</text>
<path d="M56 126.2l-1 1.2" stroke="#333" stroke-width=".6"/>
<text x="52.8" y="131.6" font-size="5.0" font-weight="bold" text-anchor="end" fill="#222" stroke="#222" stroke-width="0.25" >6.00</text>
<path d="M74.2 135l-1 1.2" stroke="#333" stroke-width=".6"/>
<text x="71" y="140.4" font-size="5.0" font-weight="bold" text-anchor="end" fill="#222" stroke="#222" stroke-width="0.25" >5.50</text>
<path d="M92.5 143.8l-1 1.2" stroke="#333" stroke-width=".6"/>
<text x="89.3" y="149.2" font-size="5.0" font-weight="bold" text-anchor="end" fill="#222" stroke="#222" stroke-width="0.25" >5.00</text>
<path d="M110.8 152.7l-1 1.2" stroke="#333" stroke-width=".6"/>
<text x="107.5" y="158.1" font-size="5.0" font-weight="bold" text-anchor="end" fill="#222" stroke="#222" stroke-width="0.25" >4.50</text>
<path d="M129 161.5l-1 1.2" stroke="#333" stroke-width=".6"/>
<text x="125.8" y="166.9" font-size="5.0" font-weight="bold" text-anchor="end" fill="#222" stroke="#222" stroke-width="0.25" >4.00</text>
<path d="M129 161.5l1 1.2" stroke="#333" stroke-width=".6"/>
<text x="131.8" y="166.5" font-size="5.0" font-weight="bold" text-anchor="start" fill="#222" stroke="#222" stroke-width="0.25" >6.00</text>
<path d="M143.7 154.5l1 1.2" stroke="#333" stroke-width=".6"/>
<text x="146.5" y="159.5" font-size="5.0" font-weight="bold" text-anchor="start" fill="#222" stroke="#222" stroke-width="0.25" >6.20</text>
<path d="M158.4 147.4l1 1.2" stroke="#333" stroke-width=".6"/>
<text x="161.2" y="152.4" font-size="5.0" font-weight="bold" text-anchor="start" fill="#222" stroke="#222" stroke-width="0.25" >6.40</text>
<path d="M173.1 140.4l1 1.2" stroke="#333" stroke-width=".6"/>
<text x="175.9" y="145.4" font-size="5.0" font-weight="bold" text-anchor="start" fill="#222" stroke="#222" stroke-width="0.25" >6.60</text>
<path d="M187.8 133.3l1 1.2" stroke="#333" stroke-width=".6"/>
<text x="190.6" y="138.3" font-size="5.0" font-weight="bold" text-anchor="start" fill="#222" stroke="#222" stroke-width="0.25" >6.80</text>
<path d="M202.5 126.3l1 1.2" stroke="#333" stroke-width=".6"/>
<text x="205.3" y="131.3" font-size="5.0" font-weight="bold" text-anchor="start" fill="#222" stroke="#222" stroke-width="0.25" >7.00</text>
<path d="M55.2 201.5L130.3 185" stroke="#9a9a9a" stroke-width="0.6" fill="none"/>
<path d="M130.3 185L205.3 202" stroke="#9a9a9a" stroke-width="0.6" fill="none"/>
<path d="M130.3 185L130.1 270.1" stroke="#9a9a9a" stroke-width="0.6" fill="none"/>
<path d="M205.3 202L200.5 296" stroke="#9a9a9a" stroke-width="0.6" fill="none"/>
<path d="M55.2 201.5L59.5 296" stroke="#555" stroke-width="0.6" fill="none"/>
<path d="M59.5 296L130.3 329L200.5 296L130.1 270.1z" fill="#ffff00"/>
<path d="M135.6 272.1L135.5 273.3L135.4 274L135.3 275.3L135.2 276.1L135 277.2L134.8 278.2L134.6 279.1L134.4 280.3L134.1 281.2L133.9 282.2L133.5 283.4L133.2 284.3L132.8 285.3L132.3 286.5L131.8 287.7L131.4 288.6L130.9 289.5L130.2 290.6L129.5 291.7L128.7 292.8L127.8 293.9L126.9 295L125.9 296L124.7 297.1L123 298.4L121.6 299.4L119.4 300.6L117.8 301.4L115.2 302.5L113.2 303.2L110 304L107.6 304.5L105 304.8L102.2 305.1L99.4 305.2L97.4 305.3L94.1 305.2L92.2 305.1L88.9 304.9L86.2 304.6L84 304.4L81.6 304L78.8 303.6L76.2 303.1L73.9 302.7" fill="none" stroke="#8cc173" stroke-width=".8"/>
<path d="M159 280.7L159.1 281.5L159.3 282.7L159.5 283.7L159.6 284.7L159.8 285.9L159.9 286.7L160 288L160.1 288.8L160.2 290.1L160.3 291L160.4 292.2L160.5 293.2L160.5 294.3L160.5 295.4L160.5 296.5L160.6 297.7L160.5 298.7L160.5 299.8L160.4 301L160.4 302L160.3 303.3L160.2 304.2L160 305.6L159.8 306.6L159.6 307.8L159.4 309.1L159.2 310L158.8 311.3L158.4 312.6L158.1 313.6L157.6 314.7L157.1 316L156.8 316.5" fill="none" stroke="#8cff04" stroke-width=".8"/>
<path d="M182 289.2L182.4 290.4L182.9 291.7L183.2 292.5L183.5 293.6L183.9 294.8L184.3 295.8L184.6 296.8L185 298.1L185.3 299.2L185.6 300L186 301.3L186.3 302.5L186.4 302.6" fill="none" stroke="#ffeb00" stroke-width=".8"/>
<path d="M130.1 241.7L133.4 239.1L130.2 239.8L126.9 242.4z" fill="#020740" stroke="#020740" stroke-width=".7"/>
<path d="M126.9 244.2L130.1 241.7L126.9 242.4L123.6 244.8z" fill="#01013b" stroke="#01013b" stroke-width=".7"/>
<path d="M133.4 241.1L136.7 238.4L133.4 239.1L130.1 241.7z" fill="#041845" stroke="#041845" stroke-width=".7"/>
<path d="M123.6 246.6L126.9 244.2L123.6 244.8L120.3 247.1z" fill="#010136" stroke="#010136" stroke-width=".7"/>
<path d="M130.1 243.6L133.4 241.1L130.1 241.7L126.9 244.2z" fill="#02093f" stroke="#02093f" stroke-width=".7"/>
<path d="M136.7 240.4L140 237.6L136.7 238.4L133.4 241.1z" fill="#062a4a" stroke="#062a4a" stroke-width=".7"/>
<path d="M120.3 248.8L123.6 246.6L120.3 247.1L117.1 249.2z" fill="#01012f" stroke="#01012f" stroke-width=".7"/>
<path d="M126.9 246L130.1 243.6L126.9 244.2L123.6 246.6z" fill="#010139" stroke="#010139" stroke-width=".7"/>
<path d="M133.4 243L136.7 240.4L133.4 241.1L130.1 243.6z" fill="#041944" stroke="#041944" stroke-width=".7"/>
<path d="M140 239.6L143.3 236.8L140 237.6L136.7 240.4z" fill="#083d4e" stroke="#083d4e" stroke-width=".7"/>
<path d="M123.6 248.3L126.9 246L123.6 246.6L120.3 248.8z" fill="#010134" stroke="#010134" stroke-width=".7"/>
<path d="M136.7 242.3L140 239.6L136.7 240.4L133.4 243z" fill="#062a49" stroke="#062a49" stroke-width=".7"/>
<path d="M117.1 250.8L120.3 248.8L117.1 249.2L113.8 251.2z" fill="#010128" stroke="#010128" stroke-width=".7"/>
<path d="M130.1 245.4L133.4 243L130.1 243.6L126.9 246z" fill="#030b3e" stroke="#030b3e" stroke-width=".7"/>
<path d="M143.3 238.9L146.7 236L143.3 236.8L140 239.6z" fill="#0b5153" stroke="#0b5153" stroke-width=".7"/>
<path d="M113.8 252.8L117.1 250.8L113.8 251.2L110.6 253.1z" fill="#01011e" stroke="#01011e" stroke-width=".7"/>
<path d="M120.3 250.4L123.6 248.3L120.3 248.8L117.1 250.8z" fill="#01012d" stroke="#01012d" stroke-width=".7"/>
<path d="M126.9 247.8L130.1 245.4L126.9 246L123.6 248.3z" fill="#010138" stroke="#010138" stroke-width=".7"/>
<path d="M133.4 244.8L136.7 242.3L133.4 243L130.1 245.4z" fill="#041b43" stroke="#041b43" stroke-width=".7"/>
<path d="M140 241.6L143.3 238.9L140 239.6L136.7 242.3z" fill="#083d4e" stroke="#083d4e" stroke-width=".7"/>
<path d="M146.7 238.1L150 235.2L146.7 236L143.3 238.9z" fill="#0b5649" stroke="#0b5649" stroke-width=".7"/>
<path d="M110.5 254.5L113.8 252.8L110.6 253.1L107.3 254.8z" fill="#000010" stroke="#000010" stroke-width=".7"/>
<path d="M117.1 252.4L120.3 250.4L117.1 250.8L113.8 252.8z" fill="#010124" stroke="#010124" stroke-width=".7"/>
<path d="M130.1 247.2L133.4 244.8L130.1 245.4L126.9 247.8z" fill="#030d3d" stroke="#030d3d" stroke-width=".7"/>
<path d="M143.3 240.9L146.7 238.1L143.3 238.9L140 241.6z" fill="#0b5153" stroke="#0b5153" stroke-width=".7"/>
<path d="M150 237.3L153.3 234.4L150 235.2L146.7 238.1z" fill="#0b583c" stroke="#0b583c" stroke-width=".7"/>
<path d="M123.6 250L126.9 247.8L123.6 248.3L120.3 250.4z" fill="#010132" stroke="#010132" stroke-width=".7"/>
<path d="M136.7 244.2L140 241.6L136.7 242.3L133.4 244.8z" fill="#062b48" stroke="#062b48" stroke-width=".7"/>
<path d="M113.8 254.2L117.1 252.4L113.8 252.8L110.5 254.5z" fill="#010119" stroke="#010119" stroke-width=".7"/>
<path d="M146.7 240.2L150 237.3L146.7 238.1L143.3 240.9z" fill="#0b5549" stroke="#0b5549" stroke-width=".7"/>
<path d="M107.3 256.2L110.5 254.5L107.3 254.8L104 256.4z" fill="#000" stroke="#000" stroke-width=".7"/>
<path d="M120.3 252L123.6 250L120.3 250.4L117.1 252.4z" fill="#01012a" stroke="#01012a" stroke-width=".7"/>
<path d="M126.9 249.5L130.1 247.2L126.9 247.8L123.6 250z" fill="#010336" stroke="#010336" stroke-width=".7"/>
<path d="M133.4 246.7L136.7 244.2L133.4 244.8L130.1 247.2z" fill="#051c42" stroke="#051c42" stroke-width=".7"/>
<path d="M140 243.6L143.3 240.9L140 241.6L136.7 244.2z" fill="#093e4d" stroke="#093e4d" stroke-width=".7"/>
<path d="M153.3 236.5L156.7 233.5L153.3 234.4L150 237.3z" fill="#0b5a2e" stroke="#0b5a2e" stroke-width=".7"/>
<path d="M104 257.7L107.3 256.2L104 256.4L100.8 257.8z" fill="#000" stroke="#000" stroke-width=".7"/>
<path d="M110.5 256L113.8 254.2L110.5 254.5L107.3 256.2z" fill="#000008" stroke="#000008" stroke-width=".7"/>
<path d="M117.1 253.9L120.3 252L117.1 252.4L113.8 254.2z" fill="#010120" stroke="#010120" stroke-width=".7"/>
<path d="M123.6 251.6L126.9 249.5L123.6 250L120.3 252z" fill="#01012f" stroke="#01012f" stroke-width=".7"/>
<path d="M130.1 249L133.4 246.7L130.1 247.2L126.9 249.5z" fill="#03103b" stroke="#03103b" stroke-width=".7"/>
<path d="M136.7 246.1L140 243.6L136.7 244.2L133.4 246.7z" fill="#072d47" stroke="#072d47" stroke-width=".7"/>
<path d="M143.3 242.9L146.7 240.2L143.3 240.9L140 243.6z" fill="#0b5152" stroke="#0b5152" stroke-width=".7"/>
<path d="M150 239.5L153.3 236.5L150 237.3L146.7 240.2z" fill="#0b583c" stroke="#0b583c" stroke-width=".7"/>
<path d="M156.7 235.7L160 232.6L156.7 233.5L153.3 236.5z" fill="#0b5c1f" stroke="#0b5c1f" stroke-width=".7"/>
<path d="M100.8 259L104 257.7L100.8 257.8L97.5 259.1z" fill="#000" stroke="#000" stroke-width=".7"/>
<path d="M107.3 257.5L110.5 256L107.3 256.2L104 257.7z" fill="#000" stroke="#000" stroke-width=".7"/>
<path d="M113.8 255.7L117.1 253.9L113.8 254.2L110.5 256z" fill="#000013" stroke="#000013" stroke-width=".7"/>
<path d="M120.3 253.6L123.6 251.6L120.3 252L117.1 253.9z" fill="#010127" stroke="#010127" stroke-width=".7"/>
<path d="M126.9 251.2L130.1 249L126.9 249.5L123.6 251.6z" fill="#020634" stroke="#020634" stroke-width=".7"/>
<path d="M133.4 248.5L136.7 246.1L133.4 246.7L130.1 249z" fill="#051e41" stroke="#051e41" stroke-width=".7"/>
<path d="M140 245.5L143.3 242.9L140 243.6L136.7 246.1z" fill="#093e4c" stroke="#093e4c" stroke-width=".7"/>
<path d="M146.7 242.3L150 239.5L146.7 240.2L143.3 242.9z" fill="#0b5548" stroke="#0b5548" stroke-width=".7"/>
<path d="M153.3 238.7L156.7 235.7L153.3 236.5L150 239.5z" fill="#0b5a2f" stroke="#0b5a2f" stroke-width=".7"/>
<path d="M160 234.9L163.4 231.7L160 232.6L156.7 235.7z" fill="#0b5e10" stroke="#0b5e10" stroke-width=".7"/>
<path d="M97.5 260.2L100.8 259L97.5 259.1L94.3 260.3z" fill="#000" stroke="#000" stroke-width=".7"/>
<path d="M104 258.9L107.3 257.5L104 257.7L100.8 259z" fill="#000" stroke="#000" stroke-width=".7"/>
<path d="M110.5 257.3L113.8 255.7L110.5 256L107.3 257.5z" fill="#000" stroke="#000" stroke-width=".7"/>
<path d="M117.1 255.4L120.3 253.6L117.1 253.9L113.8 255.7z" fill="#01011c" stroke="#01011c" stroke-width=".7"/>
<path d="M123.6 253.2L126.9 251.2L123.6 251.6L120.3 253.6z" fill="#01012c" stroke="#01012c" stroke-width=".7"/>
<path d="M130.2 250.8L133.4 248.5L130.1 249L126.9 251.2z" fill="#03133a" stroke="#03133a" stroke-width=".7"/>
<path d="M136.7 248L140 245.5L136.7 246.1L133.4 248.5z" fill="#072e46" stroke="#072e46" stroke-width=".7"/>
<path d="M143.3 244.9L146.7 242.3L143.3 242.9L140 245.5z" fill="#0b5151" stroke="#0b5151" stroke-width=".7"/>
<path d="M150 241.6L153.3 238.7L150 239.5L146.7 242.3z" fill="#0b573c" stroke="#0b573c" stroke-width=".7"/>
<path d="M156.7 237.9L160 234.9L156.7 235.7L153.3 238.7z" fill="#0b5c21" stroke="#0b5c21" stroke-width=".7"/>
<path d="M163.4 234L166.8 230.7L163.4 231.7L160 234.9z" fill="#16600c" stroke="#16600c" stroke-width=".7"/>
<path d="M94.2 261.3L97.5 260.2L94.3 260.3L91 261.2z" fill="#000" stroke="#000" stroke-width=".7"/>
<path d="M100.8 260.2L104 258.9L100.8 259L97.5 260.2z" fill="#000" stroke="#000" stroke-width=".7"/>
<path d="M107.3 258.8L110.5 257.3L107.3 257.5L104 258.9z" fill="#000" stroke="#000" stroke-width=".7"/>
<path d="M113.8 257.1L117.1 255.4L113.8 255.7L110.5 257.3z" fill="#00000b" stroke="#00000b" stroke-width=".7"/>
<path d="M120.3 255.1L123.6 253.2L120.3 253.6L117.1 255.4z" fill="#010123" stroke="#010123" stroke-width=".7"/>
<path d="M126.9 252.9L130.2 250.8L126.9 251.2L123.6 253.2z" fill="#020932" stroke="#020932" stroke-width=".7"/>
<path d="M133.4 250.3L136.7 248L133.4 248.5L130.2 250.8z" fill="#05203f" stroke="#05203f" stroke-width=".7"/>
<path d="M140 247.4L143.3 244.9L140 245.5L136.7 248z" fill="#093f4b" stroke="#093f4b" stroke-width=".7"/>
<path d="M146.7 244.3L150 241.6L146.7 242.3L143.3 244.9z" fill="#0b5447" stroke="#0b5447" stroke-width=".7"/>
<path d="M153.3 240.8L156.7 237.9L153.3 238.7L150 241.6z" fill="#0b592f" stroke="#0b592f" stroke-width=".7"/>
<path d="M160 237.1L163.4 234L160 234.9L156.7 237.9z" fill="#0b5d11" stroke="#0b5d11" stroke-width=".7"/>
<path d="M166.8 233.1L170.1 229.8L166.8 230.7L163.4 234z" fill="#26630d" stroke="#26630d" stroke-width=".7"/>
<path d="M91 262.2L94.2 261.3L91 261.2L87.7 262.1z" fill="#000" stroke="#000" stroke-width=".7"/>
<path d="M97.5 261.3L100.8 260.2L97.5 260.2L94.2 261.3z" fill="#000" stroke="#000" stroke-width=".7"/>
<path d="M104 260.1L107.3 258.8L104 258.9L100.8 260.2z" fill="#000" stroke="#000" stroke-width=".7"/>
<path d="M110.5 258.7L113.8 257.1L110.5 257.3L107.3 258.8z" fill="#000" stroke="#000" stroke-width=".7"/>
<path d="M117.1 256.9L120.3 255.1L117.1 255.4L113.8 257.1z" fill="#010116" stroke="#010116" stroke-width=".7"/>
<path d="M123.6 254.8L126.9 252.9L123.6 253.2L120.3 255.1z" fill="#010329" stroke="#010329" stroke-width=".7"/>
<path d="M130.2 252.5L133.4 250.3L130.2 250.8L126.9 252.9z" fill="#041538" stroke="#041538" stroke-width=".7"/>
<path d="M136.7 249.8L140 247.4L136.7 248L133.4 250.3z" fill="#073045" stroke="#073045" stroke-width=".7"/>
<path d="M143.4 246.9L146.7 244.3L143.3 244.9L140 247.4z" fill="#0b504f" stroke="#0b504f" stroke-width=".7"/>
<path d="M150 243.6L153.3 240.8L150 241.6L146.7 244.3z" fill="#0b563c" stroke="#0b563c" stroke-width=".7"/>
<path d="M156.7 240.1L160 237.1L156.7 237.9L153.3 240.8z" fill="#0b5b22" stroke="#0b5b22" stroke-width=".7"/>
<path d="M163.4 236.3L166.8 233.1L163.4 234L160 237.1z" fill="#14600b" stroke="#14600b" stroke-width=".7"/>
<path d="M170.1 232.2L173.5 228.8L170.1 229.8L166.8 233.1z" fill="#37660e" stroke="#37660e" stroke-width=".7"/>
<path d="M87.7 262.9L91 262.2L87.7 262.1L84.5 262.8z" fill="#000" stroke="#000" stroke-width=".7"/>
<path d="M94.2 262.2L97.5 261.3L94.2 261.3L91 262.2z" fill="#000" stroke="#000" stroke-width=".7"/>
<path d="M100.7 261.3L104 260.1L100.8 260.2L97.5 261.3z" fill="#000" stroke="#000" stroke-width=".7"/>
<path d="M107.3 260L110.5 258.7L107.3 258.8L104 260.1z" fill="#000" stroke="#000" stroke-width=".7"/>
<path d="M120.3 256.6L123.6 254.8L120.3 255.1L117.1 256.9z" fill="#01011e" stroke="#01011e" stroke-width=".7"/>
<path d="M126.9 254.5L130.2 252.5L126.9 252.9L123.6 254.8z" fill="#020c2f" stroke="#020c2f" stroke-width=".7"/>
<path d="M133.5 252.1L136.7 249.8L133.4 250.3L130.2 252.5z" fill="#05233e" stroke="#05233e" stroke-width=".7"/>
<path d="M140.1 249.3L143.4 246.9L140 247.4L136.7 249.8z" fill="#09414a" stroke="#09414a" stroke-width=".7"/>
<path d="M153.3 243L156.7 240.1L153.3 240.8L150 243.6z" fill="#0b592f" stroke="#0b592f" stroke-width=".7"/>
<path d="M160 239.3L163.4 236.3L160 237.1L156.7 240.1z" fill="#0b5d13" stroke="#0b5d13" stroke-width=".7"/>
<path d="M166.7 235.4L170.1 232.2L166.8 233.1L163.4 236.3z" fill="#23630d" stroke="#23630d" stroke-width=".7"/>
<path d="M173.5 231.2L176.9 227.8L173.5 228.8L170.1 232.2z" fill="#48690f" stroke="#48690f" stroke-width=".7"/>
<path d="M113.8 258.5L117.1 256.9L113.8 257.1L110.5 258.7z" fill="#000" stroke="#000" stroke-width=".7"/>
<path d="M146.7 246.3L150 243.6L146.7 244.3L143.4 246.9z" fill="#0b5345" stroke="#0b5345" stroke-width=".7"/>
<path d="M84.4 263.5L87.7 262.9L84.5 262.8L81.2 263.3z" fill="#000" stroke="#000" stroke-width=".7"/>
<path d="M90.9 263L94.2 262.2L91 262.2L87.7 262.9z" fill="#000" stroke="#000" stroke-width=".7"/>
<path d="M104 261.3L107.3 260L104 260.1L100.7 261.3z" fill="#000" stroke="#000" stroke-width=".7"/>
<path d="M123.6 256.4L126.9 254.5L123.6 254.8L120.3 256.6z" fill="#010625" stroke="#010625" stroke-width=".7"/>
<path d="M136.8 251.6L140.1 249.3L136.7 249.8L133.5 252.1z" fill="#073243" stroke="#073243" stroke-width=".7"/>
<path d="M156.7 242.3L160 239.3L156.7 240.1L153.3 243z" fill="#0b5b22" stroke="#0b5b22" stroke-width=".7"/>
<path d="M170.1 234.6L173.5 231.2L170.1 232.2L166.7 235.4z" fill="#34660e" stroke="#34660e" stroke-width=".7"/>
<path d="M176.9 230.3L180.3 226.8L176.9 227.8L173.5 231.2z" fill="#5a6b11" stroke="#5a6b11" stroke-width=".7"/>
<path d="M97.5 262.3L100.7 261.3L97.5 261.3L94.2 262.2z" fill="#000" stroke="#000" stroke-width=".7"/>
<path d="M110.5 259.9L113.8 258.5L110.5 258.7L107.3 260z" fill="#000" stroke="#000" stroke-width=".7"/>
<path d="M117.1 258.3L120.3 256.6L117.1 256.9L113.8 258.5z" fill="#00000e" stroke="#00000e" stroke-width=".7"/>
<path d="M130.2 254.1L133.5 252.1L130.2 252.5L126.9 254.5z" fill="#041836" stroke="#041836" stroke-width=".7"/>
<path d="M143.4 248.8L146.7 246.3L143.4 246.9L140.1 249.3z" fill="#0a4f4c" stroke="#0a4f4c" stroke-width=".7"/>
<path d="M150 245.7L153.3 243L150 243.6L146.7 246.3z" fill="#0b563a" stroke="#0b563a" stroke-width=".7"/>
<path d="M163.4 238.6L166.7 235.4L163.4 236.3L160 239.3z" fill="#12600b" stroke="#12600b" stroke-width=".7"/>
<path d="M87.7 263.7L90.9 263L87.7 262.9L84.4 263.5z" fill="#000" stroke="#000" stroke-width=".7"/>
<path d="M173.5 233.7L176.9 230.3L173.5 231.2L170.1 234.6z" fill="#44690f" stroke="#44690f" stroke-width=".7"/>
<path d="M81.1 263.9L84.4 263.5L81.2 263.3L77.9 263.6z" fill="#000" stroke="#000" stroke-width=".7"/>
<path d="M94.2 263.2L97.5 262.3L94.2 262.2L90.9 263z" fill="#000" stroke="#000" stroke-width=".7"/>
<path d="M100.7 262.4L104 261.3L100.7 261.3L97.5 262.3z" fill="#000" stroke="#000" stroke-width=".7"/>
<path d="M107.2 261.2L110.5 259.9L107.3 260L104 261.3z" fill="#000" stroke="#000" stroke-width=".7"/>
<path d="M113.8 259.8L117.1 258.3L113.8 258.5L110.5 259.9z" fill="#000" stroke="#000" stroke-width=".7"/>
<path d="M120.3 258.1L123.6 256.4L120.3 256.6L117.1 258.3z" fill="#010218" stroke="#010218" stroke-width=".7"/>
<path d="M126.9 256.1L130.2 254.1L126.9 254.5L123.6 256.4z" fill="#030f2c" stroke="#030f2c" stroke-width=".7"/>
<path d="M133.5 253.8L136.8 251.6L133.5 252.1L130.2 254.1z" fill="#05253c" stroke="#05253c" stroke-width=".7"/>
<path d="M140.1 251.2L143.4 248.8L140.1 249.3L136.8 251.6z" fill="#094249" stroke="#094249" stroke-width=".7"/>
<path d="M146.7 248.3L150 245.7L146.7 246.3L143.4 248.8z" fill="#0b5243" stroke="#0b5243" stroke-width=".7"/>
<path d="M153.3 245L156.7 242.3L153.3 243L150 245.7z" fill="#0b582f" stroke="#0b582f" stroke-width=".7"/>
<path d="M160 241.5L163.4 238.6L160 239.3L156.7 242.3z" fill="#0b5d14" stroke="#0b5d14" stroke-width=".7"/>
<path d="M166.7 237.8L170.1 234.6L166.7 235.4L163.4 238.6z" fill="#21630c" stroke="#21630c" stroke-width=".7"/>
<path d="M180.3 229.3L183.7 225.7L180.3 226.8L176.9 230.3z" fill="#6c6e12" stroke="#6c6e12" stroke-width=".7"/>
<path d="M77.9 264.1L81.1 263.9L77.9 263.6L74.6 263.8z" fill="#000" stroke="#000" stroke-width=".7"/>
<path d="M84.4 264.2L87.7 263.7L84.4 263.5L81.1 263.9z" fill="#000" stroke="#000" stroke-width=".7"/>
<path d="M90.9 263.9L94.2 263.2L90.9 263L87.7 263.7z" fill="#000" stroke="#000" stroke-width=".7"/>
<path d="M97.4 263.3L100.7 262.4L97.5 262.3L94.2 263.2z" fill="#000" stroke="#000" stroke-width=".7"/>
<path d="M104 262.4L107.2 261.2L104 261.3L100.7 262.4z" fill="#000" stroke="#000" stroke-width=".7"/>
<path d="M110.5 261.2L113.8 259.8L110.5 259.9L107.2 261.2z" fill="#000" stroke="#000" stroke-width=".7"/>
<path d="M117.1 259.7L120.3 258.1L117.1 258.3L113.8 259.8z" fill="#000002" stroke="#000002" stroke-width=".7"/>
<path d="M130.2 255.8L133.5 253.8L130.2 254.1L126.9 256.1z" fill="#041a33" stroke="#041a33" stroke-width=".7"/>
<path d="M143.4 250.7L146.7 248.3L143.4 248.8L140.1 251.2z" fill="#0a4d48" stroke="#0a4d48" stroke-width=".7"/>
<path d="M150 247.7L153.3 245L150 245.7L146.7 248.3z" fill="#0b5539" stroke="#0b5539" stroke-width=".7"/>
<path d="M156.7 244.4L160 241.5L156.7 242.3L153.3 245z" fill="#0b5a22" stroke="#0b5a22" stroke-width=".7"/>
<path d="M163.4 240.8L166.7 237.8L163.4 238.6L160 241.5z" fill="#105f0b" stroke="#105f0b" stroke-width=".7"/>
<path d="M170.1 236.9L173.5 233.7L170.1 234.6L166.7 237.8z" fill="#31650e" stroke="#31650e" stroke-width=".7"/>
<path d="M176.9 232.8L180.3 229.3L176.9 230.3L173.5 233.7z" fill="#566b10" stroke="#566b10" stroke-width=".7"/>
<path d="M183.7 228.3L187.2 224.6L183.7 225.7L180.3 229.3z" fill="#6f6311" stroke="#6f6311" stroke-width=".7"/>
<path d="M123.6 257.9L126.9 256.1L123.6 256.4L120.3 258.1z" fill="#020821" stroke="#020821" stroke-width=".7"/>
<path d="M136.8 253.4L140.1 251.2L136.8 251.6L133.5 253.8z" fill="#073341" stroke="#073341" stroke-width=".7"/>
<path d="M74.5 264.2L77.9 264.1L74.6 263.8L71.3 263.8z" fill="#000" stroke="#000" stroke-width=".7"/>
<path d="M81.1 264.5L84.4 264.2L81.1 263.9L77.9 264.1z" fill="#000" stroke="#000" stroke-width=".7"/>
<path d="M94.2 264L97.4 263.3L94.2 263.2L90.9 263.9z" fill="#000" stroke="#000" stroke-width=".7"/>
<path d="M107.2 262.4L110.5 261.2L107.2 261.2L104 262.4z" fill="#000" stroke="#000" stroke-width=".7"/>
<path d="M113.8 261.1L117.1 259.7L113.8 259.8L110.5 261.2z" fill="#000" stroke="#000" stroke-width=".7"/>
<path d="M146.7 250.2L150 247.7L146.7 248.3L143.4 250.7z" fill="#0a5040" stroke="#0a5040" stroke-width=".7"/>
<path d="M153.4 247.1L156.7 244.4L153.3 245L150 247.7z" fill="#0b572e" stroke="#0b572e" stroke-width=".7"/>
<path d="M166.8 240.1L170.1 236.9L166.7 237.8L163.4 240.8z" fill="#1f620c" stroke="#1f620c" stroke-width=".7"/>
<path d="M180.3 231.8L183.7 228.3L180.3 229.3L176.9 232.8z" fill="#686e12" stroke="#686e12" stroke-width=".7"/>
<path d="M187.2 227.3L190.6 223.5L187.2 224.6L183.7 228.3z" fill="#6e560f" stroke="#6e560f" stroke-width=".7"/>
<path d="M87.6 264.4L90.9 263.9L87.7 263.7L84.4 264.2z" fill="#000" stroke="#000" stroke-width=".7"/>
<path d="M100.7 263.4L104 262.4L100.7 262.4L97.4 263.3z" fill="#000" stroke="#000" stroke-width=".7"/>
<path d="M120.3 259.5L123.6 257.9L120.3 258.1L117.1 259.7z" fill="#010311" stroke="#010311" stroke-width=".7"/>
<path d="M126.9 257.6L130.2 255.8L126.9 256.1L123.6 257.9z" fill="#031129" stroke="#031129" stroke-width=".7"/>
<path d="M133.5 255.5L136.8 253.4L133.5 253.8L130.2 255.8z" fill="#062739" stroke="#062739" stroke-width=".7"/>
<path d="M140.1 253L143.4 250.7L140.1 251.2L136.8 253.4z" fill="#094347" stroke="#094347" stroke-width=".7"/>
<path d="M160 243.7L163.4 240.8L160 241.5L156.7 244.4z" fill="#0b5c14" stroke="#0b5c14" stroke-width=".7"/>
<path d="M173.5 236.1L176.9 232.8L173.5 233.7L170.1 236.9z" fill="#41680f" stroke="#41680f" stroke-width=".7"/>
<path d="M71.2 264.1L74.5 264.2L71.3 263.8L68 263.7z" fill="#000" stroke="#000" stroke-width=".7"/>
<path d="M77.8 264.6L81.1 264.5L77.9 264.1L74.5 264.2z" fill="#000" stroke="#000" stroke-width=".7"/>
<path d="M110.5 262.4L113.8 261.1L110.5 261.2L107.2 262.4z" fill="#000" stroke="#000" stroke-width=".7"/>
<path d="M150 249.7L153.4 247.1L150 247.7L146.7 250.2z" fill="#0b5337" stroke="#0b5337" stroke-width=".7"/>
<path d="M183.7 230.9L187.2 227.3L183.7 228.3L180.3 231.8z" fill="#6f6811" stroke="#6f6811" stroke-width=".7"/>
<path d="M190.6 226.2L194 222.4L190.6 223.5L187.2 227.3z" fill="#6e480e" stroke="#6e480e" stroke-width=".7"/>
<path d="M84.3 264.8L87.6 264.4L84.4 264.2L81.1 264.5z" fill="#000" stroke="#000" stroke-width=".7"/>
<path d="M90.9 264.6L94.2 264L90.9 263.9L87.6 264.4z" fill="#000" stroke="#000" stroke-width=".7"/>
<path d="M97.4 264.2L100.7 263.4L97.4 263.3L94.2 264z" fill="#000" stroke="#000" stroke-width=".7"/>
<path d="M104 263.4L107.2 262.4L104 262.4L100.7 263.4z" fill="#000" stroke="#000" stroke-width=".7"/>
<path d="M117.1 261L120.3 259.5L117.1 259.7L113.8 261.1z" fill="#000" stroke="#000" stroke-width=".7"/>
<path d="M123.6 259.4L126.9 257.6L123.6 257.9L120.3 259.5z" fill="#02091b" stroke="#02091b" stroke-width=".7"/>
<path d="M130.2 257.4L133.5 255.5L130.2 255.8L126.9 257.6z" fill="#041c30" stroke="#041c30" stroke-width=".7"/>
<path d="M136.8 255.1L140.1 253L136.8 253.4L133.5 255.5z" fill="#07353f" stroke="#07353f" stroke-width=".7"/>
<path d="M143.4 252.5L146.7 250.2L143.4 250.7L140.1 253z" fill="#0a4b45" stroke="#0a4b45" stroke-width=".7"/>
<path d="M156.7 246.5L160 243.7L156.7 244.4L153.4 247.1z" fill="#0b5a22" stroke="#0b5a22" stroke-width=".7"/>
<path d="M163.4 243L166.8 240.1L163.4 240.8L160 243.7z" fill="#0f5f0b" stroke="#0f5f0b" stroke-width=".7"/>
<path d="M170.1 239.3L173.5 236.1L170.1 236.9L166.8 240.1z" fill="#2e650e" stroke="#2e650e" stroke-width=".7"/>
<path d="M176.9 235.2L180.3 231.8L176.9 232.8L173.5 236.1z" fill="#526b10" stroke="#526b10" stroke-width=".7"/>
<path d="M74.5 264.6L77.8 264.6L74.5 264.2L71.2 264.1z" fill="#000" stroke="#000" stroke-width=".7"/>
<path d="M187.1 229.9L190.6 226.2L187.2 227.3L183.7 230.9z" fill="#6f5b10" stroke="#6f5b10" stroke-width=".7"/>
<path d="M67.9 263.9L71.2 264.1L68 263.7L64.7 263.4z" fill="#000" stroke="#000" stroke-width=".7"/>
<path d="M81.1 265L84.3 264.8L81.1 264.5L77.8 264.6z" fill="#000" stroke="#000" stroke-width=".7"/>
<path d="M87.6 265.1L90.9 264.6L87.6 264.4L84.3 264.8z" fill="#000" stroke="#000" stroke-width=".7"/>
<path d="M94.1 264.8L97.4 264.2L94.2 264L90.9 264.6z" fill="#000" stroke="#000" stroke-width=".7"/>
<path d="M100.7 264.3L104 263.4L100.7 263.4L97.4 264.2z" fill="#000" stroke="#000" stroke-width=".7"/>
<path d="M107.2 263.5L110.5 262.4L107.2 262.4L104 263.4z" fill="#000" stroke="#000" stroke-width=".7"/>
<path d="M113.8 262.3L117.1 261L113.8 261.1L110.5 262.4z" fill="#000" stroke="#000" stroke-width=".7"/>
<path d="M120.3 260.9L123.6 259.4L120.3 259.5L117.1 261z" fill="#000206" stroke="#000206" stroke-width=".7"/>
<path d="M126.9 259.2L130.2 257.4L126.9 257.6L123.6 259.4z" fill="#031224" stroke="#031224" stroke-width=".7"/>
<path d="M133.5 257.1L136.8 255.1L133.5 255.5L130.2 257.4z" fill="#062836" stroke="#062836" stroke-width=".7"/>
<path d="M140.1 254.8L143.4 252.5L140.1 253L136.8 255.1z" fill="#094545" stroke="#094545" stroke-width=".7"/>
<path d="M146.7 252.1L150 249.7L146.7 250.2L143.4 252.5z" fill="#0a4f3d" stroke="#0a4f3d" stroke-width=".7"/>
<path d="M153.4 249.1L156.7 246.5L153.4 247.1L150 249.7z" fill="#0b562c" stroke="#0b562c" stroke-width=".7"/>
<path d="M160 245.9L163.4 243L160 243.7L156.7 246.5z" fill="#0b5c15" stroke="#0b5c15" stroke-width=".7"/>
<path d="M166.8 242.3L170.1 239.3L166.8 240.1L163.4 243z" fill="#1d620c" stroke="#1d620c" stroke-width=".7"/>
<path d="M173.5 238.5L176.9 235.2L173.5 236.1L170.1 239.3z" fill="#3e680f" stroke="#3e680f" stroke-width=".7"/>
<path d="M180.3 234.3L183.7 230.9L180.3 231.8L176.9 235.2z" fill="#646e11" stroke="#646e11" stroke-width=".7"/>
<path d="M194 225.2L197.5 221.3L194 222.4L190.6 226.2z" fill="#6e390c" stroke="#6e390c" stroke-width=".7"/>
<path d="M64.6 263.4L67.9 263.9L64.7 263.4L61.3 262.9z" fill="#000" stroke="#000" stroke-width=".7"/>
<path d="M71.2 264.4L74.5 264.6L71.2 264.1L67.9 263.9z" fill="#000" stroke="#000" stroke-width=".7"/>
<path d="M77.7 265L81.1 265L77.8 264.6L74.5 264.6z" fill="#000" stroke="#000" stroke-width=".7"/>
<path d="M84.3 265.3L87.6 265.1L84.3 264.8L81.1 265z" fill="#000" stroke="#000" stroke-width=".7"/>
<path d="M90.9 265.3L94.1 264.8L90.9 264.6L87.6 265.1z" fill="#000" stroke="#000" stroke-width=".7"/>
<path d="M97.4 265L100.7 264.3L97.4 264.2L94.1 264.8z" fill="#000" stroke="#000" stroke-width=".7"/>
<path d="M104 264.4L107.2 263.5L104 263.4L100.7 264.3z" fill="#000" stroke="#000" stroke-width=".7"/>
<path d="M110.5 263.5L113.8 262.3L110.5 262.4L107.2 263.5z" fill="#000" stroke="#000" stroke-width=".7"/>
<path d="M117.1 262.3L120.3 260.9L117.1 261L113.8 262.3z" fill="#000" stroke="#000" stroke-width=".7"/>
<path d="M123.6 260.8L126.9 259.2L123.6 259.4L120.3 260.9z" fill="#010914" stroke="#010914" stroke-width=".7"/>
<path d="M130.2 259L133.5 257.1L130.2 257.4L126.9 259.2z" fill="#041d2c" stroke="#041d2c" stroke-width=".7"/>
<path d="M136.8 256.8L140.1 254.8L136.8 255.1L133.5 257.1z" fill="#07363d" stroke="#07363d" stroke-width=".7"/>
<path d="M143.4 254.4L146.7 252.1L143.4 252.5L140.1 254.8z" fill="#0a4940" stroke="#0a4940" stroke-width=".7"/>
<path d="M150 251.6L153.4 249.1L150 249.7L146.7 252.1z" fill="#0a5234" stroke="#0a5234" stroke-width=".7"/>
<path d="M156.7 248.6L160 245.9L156.7 246.5L153.4 249.1z" fill="#0b5921" stroke="#0b5921" stroke-width=".7"/>
<path d="M163.4 245.2L166.8 242.3L163.4 243L160 245.9z" fill="#0e5e0b" stroke="#0e5e0b" stroke-width=".7"/>
<path d="M170.1 241.6L173.5 238.5L170.1 239.3L166.8 242.3z" fill="#2c650d" stroke="#2c650d" stroke-width=".7"/>
<path d="M176.9 237.7L180.3 234.3L176.9 235.2L173.5 238.5z" fill="#4f6b10" stroke="#4f6b10" stroke-width=".7"/>
<path d="M183.7 233.4L187.1 229.9L183.7 230.9L180.3 234.3z" fill="#706c12" stroke="#706c12" stroke-width=".7"/>
<path d="M190.6 228.9L194 225.2L190.6 226.2L187.1 229.9z" fill="#6f4d0e" stroke="#6f4d0e" stroke-width=".7"/>
<path d="M197.5 224.1L201 220.1L197.5 221.3L194 225.2z" fill="#6d2a0b" stroke="#6d2a0b" stroke-width=".7"/>
<path d="M61.2 262.8L64.6 263.4L61.3 262.9L58 262.2z" fill="#000" stroke="#000" stroke-width=".7"/>
<path d="M67.8 264L71.2 264.4L67.9 263.9L64.6 263.4z" fill="#000" stroke="#000" stroke-width=".7"/>
<path d="M74.4 264.9L77.7 265L74.5 264.6L71.2 264.4z" fill="#000" stroke="#000" stroke-width=".7"/>
<path d="M81 265.4L84.3 265.3L81.1 265L77.7 265z" fill="#000" stroke="#000" stroke-width=".7"/>
<path d="M87.6 265.7L90.9 265.3L87.6 265.1L84.3 265.3z" fill="#000" stroke="#000" stroke-width=".7"/>
<path d="M94.1 265.6L97.4 265L94.1 264.8L90.9 265.3z" fill="#000" stroke="#000" stroke-width=".7"/>
<path d="M100.7 265.2L104 264.4L100.7 264.3L97.4 265z" fill="#000" stroke="#000" stroke-width=".7"/>
<path d="M107.2 264.5L110.5 263.5L107.2 263.5L104 264.4z" fill="#000" stroke="#000" stroke-width=".7"/>
<path d="M113.8 263.5L117.1 262.3L113.8 262.3L110.5 263.5z" fill="#000" stroke="#000" stroke-width=".7"/>
<path d="M120.3 262.2L123.6 260.8L120.3 260.9L117.1 262.3z" fill="#000" stroke="#000" stroke-width=".7"/>
<path d="M126.9 260.6L130.2 259L126.9 259.2L123.6 260.8z" fill="#03121e" stroke="#03121e" stroke-width=".7"/>
<path d="M133.5 258.7L136.8 256.8L133.5 257.1L130.2 259z" fill="#062933" stroke="#062933" stroke-width=".7"/>
<path d="M140.1 256.5L143.4 254.4L140.1 254.8L136.8 256.8z" fill="#094340" stroke="#094340" stroke-width=".7"/>
<path d="M146.7 254L150 251.6L146.7 252.1L143.4 254.4z" fill="#0a4d39" stroke="#0a4d39" stroke-width=".7"/>
<path d="M153.4 251.1L156.7 248.6L153.4 249.1L150 251.6z" fill="#0a552a" stroke="#0a552a" stroke-width=".7"/>
<path d="M160.1 248L163.4 245.2L160 245.9L156.7 248.6z" fill="#0b5b14" stroke="#0b5b14" stroke-width=".7"/>
<path d="M166.8 244.6L170.1 241.6L166.8 242.3L163.4 245.2z" fill="#1c610c" stroke="#1c610c" stroke-width=".7"/>
<path d="M173.5 240.8L176.9 237.7L173.5 238.5L170.1 241.6z" fill="#3c680f" stroke="#3c680f" stroke-width=".7"/>
<path d="M180.3 236.8L183.7 233.4L180.3 234.3L176.9 237.7z" fill="#606e11" stroke="#606e11" stroke-width=".7"/>
<path d="M187.1 232.5L190.6 228.9L187.1 229.9L183.7 233.4z" fill="#705f10" stroke="#705f10" stroke-width=".7"/>
<path d="M194 227.9L197.5 224.1L194 225.2L190.6 228.9z" fill="#6f3f0d" stroke="#6f3f0d" stroke-width=".7"/>
<path d="M200.9 222.9L204.4 218.9L201 220.1L197.5 224.1z" fill="#6d1b09" stroke="#6d1b09" stroke-width=".7"/>
<path d="M64.5 263.5L67.8 264L64.6 263.4L61.2 262.8z" fill="#000" stroke="#000" stroke-width=".7"/>
<path d="M71.1 264.6L74.4 264.9L71.2 264.4L67.8 264z" fill="#000" stroke="#000" stroke-width=".7"/>
<path d="M77.7 265.3L81 265.4L77.7 265L74.4 264.9z" fill="#000" stroke="#000" stroke-width=".7"/>
<path d="M90.8 266L94.1 265.6L90.9 265.3L87.6 265.7z" fill="#000" stroke="#000" stroke-width=".7"/>
<path d="M97.4 265.8L100.7 265.2L97.4 265L94.1 265.6z" fill="#000" stroke="#000" stroke-width=".7"/>
<path d="M110.5 264.6L113.8 263.5L110.5 263.5L107.2 264.5z" fill="#000" stroke="#000" stroke-width=".7"/>
<path d="M123.6 262.2L126.9 260.6L123.6 260.8L120.3 262.2z" fill="#01050a" stroke="#01050a" stroke-width=".7"/>
<path d="M130.2 260.5L133.5 258.7L130.2 259L126.9 260.6z" fill="#041d27" stroke="#041d27" stroke-width=".7"/>
<path d="M136.8 258.5L140.1 256.5L136.8 256.8L133.5 258.7z" fill="#07373a" stroke="#07373a" stroke-width=".7"/>
<path d="M150.1 253.6L153.4 251.1L150 251.6L146.7 254z" fill="#0a5031" stroke="#0a5031" stroke-width=".7"/>
<path d="M163.4 247.4L166.8 244.6L163.4 245.2L160.1 248z" fill="#0e5e0b" stroke="#0e5e0b" stroke-width=".7"/>
<path d="M170.1 243.9L173.5 240.8L170.1 241.6L166.8 244.6z" fill="#2b640d" stroke="#2b640d" stroke-width=".7"/>
<path d="M183.7 235.9L187.1 232.5L183.7 233.4L180.3 236.8z" fill="#707012" stroke="#707012" stroke-width=".7"/>
<path d="M190.6 231.5L194 227.9L190.6 228.9L187.1 232.5z" fill="#70520f" stroke="#70520f" stroke-width=".7"/>
<path d="M197.5 226.8L200.9 222.9L197.5 224.1L194 227.9z" fill="#6e310b" stroke="#6e310b" stroke-width=".7"/>
<path d="M84.3 265.8L87.6 265.7L84.3 265.3L81 265.4z" fill="#000" stroke="#000" stroke-width=".7"/>
<path d="M104 265.4L107.2 264.5L104 264.4L100.7 265.2z" fill="#000" stroke="#000" stroke-width=".7"/>
<path d="M117.1 263.5L120.3 262.2L117.1 262.3L113.8 263.5z" fill="#000" stroke="#000" stroke-width=".7"/>
<path d="M143.4 256.2L146.7 254L143.4 254.4L140.1 256.5z" fill="#09473b" stroke="#09473b" stroke-width=".7"/>
<path d="M156.7 250.6L160.1 248L156.7 248.6L153.4 251.1z" fill="#0a581f" stroke="#0a581f" stroke-width=".7"/>
<path d="M176.9 240.1L180.3 236.8L176.9 237.7L173.5 240.8z" fill="#4c6b10" stroke="#4c6b10" stroke-width=".7"/>
<path d="M74.4 265.1L77.7 265.3L74.4 264.9L71.1 264.6z" fill="#000" stroke="#000" stroke-width=".7"/>
<path d="M94.1 266.3L97.4 265.8L94.1 265.6L90.8 266z" fill="#000" stroke="#000" stroke-width=".7"/>
<path d="M126.9 262.1L130.2 260.5L126.9 260.6L123.6 262.2z" fill="#021017" stroke="#021017" stroke-width=".7"/>
<path d="M133.5 260.3L136.8 258.5L133.5 258.7L130.2 260.5z" fill="#062a2f" stroke="#062a2f" stroke-width=".7"/>
<path d="M166.8 246.8L170.1 243.9L166.8 244.6L163.4 247.4z" fill="#1c610c" stroke="#1c610c" stroke-width=".7"/>
<path d="M187.1 235.1L190.6 231.5L187.1 232.5L183.7 235.9z" fill="#706311" stroke="#706311" stroke-width=".7"/>
<path d="M67.8 264.1L71.1 264.6L67.8 264L64.5 263.5z" fill="#000" stroke="#000" stroke-width=".7"/>
<path d="M81 265.8L84.3 265.8L81 265.4L77.7 265.3z" fill="#000" stroke="#000" stroke-width=".7"/>
<path d="M87.5 266.2L90.8 266L87.6 265.7L84.3 265.8z" fill="#000" stroke="#000" stroke-width=".7"/>
<path d="M100.7 266.1L104 265.4L100.7 265.2L97.4 265.8z" fill="#000" stroke="#000" stroke-width=".7"/>
<path d="M107.2 265.5L110.5 264.6L107.2 264.5L104 265.4z" fill="#000" stroke="#000" stroke-width=".7"/>
<path d="M113.8 264.7L117.1 263.5L113.8 263.5L110.5 264.6z" fill="#000" stroke="#000" stroke-width=".7"/>
<path d="M120.4 263.5L123.6 262.2L120.3 262.2L117.1 263.5z" fill="#000" stroke="#000" stroke-width=".7"/>
<path d="M140.1 258.2L143.4 256.2L140.1 256.5L136.8 258.5z" fill="#08403a" stroke="#08403a" stroke-width=".7"/>
<path d="M146.8 255.8L150.1 253.6L146.7 254L143.4 256.2z" fill="#0a4b35" stroke="#0a4b35" stroke-width=".7"/>
<path d="M153.4 253.1L156.7 250.6L153.4 251.1L150.1 253.6z" fill="#0a5428" stroke="#0a5428" stroke-width=".7"/>
<path d="M160.1 250.1L163.4 247.4L160.1 248L156.7 250.6z" fill="#0b5a13" stroke="#0b5a13" stroke-width=".7"/>
<path d="M173.5 243.2L176.9 240.1L173.5 240.8L170.1 243.9z" fill="#3a670e" stroke="#3a670e" stroke-width=".7"/>
<path d="M180.3 239.3L183.7 235.9L180.3 236.8L176.9 240.1z" fill="#5d6e11" stroke="#5d6e11" stroke-width=".7"/>
<path d="M194 230.6L197.5 226.8L194 227.9L190.6 231.5z" fill="#70450e" stroke="#70450e" stroke-width=".7"/>
<path d="M71 264.7L74.4 265.1L71.1 264.6L67.8 264.1z" fill="#000" stroke="#000" stroke-width=".7"/>
<path d="M84.2 266.2L87.5 266.2L84.3 265.8L81 265.8z" fill="#000" stroke="#000" stroke-width=".7"/>
<path d="M90.8 266.6L94.1 266.3L90.8 266L87.5 266.2z" fill="#000" stroke="#000" stroke-width=".7"/>
<path d="M103.9 266.3L107.2 265.5L104 265.4L100.7 266.1z" fill="#000" stroke="#000" stroke-width=".7"/>
<path d="M117.1 264.7L120.4 263.5L117.1 263.5L113.8 264.7z" fill="#000" stroke="#000" stroke-width=".7"/>
<path d="M123.7 263.5L126.9 262.1L123.6 262.2L120.4 263.5z" fill="#000" stroke="#000" stroke-width=".7"/>
<path d="M130.2 262L133.5 260.3L130.2 260.5L126.9 262.1z" fill="#041b21" stroke="#041b21" stroke-width=".7"/>
<path d="M136.8 260.1L140.1 258.2L136.8 258.5L133.5 260.3z" fill="#073635" stroke="#073635" stroke-width=".7"/>
<path d="M143.4 257.9L146.8 255.8L143.4 256.2L140.1 258.2z" fill="#094436" stroke="#094436" stroke-width=".7"/>
<path d="M156.7 252.7L160.1 250.1L156.7 250.6L153.4 253.1z" fill="#0a561d" stroke="#0a561d" stroke-width=".7"/>
<path d="M170.2 246.2L173.5 243.2L170.1 243.9L166.8 246.8z" fill="#2a640d" stroke="#2a640d" stroke-width=".7"/>
<path d="M176.9 242.5L180.3 239.3L176.9 240.1L173.5 243.2z" fill="#496a10" stroke="#496a10" stroke-width=".7"/>
<path d="M190.6 234.2L194 230.6L190.6 231.5L187.1 235.1z" fill="#705710" stroke="#705710" stroke-width=".7"/>
<path d="M77.6 265.6L81 265.8L77.7 265.3L74.4 265.1z" fill="#000" stroke="#000" stroke-width=".7"/>
<path d="M97.4 266.6L100.7 266.1L97.4 265.8L94.1 266.3z" fill="#000" stroke="#000" stroke-width=".7"/>
<path d="M110.5 265.7L113.8 264.7L110.5 264.6L107.2 265.5z" fill="#000" stroke="#000" stroke-width=".7"/>
<path d="M150.1 255.4L153.4 253.1L150.1 253.6L146.8 255.8z" fill="#0a4f2e" stroke="#0a4f2e" stroke-width=".7"/>
<path d="M163.4 249.6L166.8 246.8L163.4 247.4L160.1 250.1z" fill="#0e5d0b" stroke="#0e5d0b" stroke-width=".7"/>
<path d="M183.7 238.5L187.1 235.1L183.7 235.9L180.3 239.3z" fill="#6e7012" stroke="#6e7012" stroke-width=".7"/>
<path d="M87.5 266.7L90.8 266.6L87.5 266.2L84.2 266.2z" fill="#000" stroke="#000" stroke-width=".7"/>
<path d="M120.4 264.8L123.7 263.5L120.4 263.5L117.1 264.7z" fill="#000" stroke="#000" stroke-width=".7"/>
<path d="M140.1 259.9L143.4 257.9L140.1 258.2L136.8 260.1z" fill="#083c34" stroke="#083c34" stroke-width=".7"/>
<path d="M173.5 245.5L176.9 242.5L173.5 243.2L170.2 246.2z" fill="#38670e" stroke="#38670e" stroke-width=".7"/>
<path d="M74.3 265.2L77.6 265.6L74.4 265.1L71 264.7z" fill="#000" stroke="#000" stroke-width=".7"/>
<path d="M80.9 266.1L84.2 266.2L81 265.8L77.6 265.6z" fill="#000" stroke="#000" stroke-width=".7"/>
<path d="M94.1 266.9L97.4 266.6L94.1 266.3L90.8 266.6z" fill="#000" stroke="#000" stroke-width=".7"/>
<path d="M100.7 266.9L103.9 266.3L100.7 266.1L97.4 266.6z" fill="#000" stroke="#000" stroke-width=".7"/>
<path d="M107.2 266.5L110.5 265.7L107.2 265.5L103.9 266.3z" fill="#000" stroke="#000" stroke-width=".7"/>
<path d="M113.8 265.8L117.1 264.7L113.8 264.7L110.5 265.7z" fill="#000" stroke="#000" stroke-width=".7"/>
<path d="M126.9 263.5L130.2 262L126.9 262.1L123.7 263.5z" fill="#010a0d" stroke="#010a0d" stroke-width=".7"/>
<path d="M133.5 261.8L136.8 260.1L133.5 260.3L130.2 262z" fill="#05282a" stroke="#05282a" stroke-width=".7"/>
<path d="M146.8 257.6L150.1 255.4L146.8 255.8L143.4 257.9z" fill="#094931" stroke="#094931" stroke-width=".7"/>
<path d="M153.4 255.1L156.7 252.7L153.4 253.1L150.1 255.4z" fill="#0a5225" stroke="#0a5225" stroke-width=".7"/>
<path d="M160.1 252.2L163.4 249.6L160.1 250.1L156.7 252.7z" fill="#0a5912" stroke="#0a5912" stroke-width=".7"/>
<path d="M166.8 249L170.2 246.2L166.8 246.8L163.4 249.6z" fill="#1b600c" stroke="#1b600c" stroke-width=".7"/>
<path d="M180.3 241.7L183.7 238.5L180.3 239.3L176.9 242.5z" fill="#5a6d11" stroke="#5a6d11" stroke-width=".7"/>
<path d="M187.1 237.6L190.6 234.2L187.1 235.1L183.7 238.5z" fill="#716711" stroke="#716711" stroke-width=".7"/>
<path d="M77.6 265.8L80.9 266.1L77.6 265.6L74.3 265.2z" fill="#000" stroke="#000" stroke-width=".7"/>
<path d="M84.2 266.6L87.5 266.7L84.2 266.2L80.9 266.1z" fill="#000" stroke="#000" stroke-width=".7"/>
<path d="M90.8 267.1L94.1 266.9L90.8 266.6L87.5 266.7z" fill="#000" stroke="#000" stroke-width=".7"/>
<path d="M97.4 267.3L100.7 266.9L97.4 266.6L94.1 266.9z" fill="#000" stroke="#000" stroke-width=".7"/>
<path d="M103.9 267.1L107.2 266.5L103.9 266.3L100.7 266.9z" fill="#000" stroke="#000" stroke-width=".7"/>
<path d="M110.5 266.7L113.8 265.8L110.5 265.7L107.2 266.5z" fill="#000" stroke="#000" stroke-width=".7"/>
<path d="M117.1 265.9L120.4 264.8L117.1 264.7L113.8 265.8z" fill="#000" stroke="#000" stroke-width=".7"/>
<path d="M123.7 264.8L126.9 263.5L123.7 263.5L120.4 264.8z" fill="#000" stroke="#000" stroke-width=".7"/>
<path d="M130.3 263.4L133.5 261.8L130.2 262L126.9 263.5z" fill="#03171a" stroke="#03171a" stroke-width=".7"/>
<path d="M136.9 261.7L140.1 259.9L136.8 260.1L133.5 261.8z" fill="#07322e" stroke="#07322e" stroke-width=".7"/>
<path d="M143.5 259.6L146.8 257.6L143.4 257.9L140.1 259.9z" fill="#084131" stroke="#084131" stroke-width=".7"/>
<path d="M150.1 257.3L153.4 255.1L150.1 255.4L146.8 257.6z" fill="#094c2a" stroke="#094c2a" stroke-width=".7"/>
<path d="M156.8 254.7L160.1 252.2L156.7 252.7L153.4 255.1z" fill="#0a551b" stroke="#0a551b" stroke-width=".7"/>
<path d="M163.5 251.7L166.8 249L163.4 249.6L160.1 252.2z" fill="#0f5c0b" stroke="#0f5c0b" stroke-width=".7"/>
<path d="M170.2 248.4L173.5 245.5L170.2 246.2L166.8 249z" fill="#29630d" stroke="#29630d" stroke-width=".7"/>
<path d="M176.9 244.8L180.3 241.7L176.9 242.5L173.5 245.5z" fill="#476a0f" stroke="#476a0f" stroke-width=".7"/>
<path d="M183.7 241L187.1 237.6L183.7 238.5L180.3 241.7z" fill="#6a7012" stroke="#6a7012" stroke-width=".7"/>
<path d="M80.9 266.4L84.2 266.6L80.9 266.1L77.6 265.8z" fill="#000" stroke="#000" stroke-width=".7"/>
<path d="M87.5 267.1L90.8 267.1L87.5 266.7L84.2 266.6z" fill="#000" stroke="#000" stroke-width=".7"/>
<path d="M94.1 267.5L97.4 267.3L94.1 266.9L90.8 267.1z" fill="#000" stroke="#000" stroke-width=".7"/>
<path d="M107.2 267.4L110.5 266.7L107.2 266.5L103.9 267.1z" fill="#000" stroke="#000" stroke-width=".7"/>
<path d="M113.8 266.8L117.1 265.9L113.8 265.8L110.5 266.7z" fill="#000" stroke="#000" stroke-width=".7"/>
<path d="M120.4 266L123.7 264.8L120.4 264.8L117.1 265.9z" fill="#000" stroke="#000" stroke-width=".7"/>
<path d="M127 264.8L130.3 263.4L126.9 263.5L123.7 264.8z" fill="#000" stroke="#000" stroke-width=".7"/>
<path d="M133.6 263.3L136.9 261.7L133.5 261.8L130.3 263.4z" fill="#052423" stroke="#052423" stroke-width=".7"/>
<path d="M140.2 261.5L143.5 259.6L140.1 259.9L136.9 261.7z" fill="#07382d" stroke="#07382d" stroke-width=".7"/>
<path d="M146.8 259.4L150.1 257.3L146.8 257.6L143.5 259.6z" fill="#09462c" stroke="#09462c" stroke-width=".7"/>
<path d="M153.4 257L156.8 254.7L153.4 255.1L150.1 257.3z" fill="#0a5022" stroke="#0a5022" stroke-width=".7"/>
<path d="M166.8 251.2L170.2 248.4L166.8 249L163.5 251.7z" fill="#1b5f0c" stroke="#1b5f0c" stroke-width=".7"/>
<path d="M173.6 247.8L176.9 244.8L173.5 245.5L170.2 248.4z" fill="#37660e" stroke="#37660e" stroke-width=".7"/>
<path d="M180.3 244.1L183.7 241L180.3 241.7L176.9 244.8z" fill="#576d11" stroke="#576d11" stroke-width=".7"/>
<path d="M100.6 267.6L103.9 267.1L100.7 266.9L97.4 267.3z" fill="#000" stroke="#000" stroke-width=".7"/>
<path d="M160.1 254.2L163.5 251.7L160.1 252.2L156.8 254.7z" fill="#0a5810" stroke="#0a5810" stroke-width=".7"/>
<path d="M90.8 267.5L94.1 267.5L90.8 267.1L87.5 267.1z" fill="#000" stroke="#000" stroke-width=".7"/>
<path d="M110.5 267.6L113.8 266.8L110.5 266.7L107.2 267.4z" fill="#000" stroke="#000" stroke-width=".7"/>
<path d="M117.1 267L120.4 266L117.1 265.9L113.8 266.8z" fill="#000" stroke="#000" stroke-width=".7"/>
<path d="M130.3 264.8L133.6 263.3L130.3 263.4L127 264.8z" fill="#020f0f" stroke="#020f0f" stroke-width=".7"/>
<path d="M143.5 261.3L146.8 259.4L143.5 259.6L140.2 261.5z" fill="#083e2b" stroke="#083e2b" stroke-width=".7"/>
<path d="M150.1 259.1L153.4 257L150.1 257.3L146.8 259.4z" fill="#094a26" stroke="#094a26" stroke-width=".7"/>
<path d="M170.2 250.6L173.6 247.8L170.2 248.4L166.8 251.2z" fill="#28630d" stroke="#28630d" stroke-width=".7"/>
<path d="M84.2 266.9L87.5 267.1L84.2 266.6L80.9 266.4z" fill="#000" stroke="#000" stroke-width=".7"/>
<path d="M97.3 267.9L100.6 267.6L97.4 267.3L94.1 267.5z" fill="#000" stroke="#000" stroke-width=".7"/>
<path d="M103.9 267.9L107.2 267.4L103.9 267.1L100.6 267.6z" fill="#000" stroke="#000" stroke-width=".7"/>
<path d="M123.7 266L127 264.8L123.7 264.8L120.4 266z" fill="#000" stroke="#000" stroke-width=".7"/>
<path d="M136.9 263.2L140.2 261.5L136.9 261.7L133.6 263.3z" fill="#062c26" stroke="#062c26" stroke-width=".7"/>
<path d="M156.8 256.6L160.1 254.2L156.8 254.7L153.4 257z" fill="#0a5319" stroke="#0a5319" stroke-width=".7"/>
<path d="M163.5 253.8L166.8 251.2L163.5 251.7L160.1 254.2z" fill="#0f5b0b" stroke="#0f5b0b" stroke-width=".7"/>
<path d="M176.9 247.2L180.3 244.1L176.9 244.8L173.6 247.8z" fill="#46690f" stroke="#46690f" stroke-width=".7"/>
<path d="M87.4 267.4L90.8 267.5L87.5 267.1L84.2 266.9z" fill="#000" stroke="#000" stroke-width=".7"/>
<path d="M100.6 268.3L103.9 267.9L100.6 267.6L97.3 267.9z" fill="#000" stroke="#000" stroke-width=".7"/>
<path d="M107.2 268.2L110.5 267.6L107.2 267.4L103.9 267.9z" fill="#000" stroke="#000" stroke-width=".7"/>
<path d="M113.8 267.8L117.1 267L113.8 266.8L110.5 267.6z" fill="#000" stroke="#000" stroke-width=".7"/>
<path d="M120.4 267.1L123.7 266L120.4 266L117.1 267z" fill="#000" stroke="#000" stroke-width=".7"/>
<path d="M127 266.1L130.3 264.8L127 264.8L123.7 266z" fill="#000" stroke="#000" stroke-width=".7"/>
<path d="M133.6 264.7L136.9 263.2L133.6 263.3L130.3 264.8z" fill="#041c19" stroke="#041c19" stroke-width=".7"/>
<path d="M140.2 263.1L143.5 261.3L140.2 261.5L136.9 263.2z" fill="#073326" stroke="#073326" stroke-width=".7"/>
<path d="M146.8 261.1L150.1 259.1L146.8 259.4L143.5 261.3z" fill="#084327" stroke="#084327" stroke-width=".7"/>
<path d="M153.5 258.8L156.8 256.6L153.4 257L150.1 259.1z" fill="#094e1e" stroke="#094e1e" stroke-width=".7"/>
<path d="M160.1 256.2L163.5 253.8L160.1 254.2L156.8 256.6z" fill="#0a560e" stroke="#0a560e" stroke-width=".7"/>
<path d="M173.6 250.1L176.9 247.2L173.6 247.8L170.2 250.6z" fill="#36660e" stroke="#36660e" stroke-width=".7"/>
<path d="M94 268L97.3 267.9L94.1 267.5L90.8 267.5z" fill="#000" stroke="#000" stroke-width=".7"/>
<path d="M166.8 253.3L170.2 250.6L166.8 251.2L163.5 253.8z" fill="#1b5e0c" stroke="#1b5e0c" stroke-width=".7"/>
<path d="M103.9 268.6L107.2 268.2L103.9 267.9L100.6 268.3z" fill="#000" stroke="#000" stroke-width=".7"/>
<path d="M110.5 268.5L113.8 267.8L110.5 267.6L107.2 268.2z" fill="#000" stroke="#000" stroke-width=".7"/>
<path d="M123.7 267.2L127 266.1L123.7 266L120.4 267.1z" fill="#000" stroke="#000" stroke-width=".7"/>
<path d="M136.9 264.7L140.2 263.1L136.9 263.2L133.6 264.7z" fill="#05261e" stroke="#05261e" stroke-width=".7"/>
<path d="M150.2 260.9L153.5 258.8L150.1 259.1L146.8 261.1z" fill="#094721" stroke="#094721" stroke-width=".7"/>
<path d="M156.8 258.5L160.1 256.2L156.8 256.6L153.5 258.8z" fill="#0a5216" stroke="#0a5216" stroke-width=".7"/>
<path d="M90.7 267.9L94 268L90.8 267.5L87.4 267.4z" fill="#000" stroke="#000" stroke-width=".7"/>
<path d="M97.3 268.4L100.6 268.3L97.3 267.9L94 268z" fill="#000" stroke="#000" stroke-width=".7"/>
<path d="M117.1 268L120.4 267.1L117.1 267L113.8 267.8z" fill="#000" stroke="#000" stroke-width=".7"/>
<path d="M130.3 266.1L133.6 264.7L130.3 264.8L127 266.1z" fill="#000" stroke="#000" stroke-width=".7"/>
<path d="M143.5 263L146.8 261.1L143.5 261.3L140.2 263.1z" fill="#073a25" stroke="#073a25" stroke-width=".7"/>
<path d="M163.5 255.8L166.8 253.3L163.5 253.8L160.1 256.2z" fill="#115a0b" stroke="#115a0b" stroke-width=".7"/>
<path d="M170.2 252.8L173.6 250.1L170.2 250.6L166.8 253.3z" fill="#28620d" stroke="#28620d" stroke-width=".7"/>
<path d="M94 268.4L97.3 268.4L94 268L90.7 267.9z" fill="#000" stroke="#000" stroke-width=".7"/>
<path d="M100.6 268.9L103.9 268.6L100.6 268.3L97.3 268.4z" fill="#000" stroke="#000" stroke-width=".7"/>
<path d="M107.2 269L110.5 268.5L107.2 268.2L103.9 268.6z" fill="#000" stroke="#000" stroke-width=".7"/>
<path d="M113.8 268.7L117.1 268L113.8 267.8L110.5 268.5z" fill="#000" stroke="#000" stroke-width=".7"/>
<path d="M120.4 268.2L123.7 267.2L120.4 267.1L117.1 268z" fill="#000" stroke="#000" stroke-width=".7"/>
<path d="M127 267.3L130.3 266.1L127 266.1L123.7 267.2z" fill="#000" stroke="#000" stroke-width=".7"/>
<path d="M133.6 266.1L136.9 264.7L133.6 264.7L130.3 266.1z" fill="#02110e" stroke="#02110e" stroke-width=".7"/>
<path d="M140.2 264.6L143.5 263L140.2 263.1L136.9 264.7z" fill="#062e1f" stroke="#062e1f" stroke-width=".7"/>
<path d="M146.9 262.8L150.2 260.9L146.8 261.1L143.5 263z" fill="#083f21" stroke="#083f21" stroke-width=".7"/>
<path d="M153.5 260.7L156.8 258.5L153.5 258.8L150.2 260.9z" fill="#094c1a" stroke="#094c1a" stroke-width=".7"/>
<path d="M160.2 258.2L163.5 255.8L160.1 256.2L156.8 258.5z" fill="#0a550c" stroke="#0a550c" stroke-width=".7"/>
<path d="M166.9 255.4L170.2 252.8L166.8 253.3L163.5 255.8z" fill="#1c5d0c" stroke="#1c5d0c" stroke-width=".7"/>
<path d="M97.3 268.9L100.6 268.9L97.3 268.4L94 268.4z" fill="#000" stroke="#000" stroke-width=".7"/>
<path d="M103.9 269.3L107.2 269L103.9 268.6L100.6 268.9z" fill="#000" stroke="#000" stroke-width=".7"/>
<path d="M110.5 269.3L113.8 268.7L110.5 268.5L107.2 269z" fill="#000" stroke="#000" stroke-width=".7"/>
<path d="M117.1 269L120.4 268.2L117.1 268L113.8 268.7z" fill="#000" stroke="#000" stroke-width=".7"/>
<path d="M130.3 267.4L133.6 266.1L130.3 266.1L127 267.3z" fill="#000" stroke="#000" stroke-width=".7"/>
<path d="M143.6 264.5L146.9 262.8L143.5 263L140.2 264.6z" fill="#07351f" stroke="#07351f" stroke-width=".7"/>
<path d="M150.2 262.6L153.5 260.7L150.2 260.9L146.9 262.8z" fill="#08441c" stroke="#08441c" stroke-width=".7"/>
<path d="M156.9 260.4L160.2 258.2L156.8 258.5L153.5 260.7z" fill="#094f12" stroke="#094f12" stroke-width=".7"/>
<path d="M163.5 257.8L166.9 255.4L163.5 255.8L160.2 258.2z" fill="#12590b" stroke="#12590b" stroke-width=".7"/>
<path d="M123.7 268.4L127 267.3L123.7 267.2L120.4 268.2z" fill="#000" stroke="#000" stroke-width=".7"/>
<path d="M136.9 266.1L140.2 264.6L136.9 264.7L133.6 266.1z" fill="#041d15" stroke="#041d15" stroke-width=".7"/>
<path d="M113.8 269.6L117.1 269L113.8 268.7L110.5 269.3z" fill="#000" stroke="#000" stroke-width=".7"/>
<path d="M146.9 264.4L150.2 262.6L146.9 262.8L143.6 264.5z" fill="#073b1c" stroke="#073b1c" stroke-width=".7"/>
<path d="M100.6 269.4L103.9 269.3L100.6 268.9L97.3 268.9z" fill="#000" stroke="#000" stroke-width=".7"/>
<path d="M107.2 269.7L110.5 269.3L107.2 269L103.9 269.3z" fill="#000" stroke="#000" stroke-width=".7"/>
<path d="M127 268.5L130.3 267.4L127 267.3L123.7 268.4z" fill="#000" stroke="#000" stroke-width=".7"/>
<path d="M133.6 267.5L136.9 266.1L133.6 266.1L130.3 267.4z" fill="#000" stroke="#000" stroke-width=".7"/>
<path d="M153.5 262.4L156.9 260.4L153.5 260.7L150.2 262.6z" fill="#094916" stroke="#094916" stroke-width=".7"/>
<path d="M160.2 260.1L163.5 257.8L160.2 258.2L156.9 260.4z" fill="#0a530a" stroke="#0a530a" stroke-width=".7"/>
<path d="M120.4 269.2L123.7 268.4L120.4 268.2L117.1 269z" fill="#000" stroke="#000" stroke-width=".7"/>
<path d="M140.3 266.1L143.6 264.5L140.2 264.6L136.9 266.1z" fill="#052718" stroke="#052718" stroke-width=".7"/>
<path d="M110.5 270L113.8 269.6L110.5 269.3L107.2 269.7z" fill="#000" stroke="#000" stroke-width=".7"/>
<path d="M150.2 264.3L153.5 262.4L150.2 262.6L146.9 264.4z" fill="#084118" stroke="#084118" stroke-width=".7"/>
<path d="M103.9 269.9L107.2 269.7L103.9 269.3L100.6 269.4z" fill="#000" stroke="#000" stroke-width=".7"/>
<path d="M117.1 269.9L120.4 269.2L117.1 269L113.8 269.6z" fill="#000" stroke="#000" stroke-width=".7"/>
<path d="M123.7 269.4L127 268.5L123.7 268.4L120.4 269.2z" fill="#000" stroke="#000" stroke-width=".7"/>
<path d="M130.3 268.6L133.6 267.5L130.3 267.4L127 268.5z" fill="#000" stroke="#000" stroke-width=".7"/>
<path d="M137 267.5L140.3 266.1L136.9 266.1L133.6 267.5z" fill="#02130c" stroke="#02130c" stroke-width=".7"/>
<path d="M143.6 266.1L146.9 264.4L143.6 264.5L140.3 266.1z" fill="#062f18" stroke="#062f18" stroke-width=".7"/>
<path d="M156.9 262.2L160.2 260.1L156.9 260.4L153.5 262.4z" fill="#094d0f" stroke="#094d0f" stroke-width=".7"/>
<path d="M107.2 270.3L110.5 270L107.2 269.7L103.9 269.9z" fill="#000" stroke="#000" stroke-width=".7"/>
<path d="M120.5 270.2L123.7 269.4L120.4 269.2L117.1 269.9z" fill="#000" stroke="#000" stroke-width=".7"/>
<path d="M127.1 269.6L130.3 268.6L127 268.5L123.7 269.4z" fill="#000" stroke="#000" stroke-width=".7"/>
<path d="M133.7 268.8L137 267.5L133.6 267.5L130.3 268.6z" fill="#000" stroke="#000" stroke-width=".7"/>
<path d="M140.3 267.6L143.6 266.1L140.3 266.1L137 267.5z" fill="#041f11" stroke="#041f11" stroke-width=".7"/>
<path d="M153.6 264.2L156.9 262.2L153.5 262.4L150.2 264.3z" fill="#084612" stroke="#084612" stroke-width=".7"/>
<path d="M113.8 270.4L117.1 269.9L113.8 269.6L110.5 270z" fill="#000" stroke="#000" stroke-width=".7"/>
<path d="M146.9 266L150.2 264.3L146.9 264.4L143.6 266.1z" fill="#073616" stroke="#073616" stroke-width=".7"/>
<path d="M117.2 270.8L120.5 270.2L117.1 269.9L113.8 270.4z" fill="#000" stroke="#000" stroke-width=".7"/>
<path d="M123.8 270.5L127.1 269.6L123.7 269.4L120.5 270.2z" fill="#000" stroke="#000" stroke-width=".7"/>
<path d="M130.4 269.8L133.7 268.8L130.3 268.6L127.1 269.6z" fill="#000" stroke="#000" stroke-width=".7"/>
<path d="M137 268.9L140.3 267.6L137 267.5L133.7 268.8z" fill="#000101" stroke="#000101" stroke-width=".7"/>
<path d="M143.6 267.6L146.9 266L143.6 266.1L140.3 267.6z" fill="#052912" stroke="#052912" stroke-width=".7"/>
<path d="M110.5 270.7L113.8 270.4L110.5 270L107.2 270.3z" fill="#000" stroke="#000" stroke-width=".7"/>
<path d="M150.3 266L153.6 264.2L150.2 264.3L146.9 266z" fill="#073c13" stroke="#073c13" stroke-width=".7"/>
<path d="M113.9 271.2L117.2 270.8L113.8 270.4L110.5 270.7z" fill="#000" stroke="#000" stroke-width=".7"/>
<path d="M120.5 271.1L123.8 270.5L120.5 270.2L117.2 270.8z" fill="#000" stroke="#000" stroke-width=".7"/>
<path d="M127.1 270.7L130.4 269.8L127.1 269.6L123.8 270.5z" fill="#000" stroke="#000" stroke-width=".7"/>
<path d="M133.7 270L137 268.9L133.7 268.8L130.4 269.8z" fill="#000" stroke="#000" stroke-width=".7"/>
<path d="M140.3 269L143.6 267.6L140.3 267.6L137 268.9z" fill="#031509" stroke="#031509" stroke-width=".7"/>
<path d="M147 267.6L150.3 266L146.9 266L143.6 267.6z" fill="#063111" stroke="#063111" stroke-width=".7"/>
<path d="M117.2 271.6L120.5 271.1L117.2 270.8L113.9 271.2z" fill="#000" stroke="#000" stroke-width=".7"/>
<path d="M123.8 271.4L127.1 270.7L123.8 270.5L120.5 271.1z" fill="#000" stroke="#000" stroke-width=".7"/>
<path d="M130.4 271L133.7 270L130.4 269.8L127.1 270.7z" fill="#000" stroke="#000" stroke-width=".7"/>
<path d="M137 270.2L140.3 269L137 268.9L133.7 270z" fill="#000" stroke="#000" stroke-width=".7"/>
<path d="M143.7 269L147 267.6L143.6 267.6L140.3 269z" fill="#04200c" stroke="#04200c" stroke-width=".7"/>
<path d="M120.5 272L123.8 271.4L120.5 271.1L117.2 271.6z" fill="#000" stroke="#000" stroke-width=".7"/>
<path d="M127.1 271.7L130.4 271L127.1 270.7L123.8 271.4z" fill="#000" stroke="#000" stroke-width=".7"/>
<path d="M133.7 271.2L137 270.2L133.7 270L130.4 271z" fill="#000" stroke="#000" stroke-width=".7"/>
<path d="M140.4 270.3L143.7 269L140.3 269L137 270.2z" fill="#000402" stroke="#000402" stroke-width=".7"/>
<path d="M123.8 272.3L127.1 271.7L123.8 271.4L120.5 272z" fill="#000" stroke="#000" stroke-width=".7"/>
<path d="M130.4 272L133.7 271.2L130.4 271L127.1 271.7z" fill="#000" stroke="#000" stroke-width=".7"/>
<path d="M137.1 271.4L140.4 270.3L137 270.2L133.7 271.2z" fill="#000" stroke="#000" stroke-width=".7"/>
<path d="M127.1 272.7L130.4 272L127.1 271.7L123.8 272.3z" fill="#000" stroke="#000" stroke-width=".7"/>
<path d="M133.8 272.3L137.1 271.4L133.7 271.2L130.4 272z" fill="#000" stroke="#000" stroke-width=".7"/>
<path d="M130.5 273L133.8 272.3L130.4 272L127.1 272.7z" fill="#000" stroke="#000" stroke-width=".7"/>
<path d="M54.9 201.5h1.6" stroke="#333" stroke-width=".6"/>
<text x="52.2" y="200.6" font-size="4.8" font-weight="bold" text-anchor="end" fill="#222" stroke="#222" stroke-width="0.25" >2</text>
<path d="M55.6 215.9h1.6" stroke="#333" stroke-width=".6"/>
<text x="52.9" y="215" font-size="4.8" font-weight="bold" text-anchor="end" fill="#222" stroke="#222" stroke-width="0.25" >1.8</text>
<path d="M56.2 230.3h1.6" stroke="#333" stroke-width=".6"/>
<text x="53.5" y="229.4" font-size="4.8" font-weight="bold" text-anchor="end" fill="#222" stroke="#222" stroke-width="0.25" >1.6</text>
<path d="M56.9 244.7h1.6" stroke="#333" stroke-width=".6"/>
<text x="54.2" y="243.8" font-size="4.8" font-weight="bold" text-anchor="end" fill="#222" stroke="#222" stroke-width="0.25" >1.4</text>
<path d="M57.5 259.1h1.6" stroke="#333" stroke-width=".6"/>
<text x="54.8" y="258.2" font-size="4.8" font-weight="bold" text-anchor="end" fill="#222" stroke="#222" stroke-width="0.25" >1.2</text>
<path d="M58.2 273.5h1.6" stroke="#333" stroke-width=".6"/>
<text x="55.5" y="272.6" font-size="4.8" font-weight="bold" text-anchor="end" fill="#222" stroke="#222" stroke-width="0.25" >1</text>
<path d="M59.5 296l-1 1.2" stroke="#333" stroke-width=".6"/>
<text x="57.3" y="300.3" font-size="4.8" font-weight="bold" text-anchor="end" fill="#222" stroke="#222" stroke-width="0.25" >220</text>
<path d="M66.6 299.3l-1 1.2" stroke="#333" stroke-width=".6"/>
<text x="64.4" y="303.6" font-size="4.8" font-weight="bold" text-anchor="end" fill="#222" stroke="#222" stroke-width="0.25" >212</text>
<path d="M73.7 302.6l-1 1.2" stroke="#333" stroke-width=".6"/>
<text x="71.5" y="306.9" font-size="4.8" font-weight="bold" text-anchor="end" fill="#222" stroke="#222" stroke-width="0.25" >204</text>
<path d="M80.7 305.9l-1 1.2" stroke="#333" stroke-width=".6"/>
<text x="78.5" y="310.2" font-size="4.8" font-weight="bold" text-anchor="end" fill="#222" stroke="#222" stroke-width="0.25" >196</text>
<path d="M87.8 309.2l-1 1.2" stroke="#333" stroke-width=".6"/>
<text x="85.6" y="313.5" font-size="4.8" font-weight="bold" text-anchor="end" fill="#222" stroke="#222" stroke-width="0.25" >188</text>
<path d="M94.9 312.5l-1 1.2" stroke="#333" stroke-width=".6"/>
<text x="92.7" y="316.8" font-size="4.8" font-weight="bold" text-anchor="end" fill="#222" stroke="#222" stroke-width="0.25" >180</text>
<path d="M102 315.8l-1 1.2" stroke="#333" stroke-width=".6"/>
<text x="99.8" y="320.1" font-size="4.8" font-weight="bold" text-anchor="end" fill="#222" stroke="#222" stroke-width="0.25" >172</text>
<path d="M109.1 319.1l-1 1.2" stroke="#333" stroke-width=".6"/>
<text x="106.9" y="323.4" font-size="4.8" font-weight="bold" text-anchor="end" fill="#222" stroke="#222" stroke-width="0.25" >164</text>
<path d="M116.1 322.4l-1 1.2" stroke="#333" stroke-width=".6"/>
<text x="113.9" y="326.7" font-size="4.8" font-weight="bold" text-anchor="end" fill="#222" stroke="#222" stroke-width="0.25" >156</text>
<path d="M123.2 325.7l-1 1.2" stroke="#333" stroke-width=".6"/>
<text x="121" y="330" font-size="4.8" font-weight="bold" text-anchor="end" fill="#222" stroke="#222" stroke-width="0.25" >148</text>
<path d="M130.3 329l-1 1.2" stroke="#333" stroke-width=".6"/>
<text x="128.1" y="333.3" font-size="4.8" font-weight="bold" text-anchor="end" fill="#222" stroke="#222" stroke-width="0.25" >140</text>
<path d="M130.3 329l1 1.2" stroke="#333" stroke-width=".6"/>
<text x="133.1" y="334" font-size="4.8" font-weight="bold" text-anchor="start" fill="#222" stroke="#222" stroke-width="0.25" >6.00</text>
<path d="M144.3 322.4l1 1.2" stroke="#333" stroke-width=".6"/>
<text x="147.1" y="327.4" font-size="4.8" font-weight="bold" text-anchor="start" fill="#222" stroke="#222" stroke-width="0.25" >6.20</text>
<path d="M158.4 315.8l1 1.2" stroke="#333" stroke-width=".6"/>
<text x="161.2" y="320.8" font-size="4.8" font-weight="bold" text-anchor="start" fill="#222" stroke="#222" stroke-width="0.25" >6.40</text>
<path d="M172.4 309.2l1 1.2" stroke="#333" stroke-width=".6"/>
<text x="175.2" y="314.2" font-size="4.8" font-weight="bold" text-anchor="start" fill="#222" stroke="#222" stroke-width="0.25" >6.60</text>
<path d="M186.5 302.6l1 1.2" stroke="#333" stroke-width=".6"/>
<text x="189.3" y="307.6" font-size="4.8" font-weight="bold" text-anchor="start" fill="#222" stroke="#222" stroke-width="0.25" >6.80</text>
<path d="M200.5 296l1 1.2" stroke="#333" stroke-width=".6"/>
<text x="203.3" y="301" font-size="4.8" font-weight="bold" text-anchor="start" fill="#222" stroke="#222" stroke-width="0.25" >7.00</text>
<path d="M53.5 378.7L127.8 361.7" stroke="#9a9a9a" stroke-width="0.6" fill="none"/>
<path d="M127.8 361.7L202.2 378.8" stroke="#9a9a9a" stroke-width="0.6" fill="none"/>
<path d="M127.8 361.7L128.2 448.7" stroke="#9a9a9a" stroke-width="0.6" fill="none"/>
<path d="M202.2 378.8L198.2 474.8" stroke="#9a9a9a" stroke-width="0.6" fill="none"/>
<path d="M53.5 378.7L58.2 475.7" stroke="#555" stroke-width="0.6" fill="none"/>
<path d="M58.2 475.7L128.9 509L198.2 474.8L128.2 448.7z" fill="#ffff00"/>
<path d="M128.5 448.8L128.8 449.8L129.1 451L129.3 451.8L129.5 452.9L129.8 454L129.9 454.8L130.1 456.1L130.1 456.9L130.2 458.1L130.2 459L130.2 460.2L130.1 461.1L130 462.4L129.9 463.2L129.6 464.4L129.3 465.6L129.1 466.4L128.6 467.6L128 468.8L127.4 470L126.6 471.1L125.8 472.2L124.8 473.3L123.7 474.3L122.5 475.3L120.7 476.6L119.1 477.6L116.6 478.8L113.9 479.9L111.5 480.6L108.6 481.3L106.2 481.8L103.7 482.2L101 482.5L98.1 482.8L95.3 482.9L93.3 483L90.2 483L87.8 483L84.9 482.9L82.7 482.7L79.5 482.5L77.2 482.3L74.9 482.1L71.9 481.8L70.8 481.6" fill="none" stroke="#8cc173" stroke-width=".8"/>
<path d="M155.7 459L156.1 459.9L156.6 461L157.1 462.3L157.5 463.1L157.8 464.1L158.2 465.4L158.6 466.4L158.8 467.3L159.2 468.6L159.4 469.6L159.6 470.6L159.9 471.9L160 472.8L160.2 474.1L160.3 475.1L160.3 476.2L160.3 477.4L160.3 478.5L160.3 479.6L160.1 480.9L160 481.8L159.7 483.2L159.3 484.4L159 485.3L158.5 486.6L157.9 487.9L157.2 489.2L156.3 490.4L155.4 491.6L154.3 492.7L153 493.8L151.1 495.3L148.8 496.7L146.1 497.9L143.2 499.1L141 499.7L137.6 500.5L134.9 501L132.5 501.4L130.3 501.6L127.7 501.8L124.5 502L122.5 502L119.3 502L117.4 501.9L114.1 501.8L113.6 501.8" fill="none" stroke="#8cff04" stroke-width=".8"/>
<path d="M183.5 469.3L184.1 470.3L184.8 471.5L185.4 472.7L186 473.9L186.5 474.8L186.9 475.8L187.5 477L188.1 478.2L188.6 479.4L188.6 479.5" fill="none" stroke="#ffeb00" stroke-width=".8"/>
<path d="M128 417.5L131.3 414.5L128 415L124.8 418z" fill="#072e65" stroke="#072e65" stroke-width=".7"/>
<path d="M124.8 420.3L128 417.5L124.8 418L121.5 420.8z" fill="#04155e" stroke="#04155e" stroke-width=".7"/>
<path d="M131.3 417L134.5 413.9L131.3 414.5L128 417.5z" fill="#0a4368" stroke="#0a4368" stroke-width=".7"/>
<path d="M121.6 423L124.8 420.3L121.5 420.8L118.3 423.5z" fill="#020257" stroke="#020257" stroke-width=".7"/>
<path d="M128 419.8L131.3 417L128 417.5L124.8 420.3z" fill="#072961" stroke="#072961" stroke-width=".7"/>
<path d="M134.6 416.4L137.8 413.3L134.5 413.9L131.3 417z" fill="#0c596c" stroke="#0c596c" stroke-width=".7"/>
<path d="M118.3 425.6L121.6 423L118.3 423.5L115.1 426z" fill="#020252" stroke="#020252" stroke-width=".7"/>
<path d="M124.8 422.6L128 419.8L124.8 420.3L121.6 423z" fill="#04125a" stroke="#04125a" stroke-width=".7"/>
<path d="M131.3 419.4L134.6 416.4L131.3 417L128 419.8z" fill="#093d65" stroke="#093d65" stroke-width=".7"/>
<path d="M137.8 415.9L141.1 412.8L137.8 413.3L134.6 416.4z" fill="#0f6f6f" stroke="#0f6f6f" stroke-width=".7"/>
<path d="M121.6 425.2L124.8 422.6L121.6 423L118.3 425.6z" fill="#020253" stroke="#020253" stroke-width=".7"/>
<path d="M134.6 418.8L137.8 415.9L134.6 416.4L131.3 419.4z" fill="#0b5268" stroke="#0b5268" stroke-width=".7"/>
<path d="M115.1 428L118.3 425.6L115.1 426L111.9 428.3z" fill="#02024b" stroke="#02024b" stroke-width=".7"/>
<path d="M128.1 422.1L131.3 419.4L128 419.8L124.8 422.6z" fill="#06255e" stroke="#06255e" stroke-width=".7"/>
<path d="M141.1 415.3L144.4 412.2L141.1 412.8L137.8 415.9z" fill="#0f7060" stroke="#0f7060" stroke-width=".7"/>
<path d="M111.9 430.2L115.1 428L111.9 428.3L108.7 430.6z" fill="#020243" stroke="#020243" stroke-width=".7"/>
<path d="M118.3 427.6L121.6 425.2L118.3 425.6L115.1 428z" fill="#02024d" stroke="#02024d" stroke-width=".7"/>
<path d="M124.8 424.8L128.1 422.1L124.8 422.6L121.6 425.2z" fill="#041156" stroke="#041156" stroke-width=".7"/>
<path d="M131.3 421.7L134.6 418.8L131.3 419.4L128.1 422.1z" fill="#083861" stroke="#083861" stroke-width=".7"/>
<path d="M137.8 418.3L141.1 415.3L137.8 415.9L134.6 418.8z" fill="#0e676b" stroke="#0e676b" stroke-width=".7"/>
<path d="M144.4 414.8L147.7 411.6L144.4 412.2L141.1 415.3z" fill="#0e7050" stroke="#0e7050" stroke-width=".7"/>
<path d="M108.7 432.3L111.9 430.2L108.7 430.6L105.4 432.6z" fill="#010139" stroke="#010139" stroke-width=".7"/>
<path d="M115.1 429.9L118.3 427.6L115.1 428L111.9 430.2z" fill="#020245" stroke="#020245" stroke-width=".7"/>
<path d="M128.1 424.3L131.3 421.7L128.1 422.1L124.8 424.8z" fill="#062359" stroke="#062359" stroke-width=".7"/>
<path d="M141.1 417.8L144.4 414.8L141.1 415.3L137.8 418.3z" fill="#0e6d62" stroke="#0e6d62" stroke-width=".7"/>
<path d="M147.7 414.2L151 411L147.7 411.6L144.4 414.8z" fill="#0e7140" stroke="#0e7140" stroke-width=".7"/>
<path d="M121.6 427.2L124.8 424.8L121.6 425.2L118.3 427.6z" fill="#02024e" stroke="#02024e" stroke-width=".7"/>
<path d="M134.6 421.2L137.8 418.3L134.6 418.8L131.3 421.7z" fill="#0b4c64" stroke="#0b4c64" stroke-width=".7"/>
<path d="M111.9 432L115.1 429.9L111.9 430.2L108.7 432.3z" fill="#01013b" stroke="#01013b" stroke-width=".7"/>
<path d="M144.4 417.3L147.7 414.2L144.4 414.8L141.1 417.8z" fill="#0e6e53" stroke="#0e6e53" stroke-width=".7"/>
<path d="M105.4 434.2L108.7 432.3L105.4 432.6L102.2 434.5z" fill="#01012c" stroke="#01012c" stroke-width=".7"/>
<path d="M118.4 429.6L121.6 427.2L118.3 427.6L115.1 429.9z" fill="#020247" stroke="#020247" stroke-width=".7"/>
<path d="M124.8 426.8L128.1 424.3L124.8 424.8L121.6 427.2z" fill="#041151" stroke="#041151" stroke-width=".7"/>
<path d="M131.3 423.9L134.6 421.2L131.3 421.7L128.1 424.3z" fill="#08355d" stroke="#08355d" stroke-width=".7"/>
<path d="M137.9 420.7L141.1 417.8L137.8 418.3L134.6 421.2z" fill="#0d6068" stroke="#0d6068" stroke-width=".7"/>
<path d="M151 413.6L154.3 410.3L151 411L147.7 414.2z" fill="#0e7130" stroke="#0e7130" stroke-width=".7"/>
<path d="M102.2 436L105.4 434.2L102.2 434.5L99 436.2z" fill="#010119" stroke="#010119" stroke-width=".7"/>
<path d="M108.7 434L111.9 432L108.7 432.3L105.4 434.2z" fill="#01012f" stroke="#01012f" stroke-width=".7"/>
<path d="M115.1 431.7L118.4 429.6L115.1 429.9L111.9 432z" fill="#01013e" stroke="#01013e" stroke-width=".7"/>
<path d="M121.6 429.2L124.8 426.8L121.6 427.2L118.4 429.6z" fill="#020349" stroke="#020349" stroke-width=".7"/>
<path d="M128.1 426.4L131.3 423.9L128.1 424.3L124.8 426.8z" fill="#052155" stroke="#052155" stroke-width=".7"/>
<path d="M134.6 423.4L137.9 420.7L134.6 421.2L131.3 423.9z" fill="#0a4760" stroke="#0a4760" stroke-width=".7"/>
<path d="M141.1 420.2L144.4 417.3L141.1 417.8L137.9 420.7z" fill="#0e6a62" stroke="#0e6a62" stroke-width=".7"/>
<path d="M147.7 416.7L151 413.6L147.7 414.2L144.4 417.3z" fill="#0e6e44" stroke="#0e6e44" stroke-width=".7"/>
<path d="M154.3 413L157.6 409.7L154.3 410.3L151 413.6z" fill="#0d721f" stroke="#0d721f" stroke-width=".7"/>
<path d="M99 437.6L102.2 436L99 436.2L95.8 437.8z" fill="#000" stroke="#000" stroke-width=".7"/>
<path d="M105.4 435.8L108.7 434L105.4 434.2L102.2 436z" fill="#01011d" stroke="#01011d" stroke-width=".7"/>
<path d="M111.9 433.7L115.1 431.7L111.9 432L108.7 434z" fill="#010132" stroke="#010132" stroke-width=".7"/>
<path d="M118.4 431.4L121.6 429.2L118.4 429.6L115.1 431.7z" fill="#020240" stroke="#020240" stroke-width=".7"/>
<path d="M124.9 428.8L128.1 426.4L124.8 426.8L121.6 429.2z" fill="#04114c" stroke="#04114c" stroke-width=".7"/>
<path d="M131.4 426L134.6 423.4L131.3 423.9L128.1 426.4z" fill="#073258" stroke="#073258" stroke-width=".7"/>
<path d="M137.9 423L141.1 420.2L137.9 420.7L134.6 423.4z" fill="#0c5b64" stroke="#0c5b64" stroke-width=".7"/>
<path d="M144.4 419.7L147.7 416.7L144.4 417.3L141.1 420.2z" fill="#0e6b54" stroke="#0e6b54" stroke-width=".7"/>
<path d="M151 416.2L154.3 413L151 413.6L147.7 416.7z" fill="#0e6f34" stroke="#0e6f34" stroke-width=".7"/>
<path d="M157.6 412.4L160.9 409L157.6 409.7L154.3 413z" fill="#0d730e" stroke="#0d730e" stroke-width=".7"/>
<path d="M95.8 439L99 437.6L95.8 437.8L92.6 439.1z" fill="#000" stroke="#000" stroke-width=".7"/>
<path d="M102.2 437.4L105.4 435.8L102.2 436L99 437.6z" fill="#000" stroke="#000" stroke-width=".7"/>
<path d="M108.7 435.5L111.9 433.7L108.7 434L105.4 435.8z" fill="#010121" stroke="#010121" stroke-width=".7"/>
<path d="M115.1 433.4L118.4 431.4L115.1 431.7L111.9 433.7z" fill="#010134" stroke="#010134" stroke-width=".7"/>
<path d="M121.6 431.1L124.9 428.8L121.6 429.2L118.4 431.4z" fill="#020542" stroke="#020542" stroke-width=".7"/>
<path d="M128.1 428.5L131.4 426L128.1 426.4L124.9 428.8z" fill="#052150" stroke="#052150" stroke-width=".7"/>
<path d="M134.6 425.6L137.9 423L134.6 423.4L131.4 426z" fill="#0a445c" stroke="#0a445c" stroke-width=".7"/>
<path d="M141.2 422.5L144.4 419.7L141.1 420.2L137.9 423z" fill="#0d6660" stroke="#0d6660" stroke-width=".7"/>
<path d="M147.7 419.2L151 416.2L147.7 416.7L144.4 419.7z" fill="#0e6b45" stroke="#0e6b45" stroke-width=".7"/>
<path d="M154.3 415.6L157.6 412.4L154.3 413L151 416.2z" fill="#0d7024" stroke="#0d7024" stroke-width=".7"/>
<path d="M160.9 411.8L164.2 408.4L160.9 409L157.6 412.4z" fill="#1c740e" stroke="#1c740e" stroke-width=".7"/>
<path d="M92.5 440.2L95.8 439L92.6 439.1L89.3 440.4z" fill="#000" stroke="#000" stroke-width=".7"/>
<path d="M99 438.8L102.2 437.4L99 437.6L95.8 439z" fill="#000" stroke="#000" stroke-width=".7"/>
<path d="M105.4 437.2L108.7 435.5L105.4 435.8L102.2 437.4z" fill="#000005" stroke="#000005" stroke-width=".7"/>
<path d="M111.9 435.3L115.1 433.4L111.9 433.7L108.7 435.5z" fill="#010125" stroke="#010125" stroke-width=".7"/>
<path d="M118.4 433.1L121.6 431.1L118.4 431.4L115.1 433.4z" fill="#010137" stroke="#010137" stroke-width=".7"/>
<path d="M124.9 430.7L128.1 428.5L124.9 428.8L121.6 431.1z" fill="#041246" stroke="#041246" stroke-width=".7"/>
<path d="M131.4 428.1L134.6 425.6L131.4 426L128.1 428.5z" fill="#073053" stroke="#073053" stroke-width=".7"/>
<path d="M137.9 425.2L141.2 422.5L137.9 423L134.6 425.6z" fill="#0c565f" stroke="#0c565f" stroke-width=".7"/>
<path d="M144.5 422L147.7 419.2L144.4 419.7L141.2 422.5z" fill="#0d6753" stroke="#0d6753" stroke-width=".7"/>
<path d="M151 418.6L154.3 415.6L151 416.2L147.7 419.2z" fill="#0d6c37" stroke="#0d6c37" stroke-width=".7"/>
<path d="M157.6 415L160.9 411.8L157.6 412.4L154.3 415.6z" fill="#0d7014" stroke="#0d7014" stroke-width=".7"/>
<path d="M164.3 411.1L167.6 407.7L164.2 408.4L160.9 411.8z" fill="#2b760f" stroke="#2b760f" stroke-width=".7"/>
<path d="M89.3 441.3L92.5 440.2L89.3 440.4L86.1 441.4z" fill="#000" stroke="#000" stroke-width=".7"/>
<path d="M95.8 440.1L99 438.8L95.8 439L92.5 440.2z" fill="#000" stroke="#000" stroke-width=".7"/>
<path d="M102.2 438.7L105.4 437.2L102.2 437.4L99 438.8z" fill="#000" stroke="#000" stroke-width=".7"/>
<path d="M108.7 437L111.9 435.3L108.7 435.5L105.4 437.2z" fill="#00000d" stroke="#00000d" stroke-width=".7"/>
<path d="M115.2 435L118.4 433.1L115.1 433.4L111.9 435.3z" fill="#010129" stroke="#010129" stroke-width=".7"/>
<path d="M121.6 432.8L124.9 430.7L121.6 431.1L118.4 433.1z" fill="#02083a" stroke="#02083a" stroke-width=".7"/>
<path d="M128.1 430.4L131.4 428.1L128.1 428.5L124.9 430.7z" fill="#052049" stroke="#052049" stroke-width=".7"/>
<path d="M134.7 427.7L137.9 425.2L134.6 425.6L131.4 428.1z" fill="#094157" stroke="#094157" stroke-width=".7"/>
<path d="M141.2 424.7L144.5 422L141.2 422.5L137.9 425.2z" fill="#0d625d" stroke="#0d625d" stroke-width=".7"/>
<path d="M147.7 421.5L151 418.6L147.7 419.2L144.5 422z" fill="#0d6846" stroke="#0d6846" stroke-width=".7"/>
<path d="M154.3 418.1L157.6 415L154.3 415.6L151 418.6z" fill="#0d6d28" stroke="#0d6d28" stroke-width=".7"/>
<path d="M161 414.4L164.3 411.1L160.9 411.8L157.6 415z" fill="#15720d" stroke="#15720d" stroke-width=".7"/>
<path d="M167.6 410.5L170.9 407L167.6 407.7L164.3 411.1z" fill="#3b7810" stroke="#3b7810" stroke-width=".7"/>
<path d="M86.1 442.2L89.3 441.3L86.1 441.4L82.9 442.3z" fill="#000" stroke="#000" stroke-width=".7"/>
<path d="M92.5 441.2L95.8 440.1L92.5 440.2L89.3 441.3z" fill="#000" stroke="#000" stroke-width=".7"/>
<path d="M99 440L102.2 438.7L99 438.8L95.8 440.1z" fill="#000" stroke="#000" stroke-width=".7"/>
<path d="M105.5 438.5L108.7 437L105.4 437.2L102.2 438.7z" fill="#000" stroke="#000" stroke-width=".7"/>
<path d="M118.4 434.8L121.6 432.8L118.4 433.1L115.2 435z" fill="#01012c" stroke="#01012c" stroke-width=".7"/>
<path d="M124.9 432.5L128.1 430.4L124.9 430.7L121.6 432.8z" fill="#03143e" stroke="#03143e" stroke-width=".7"/>
<path d="M131.4 430L134.7 427.7L131.4 428.1L128.1 430.4z" fill="#072f4d" stroke="#072f4d" stroke-width=".7"/>
<path d="M137.9 427.3L141.2 424.7L137.9 425.2L134.7 427.7z" fill="#0b525a" stroke="#0b525a" stroke-width=".7"/>
<path d="M151.1 421L154.3 418.1L151 418.6L147.7 421.5z" fill="#0d6938" stroke="#0d6938" stroke-width=".7"/>
<path d="M157.7 417.6L161 414.4L157.6 415L154.3 418.1z" fill="#0d6e18" stroke="#0d6e18" stroke-width=".7"/>
<path d="M164.3 413.8L167.6 410.5L164.3 411.1L161 414.4z" fill="#24730f" stroke="#24730f" stroke-width=".7"/>
<path d="M170.9 409.9L174.3 406.4L170.9 407L167.6 410.5z" fill="#4c7a11" stroke="#4c7a11" stroke-width=".7"/>
<path d="M111.9 436.7L115.2 435L111.9 435.3L108.7 437z" fill="#000013" stroke="#000013" stroke-width=".7"/>
<path d="M144.5 424.3L147.7 421.5L144.5 422L141.2 424.7z" fill="#0d6351" stroke="#0d6351" stroke-width=".7"/>
<path d="M82.8 442.9L86.1 442.2L82.9 442.3L79.6 442.9z" fill="#000" stroke="#000" stroke-width=".7"/>
<path d="M89.3 442.2L92.5 441.2L89.3 441.3L86.1 442.2z" fill="#000" stroke="#000" stroke-width=".7"/>
<path d="M102.2 439.8L105.5 438.5L102.2 438.7L99 440z" fill="#000" stroke="#000" stroke-width=".7"/>
<path d="M121.7 434.5L124.9 432.5L121.6 432.8L118.4 434.8z" fill="#020a30" stroke="#020a30" stroke-width=".7"/>
<path d="M134.7 429.6L137.9 427.3L134.7 427.7L131.4 430z" fill="#093e51" stroke="#093e51" stroke-width=".7"/>
<path d="M154.4 420.5L157.7 417.6L154.3 418.1L151.1 421z" fill="#0d6a2a" stroke="#0d6a2a" stroke-width=".7"/>
<path d="M167.6 413.2L170.9 409.9L167.6 410.5L164.3 413.8z" fill="#347510" stroke="#347510" stroke-width=".7"/>
<path d="M174.3 409.2L177.6 405.7L174.3 406.4L170.9 409.9z" fill="#5c7c12" stroke="#5c7c12" stroke-width=".7"/>
<path d="M95.8 441.1L99 440L95.8 440.1L92.5 441.2z" fill="#000" stroke="#000" stroke-width=".7"/>
<path d="M108.7 438.3L111.9 436.7L108.7 437L105.5 438.5z" fill="#000" stroke="#000" stroke-width=".7"/>
<path d="M115.2 436.5L118.4 434.8L115.2 435L111.9 436.7z" fill="#010118" stroke="#010118" stroke-width=".7"/>
<path d="M128.2 432.2L131.4 430L128.1 430.4L124.9 432.5z" fill="#052042" stroke="#052042" stroke-width=".7"/>
<path d="M141.2 426.9L144.5 424.3L141.2 424.7L137.9 427.3z" fill="#0c5d58" stroke="#0c5d58" stroke-width=".7"/>
<path d="M147.8 423.8L151.1 421L147.7 421.5L144.5 424.3z" fill="#0d6444" stroke="#0d6444" stroke-width=".7"/>
<path d="M161 417L164.3 413.8L161 414.4L157.7 417.6z" fill="#106f0d" stroke="#106f0d" stroke-width=".7"/>
<path d="M86 442.9L89.3 442.2L86.1 442.2L82.8 442.9z" fill="#000" stroke="#000" stroke-width=".7"/>
<path d="M171 412.6L174.3 409.2L170.9 409.9L167.6 413.2z" fill="#471" stroke="#471" stroke-width=".7"/>
<path d="M79.6 443.5L82.8 442.9L79.6 442.9L76.4 443.4z" fill="#000" stroke="#000" stroke-width=".7"/>
<path d="M92.5 442.1L95.8 441.1L92.5 441.2L89.3 442.2z" fill="#000" stroke="#000" stroke-width=".7"/>
<path d="M99 441L102.2 439.8L99 440L95.8 441.1z" fill="#000" stroke="#000" stroke-width=".7"/>
<path d="M105.5 439.7L108.7 438.3L105.5 438.5L102.2 439.8z" fill="#000" stroke="#000" stroke-width=".7"/>
<path d="M111.9 438.1L115.2 436.5L111.9 436.7L108.7 438.3z" fill="#000" stroke="#000" stroke-width=".7"/>
<path d="M118.4 436.3L121.7 434.5L118.4 434.8L115.2 436.5z" fill="#01031d" stroke="#01031d" stroke-width=".7"/>
<path d="M124.9 434.2L128.2 432.2L124.9 432.5L121.7 434.5z" fill="#031434" stroke="#031434" stroke-width=".7"/>
<path d="M131.4 431.9L134.7 429.6L131.4 430L128.2 432.2z" fill="#072d46" stroke="#072d46" stroke-width=".7"/>
<path d="M138 429.3L141.2 426.9L137.9 427.3L134.7 429.6z" fill="#0b4e54" stroke="#0b4e54" stroke-width=".7"/>
<path d="M144.5 426.4L147.8 423.8L144.5 424.3L141.2 426.9z" fill="#0c5e4d" stroke="#0c5e4d" stroke-width=".7"/>
<path d="M151.1 423.3L154.4 420.5L151.1 421L147.8 423.8z" fill="#0d6537" stroke="#0d6537" stroke-width=".7"/>
<path d="M157.7 420L161 417L157.7 417.6L154.4 420.5z" fill="#0d6b1b" stroke="#0d6b1b" stroke-width=".7"/>
<path d="M164.3 416.4L167.6 413.2L164.3 413.8L161 417z" fill="#1f710e" stroke="#1f710e" stroke-width=".7"/>
<path d="M177.6 408.5L181 404.9L177.6 405.7L174.3 409.2z" fill="#6d7d14" stroke="#6d7d14" stroke-width=".7"/>
<path d="M76.3 443.8L79.6 443.5L76.4 443.4L73.1 443.8z" fill="#000" stroke="#000" stroke-width=".7"/>
<path d="M82.8 443.5L86 442.9L82.8 442.9L79.6 443.5z" fill="#000" stroke="#000" stroke-width=".7"/>
<path d="M89.3 442.9L92.5 442.1L89.3 442.2L86 442.9z" fill="#000" stroke="#000" stroke-width=".7"/>
<path d="M95.7 442L99 441L95.8 441.1L92.5 442.1z" fill="#000" stroke="#000" stroke-width=".7"/>
<path d="M102.2 440.9L105.5 439.7L102.2 439.8L99 441z" fill="#000" stroke="#000" stroke-width=".7"/>
<path d="M108.7 439.5L111.9 438.1L108.7 438.3L105.5 439.7z" fill="#000" stroke="#000" stroke-width=".7"/>
<path d="M115.2 437.9L118.4 436.3L115.2 436.5L111.9 438.1z" fill="#000" stroke="#000" stroke-width=".7"/>
<path d="M128.2 433.9L131.4 431.9L128.2 432.2L124.9 434.2z" fill="#051f38" stroke="#051f38" stroke-width=".7"/>
<path d="M141.3 428.9L144.5 426.4L141.2 426.9L138 429.3z" fill="#0b5751" stroke="#0b5751" stroke-width=".7"/>
<path d="M147.8 426L151.1 423.3L147.8 423.8L144.5 426.4z" fill="#0c5f41" stroke="#0c5f41" stroke-width=".7"/>
<path d="M154.4 422.9L157.7 420L154.4 420.5L151.1 423.3z" fill="#0c662a" stroke="#0c662a" stroke-width=".7"/>
<path d="M161 419.5L164.3 416.4L161 417L157.7 420z" fill="#0c6b0c" stroke="#0c6b0c" stroke-width=".7"/>
<path d="M167.6 415.8L171 412.6L167.6 413.2L164.3 416.4z" fill="#2e720f" stroke="#2e720f" stroke-width=".7"/>
<path d="M174.3 412L177.6 408.5L174.3 409.2L171 412.6z" fill="#537912" stroke="#537912" stroke-width=".7"/>
<path d="M181 407.8L184.4 404.2L181 404.9L177.6 408.5z" fill="#7d7f15" stroke="#7d7f15" stroke-width=".7"/>
<path d="M121.7 436L124.9 434.2L121.7 434.5L118.4 436.3z" fill="#020a22" stroke="#020a22" stroke-width=".7"/>
<path d="M134.7 431.5L138 429.3L134.7 429.6L131.4 431.9z" fill="#083b49" stroke="#083b49" stroke-width=".7"/>
<path d="M73 444L76.3 443.8L73.1 443.8L69.8 443.9z" fill="#000" stroke="#000" stroke-width=".7"/>
<path d="M79.5 443.8L82.8 443.5L79.6 443.5L76.3 443.8z" fill="#000" stroke="#000" stroke-width=".7"/>
<path d="M92.5 442.8L95.7 442L92.5 442.1L89.3 442.9z" fill="#000" stroke="#000" stroke-width=".7"/>
<path d="M105.5 440.8L108.7 439.5L105.5 439.7L102.2 440.9z" fill="#000" stroke="#000" stroke-width=".7"/>
<path d="M112 439.4L115.2 437.9L111.9 438.1L108.7 439.5z" fill="#000" stroke="#000" stroke-width=".7"/>
<path d="M144.5 428.5L147.8 426L144.5 426.4L141.3 428.9z" fill="#0b5847" stroke="#0b5847" stroke-width=".7"/>
<path d="M151.1 425.5L154.4 422.9L151.1 423.3L147.8 426z" fill="#0c6135" stroke="#0c6135" stroke-width=".7"/>
<path d="M164.3 418.9L167.6 415.8L164.3 416.4L161 419.5z" fill="#1a6d0d" stroke="#1a6d0d" stroke-width=".7"/>
<path d="M177.7 411.3L181 407.8L177.6 408.5L174.3 412z" fill="#637b13" stroke="#637b13" stroke-width=".7"/>
<path d="M184.4 407.2L187.8 403.5L184.4 404.2L181 407.8z" fill="#7f7414" stroke="#7f7414" stroke-width=".7"/>
<path d="M86 443.5L89.3 442.9L86 442.9L82.8 443.5z" fill="#000" stroke="#000" stroke-width=".7"/>
<path d="M99 441.9L102.2 440.9L99 441L95.7 442z" fill="#000" stroke="#000" stroke-width=".7"/>
<path d="M118.5 437.7L121.7 436L118.4 436.3L115.2 437.9z" fill="#000001" stroke="#000001" stroke-width=".7"/>
<path d="M125 435.8L128.2 433.9L124.9 434.2L121.7 436z" fill="#031227" stroke="#031227" stroke-width=".7"/>
<path d="M131.5 433.6L134.7 431.5L131.4 431.9L128.2 433.9z" fill="#062b3c" stroke="#062b3c" stroke-width=".7"/>
<path d="M138 431.2L141.3 428.9L138 429.3L134.7 431.5z" fill="#0a4a4d" stroke="#0a4a4d" stroke-width=".7"/>
<path d="M157.7 422.4L161 419.5L157.7 420L154.4 422.9z" fill="#0c671c" stroke="#0c671c" stroke-width=".7"/>
<path d="M171 415.2L174.3 412L171 412.6L167.6 415.8z" fill="#3d7410" stroke="#3d7410" stroke-width=".7"/>
<path d="M69.8 443.9L73 444L69.8 443.9L66.5 443.8z" fill="#000" stroke="#000" stroke-width=".7"/>
<path d="M76.3 444L79.5 443.8L76.3 443.8L73 444z" fill="#000" stroke="#000" stroke-width=".7"/>
<path d="M108.7 440.6L112 439.4L108.7 439.5L105.5 440.8z" fill="#000" stroke="#000" stroke-width=".7"/>
<path d="M147.9 428.1L151.1 425.5L147.8 426L144.5 428.5z" fill="#0b5a3d" stroke="#0b5a3d" stroke-width=".7"/>
<path d="M181 410.7L184.4 407.2L181 407.8L177.7 411.3z" fill="#747d14" stroke="#747d14" stroke-width=".7"/>
<path d="M187.8 406.5L191.1 402.7L187.8 403.5L184.4 407.2z" fill="#7e6712" stroke="#7e6712" stroke-width=".7"/>
<path d="M82.8 443.9L86 443.5L82.8 443.5L79.5 443.8z" fill="#000" stroke="#000" stroke-width=".7"/>
<path d="M89.3 443.4L92.5 442.8L89.3 442.9L86 443.5z" fill="#000" stroke="#000" stroke-width=".7"/>
<path d="M95.7 442.8L99 441.9L95.7 442L92.5 442.8z" fill="#000" stroke="#000" stroke-width=".7"/>
<path d="M102.2 441.8L105.5 440.8L102.2 440.9L99 441.9z" fill="#000" stroke="#000" stroke-width=".7"/>
<path d="M115.2 439.2L118.5 437.7L115.2 437.9L112 439.4z" fill="#000" stroke="#000" stroke-width=".7"/>
<path d="M121.7 437.5L125 435.8L121.7 436L118.5 437.7z" fill="#01050c" stroke="#01050c" stroke-width=".7"/>
<path d="M128.2 435.5L131.5 433.6L128.2 433.9L125 435.8z" fill="#041b2c" stroke="#041b2c" stroke-width=".7"/>
<path d="M134.8 433.3L138 431.2L134.7 431.5L131.5 433.6z" fill="#083740" stroke="#083740" stroke-width=".7"/>
<path d="M141.3 430.8L144.5 428.5L141.3 428.9L138 431.2z" fill="#0a4f48" stroke="#0a4f48" stroke-width=".7"/>
<path d="M154.4 425.1L157.7 422.4L154.4 422.9L151.1 425.5z" fill="#0c6229" stroke="#0c6229" stroke-width=".7"/>
<path d="M161 421.9L164.3 418.9L161 419.5L157.7 422.4z" fill="#0c680e" stroke="#0c680e" stroke-width=".7"/>
<path d="M167.7 418.4L171 415.2L167.6 415.8L164.3 418.9z" fill="#286f0e" stroke="#286f0e" stroke-width=".7"/>
<path d="M174.3 414.6L177.7 411.3L174.3 412L171 415.2z" fill="#4c7611" stroke="#4c7611" stroke-width=".7"/>
<path d="M73 444L76.3 444L73 444L69.8 443.9z" fill="#000" stroke="#000" stroke-width=".7"/>
<path d="M184.4 410L187.8 406.5L184.4 407.2L181 410.7z" fill="#7e7914" stroke="#7e7914" stroke-width=".7"/>
<path d="M66.5 443.7L69.8 443.9L66.5 443.8L63.2 443.6z" fill="#000" stroke="#000" stroke-width=".7"/>
<path d="M79.5 444.1L82.8 443.9L79.5 443.8L76.3 444z" fill="#000" stroke="#000" stroke-width=".7"/>
<path d="M86 443.9L89.3 443.4L86 443.5L82.8 443.9z" fill="#000" stroke="#000" stroke-width=".7"/>
<path d="M92.5 443.4L95.7 442.8L92.5 442.8L89.3 443.4z" fill="#000" stroke="#000" stroke-width=".7"/>
<path d="M99 442.7L102.2 441.8L99 441.9L95.7 442.8z" fill="#000" stroke="#000" stroke-width=".7"/>
<path d="M105.5 441.7L108.7 440.6L105.5 440.8L102.2 441.8z" fill="#000" stroke="#000" stroke-width=".7"/>
<path d="M112 440.5L115.2 439.2L112 439.4L108.7 440.6z" fill="#000" stroke="#000" stroke-width=".7"/>
<path d="M118.5 439L121.7 437.5L118.5 437.7L115.2 439.2z" fill="#000" stroke="#000" stroke-width=".7"/>
<path d="M125 437.2L128.2 435.5L125 435.8L121.7 437.5z" fill="#020a13" stroke="#020a13" stroke-width=".7"/>
<path d="M131.5 435.2L134.8 433.3L131.5 433.6L128.2 435.5z" fill="#052530" stroke="#052530" stroke-width=".7"/>
<path d="M138 432.9L141.3 430.8L138 431.2L134.8 433.3z" fill="#094444" stroke="#094444" stroke-width=".7"/>
<path d="M144.6 430.4L147.9 428.1L144.5 428.5L141.3 430.8z" fill="#0a5140" stroke="#0a5140" stroke-width=".7"/>
<path d="M151.2 427.6L154.4 425.1L151.1 425.5L147.9 428.1z" fill="#0b5b32" stroke="#0b5b32" stroke-width=".7"/>
<path d="M157.8 424.6L161 421.9L157.7 422.4L154.4 425.1z" fill="#0c631c" stroke="#0c631c" stroke-width=".7"/>
<path d="M164.4 421.3L167.7 418.4L164.3 418.9L161 421.9z" fill="#176a0d" stroke="#176a0d" stroke-width=".7"/>
<path d="M171 417.8L174.3 414.6L171 415.2L167.7 418.4z" fill="#37710f" stroke="#37710f" stroke-width=".7"/>
<path d="M177.7 414L181 410.7L177.7 411.3L174.3 414.6z" fill="#5b7812" stroke="#5b7812" stroke-width=".7"/>
<path d="M191.1 405.7L194.5 402L191.1 402.7L187.8 406.5z" fill="#7d5a11" stroke="#7d5a11" stroke-width=".7"/>
<path d="M63.1 443.3L66.5 443.7L63.2 443.6L59.9 443.1z" fill="#000" stroke="#000" stroke-width=".7"/>
<path d="M69.7 443.8L73 444L69.8 443.9L66.5 443.7z" fill="#000" stroke="#000" stroke-width=".7"/>
<path d="M76.2 444.1L79.5 444.1L76.3 444L73 444z" fill="#000" stroke="#000" stroke-width=".7"/>
<path d="M82.7 444.1L86 443.9L82.8 443.9L79.5 444.1z" fill="#000" stroke="#000" stroke-width=".7"/>
<path d="M89.2 443.9L92.5 443.4L89.3 443.4L86 443.9z" fill="#000" stroke="#000" stroke-width=".7"/>
<path d="M95.7 443.4L99 442.7L95.7 442.8L92.5 443.4z" fill="#000" stroke="#000" stroke-width=".7"/>
<path d="M102.2 442.6L105.5 441.7L102.2 441.8L99 442.7z" fill="#000" stroke="#000" stroke-width=".7"/>
<path d="M108.7 441.6L112 440.5L108.7 440.6L105.5 441.7z" fill="#000" stroke="#000" stroke-width=".7"/>
<path d="M115.2 440.3L118.5 439L115.2 439.2L112 440.5z" fill="#000" stroke="#000" stroke-width=".7"/>
<path d="M121.7 438.8L125 437.2L121.7 437.5L118.5 439z" fill="#000" stroke="#000" stroke-width=".7"/>
<path d="M128.3 437L131.5 435.2L128.2 435.5L125 437.2z" fill="#031219" stroke="#031219" stroke-width=".7"/>
<path d="M134.8 434.9L138 432.9L134.8 433.3L131.5 435.2z" fill="#073035" stroke="#073035" stroke-width=".7"/>
<path d="M141.3 432.6L144.6 430.4L141.3 430.8L138 432.9z" fill="#09473e" stroke="#09473e" stroke-width=".7"/>
<path d="M147.9 430L151.2 427.6L147.9 428.1L144.6 430.4z" fill="#0a5336" stroke="#0a5336" stroke-width=".7"/>
<path d="M154.5 427.2L157.8 424.6L154.4 425.1L151.2 427.6z" fill="#0b5d26" stroke="#0b5d26" stroke-width=".7"/>
<path d="M161.1 424.1L164.4 421.3L161 421.9L157.8 424.6z" fill="#0c640f" stroke="#0c640f" stroke-width=".7"/>
<path d="M167.7 420.8L171 417.8L167.7 418.4L164.4 421.3z" fill="#246c0e" stroke="#246c0e" stroke-width=".7"/>
<path d="M174.4 417.2L177.7 414L174.3 414.6L171 417.8z" fill="#457310" stroke="#457310" stroke-width=".7"/>
<path d="M181.1 413.4L184.4 410L181 410.7L177.7 414z" fill="#6b7a13" stroke="#6b7a13" stroke-width=".7"/>
<path d="M187.8 409.3L191.1 405.7L187.8 406.5L184.4 410z" fill="#7d6d13" stroke="#7d6d13" stroke-width=".7"/>
<path d="M194.5 405L197.9 401.2L194.5 402L191.1 405.7z" fill="#7c4d0f" stroke="#7c4d0f" stroke-width=".7"/>
<path d="M59.8 442.7L63.1 443.3L59.9 443.1L56.6 442.5z" fill="#000" stroke="#000" stroke-width=".7"/>
<path d="M66.4 443.4L69.7 443.8L66.5 443.7L63.1 443.3z" fill="#000" stroke="#000" stroke-width=".7"/>
<path d="M72.9 443.9L76.2 444.1L73 444L69.7 443.8z" fill="#000" stroke="#000" stroke-width=".7"/>
<path d="M79.5 444.2L82.7 444.1L79.5 444.1L76.2 444.1z" fill="#000" stroke="#000" stroke-width=".7"/>
<path d="M86 444.2L89.2 443.9L86 443.9L82.7 444.1z" fill="#000" stroke="#000" stroke-width=".7"/>
<path d="M92.5 443.9L95.7 443.4L92.5 443.4L89.2 443.9z" fill="#000" stroke="#000" stroke-width=".7"/>
<path d="M99 443.3L102.2 442.6L99 442.7L95.7 443.4z" fill="#000" stroke="#000" stroke-width=".7"/>
<path d="M105.5 442.5L108.7 441.6L105.5 441.7L102.2 442.6z" fill="#000" stroke="#000" stroke-width=".7"/>
<path d="M112 441.5L115.2 440.3L112 440.5L108.7 441.6z" fill="#000" stroke="#000" stroke-width=".7"/>
<path d="M118.5 440.1L121.7 438.8L118.5 439L115.2 440.3z" fill="#000" stroke="#000" stroke-width=".7"/>
<path d="M125 438.6L128.3 437L125 437.2L121.7 438.8z" fill="#000" stroke="#000" stroke-width=".7"/>
<path d="M131.5 436.7L134.8 434.9L131.5 435.2L128.3 437z" fill="#041a1f" stroke="#041a1f" stroke-width=".7"/>
<path d="M138.1 434.6L141.3 432.6L138 432.9L134.8 434.9z" fill="#073936" stroke="#073936" stroke-width=".7"/>
<path d="M144.6 432.3L147.9 430L144.6 430.4L141.3 432.6z" fill="#094937" stroke="#094937" stroke-width=".7"/>
<path d="M151.2 429.6L154.5 427.2L151.2 427.6L147.9 430z" fill="#0a552d" stroke="#0a552d" stroke-width=".7"/>
<path d="M157.8 426.8L161.1 424.1L157.8 424.6L154.5 427.2z" fill="#0b5e1b" stroke="#0b5e1b" stroke-width=".7"/>
<path d="M164.4 423.7L167.7 420.8L164.4 421.3L161.1 424.1z" fill="#15660c" stroke="#15660c" stroke-width=".7"/>
<path d="M171 420.3L174.4 417.2L171 417.8L167.7 420.8z" fill="#326e0f" stroke="#326e0f" stroke-width=".7"/>
<path d="M177.7 416.7L181.1 413.4L177.7 414L174.4 417.2z" fill="#547511" stroke="#547511" stroke-width=".7"/>
<path d="M184.4 412.8L187.8 409.3L184.4 410L181.1 413.4z" fill="#7b7c14" stroke="#7b7c14" stroke-width=".7"/>
<path d="M191.2 408.7L194.5 405L191.1 405.7L187.8 409.3z" fill="#7c6011" stroke="#7c6011" stroke-width=".7"/>
<path d="M197.9 404.3L201.3 400.5L197.9 401.2L194.5 405z" fill="#7c400e" stroke="#7c400e" stroke-width=".7"/>
<path d="M63.1 442.8L66.4 443.4L63.1 443.3L59.8 442.7z" fill="#000" stroke="#000" stroke-width=".7"/>
<path d="M69.6 443.6L72.9 443.9L69.7 443.8L66.4 443.4z" fill="#000" stroke="#000" stroke-width=".7"/>
<path d="M76.2 444L79.5 444.2L76.2 444.1L72.9 443.9z" fill="#000" stroke="#000" stroke-width=".7"/>
<path d="M89.2 444.2L92.5 443.9L89.2 443.9L86 444.2z" fill="#000" stroke="#000" stroke-width=".7"/>
<path d="M95.7 443.9L99 443.3L95.7 443.4L92.5 443.9z" fill="#000" stroke="#000" stroke-width=".7"/>
<path d="M108.8 442.4L112 441.5L108.7 441.6L105.5 442.5z" fill="#000" stroke="#000" stroke-width=".7"/>
<path d="M121.8 440L125 438.6L121.7 438.8L118.5 440.1z" fill="#000" stroke="#000" stroke-width=".7"/>
<path d="M128.3 438.3L131.5 436.7L128.3 437L125 438.6z" fill="#000" stroke="#000" stroke-width=".7"/>
<path d="M134.8 436.5L138.1 434.6L134.8 434.9L131.5 436.7z" fill="#052425" stroke="#052425" stroke-width=".7"/>
<path d="M147.9 431.9L151.2 429.6L147.9 430L144.6 432.3z" fill="#094b2f" stroke="#094b2f" stroke-width=".7"/>
<path d="M161.1 426.3L164.4 423.7L161.1 424.1L157.8 426.8z" fill="#0b5f0f" stroke="#0b5f0f" stroke-width=".7"/>
<path d="M167.7 423.2L171 420.3L167.7 420.8L164.4 423.7z" fill="#21680d" stroke="#21680d" stroke-width=".7"/>
<path d="M181.1 416.1L184.4 412.8L181.1 413.4L177.7 416.7z" fill="#637712" stroke="#637712" stroke-width=".7"/>
<path d="M187.8 412.1L191.2 408.7L187.8 409.3L184.4 412.8z" fill="#7c7113" stroke="#7c7113" stroke-width=".7"/>
<path d="M194.5 408L197.9 404.3L194.5 405L191.2 408.7z" fill="#7c5410" stroke="#7c5410" stroke-width=".7"/>
<path d="M82.7 444.2L86 444.2L82.7 444.1L79.5 444.2z" fill="#000" stroke="#000" stroke-width=".7"/>
<path d="M102.2 443.3L105.5 442.5L102.2 442.6L99 443.3z" fill="#000" stroke="#000" stroke-width=".7"/>
<path d="M115.3 441.3L118.5 440.1L115.2 440.3L112 441.5z" fill="#000" stroke="#000" stroke-width=".7"/>
<path d="M141.4 434.3L144.6 432.3L141.3 432.6L138.1 434.6z" fill="#083c31" stroke="#083c31" stroke-width=".7"/>
<path d="M154.5 429.2L157.8 426.8L154.5 427.2L151.2 429.6z" fill="#0a5723" stroke="#0a5723" stroke-width=".7"/>
<path d="M174.4 419.7L177.7 416.7L174.4 417.2L171 420.3z" fill="#407010" stroke="#407010" stroke-width=".7"/>
<path d="M72.9 443.7L76.2 444L72.9 443.9L69.6 443.6z" fill="#000" stroke="#000" stroke-width=".7"/>
<path d="M92.5 444.2L95.7 443.9L92.5 443.9L89.2 444.2z" fill="#000" stroke="#000" stroke-width=".7"/>
<path d="M125.1 439.8L128.3 438.3L125 438.6L121.8 440z" fill="#000" stroke="#000" stroke-width=".7"/>
<path d="M131.6 438.1L134.8 436.5L131.5 436.7L128.3 438.3z" fill="#000" stroke="#000" stroke-width=".7"/>
<path d="M164.5 425.9L167.7 423.2L164.4 423.7L161.1 426.3z" fill="#13610c" stroke="#13610c" stroke-width=".7"/>
<path d="M184.5 415.5L187.8 412.1L184.4 412.8L181.1 416.1z" fill="#727913" stroke="#727913" stroke-width=".7"/>
<path d="M66.3 443L69.6 443.6L66.4 443.4L63.1 442.8z" fill="#000" stroke="#000" stroke-width=".7"/>
<path d="M79.4 444.1L82.7 444.2L79.5 444.2L76.2 444z" fill="#000" stroke="#000" stroke-width=".7"/>
<path d="M85.9 444.3L89.2 444.2L86 444.2L82.7 444.2z" fill="#000" stroke="#000" stroke-width=".7"/>
<path d="M99 443.8L102.2 443.3L99 443.3L95.7 443.9z" fill="#000" stroke="#000" stroke-width=".7"/>
<path d="M105.5 443.2L108.8 442.4L105.5 442.5L102.2 443.3z" fill="#000" stroke="#000" stroke-width=".7"/>
<path d="M112 442.3L115.3 441.3L112 441.5L108.8 442.4z" fill="#000" stroke="#000" stroke-width=".7"/>
<path d="M118.5 441.2L121.8 440L118.5 440.1L115.3 441.3z" fill="#000" stroke="#000" stroke-width=".7"/>
<path d="M138.1 436.2L141.4 434.3L138.1 434.6L134.8 436.5z" fill="#052924" stroke="#052924" stroke-width=".7"/>
<path d="M144.7 434L147.9 431.9L144.6 432.3L141.4 434.3z" fill="#083e2c" stroke="#083e2c" stroke-width=".7"/>
<path d="M151.3 431.5L154.5 429.2L151.2 429.6L147.9 431.9z" fill="#094d27" stroke="#094d27" stroke-width=".7"/>
<path d="M157.8 428.8L161.1 426.3L157.8 426.8L154.5 429.2z" fill="#0a5818" stroke="#0a5818" stroke-width=".7"/>
<path d="M171.1 422.7L174.4 419.7L171 420.3L167.7 423.2z" fill="#2e6a0e" stroke="#2e6a0e" stroke-width=".7"/>
<path d="M177.8 419.2L181.1 416.1L177.7 416.7L174.4 419.7z" fill="#4e7211" stroke="#4e7211" stroke-width=".7"/>
<path d="M191.2 411.5L194.5 408L191.2 408.7L187.8 412.1z" fill="#7b6512" stroke="#7b6512" stroke-width=".7"/>
<path d="M69.6 443.1L72.9 443.7L69.6 443.6L66.3 443z" fill="#000" stroke="#000" stroke-width=".7"/>
<path d="M82.7 444.2L85.9 444.3L82.7 444.2L79.4 444.1z" fill="#000" stroke="#000" stroke-width=".7"/>
<path d="M89.2 444.3L92.5 444.2L89.2 444.2L85.9 444.3z" fill="#000" stroke="#000" stroke-width=".7"/>
<path d="M102.3 443.8L105.5 443.2L102.2 443.3L99 443.8z" fill="#000" stroke="#000" stroke-width=".7"/>
<path d="M115.3 442.2L118.5 441.2L115.3 441.3L112 442.3z" fill="#000" stroke="#000" stroke-width=".7"/>
<path d="M121.8 441L125.1 439.8L121.8 440L118.5 441.2z" fill="#000" stroke="#000" stroke-width=".7"/>
<path d="M128.3 439.6L131.6 438.1L128.3 438.3L125.1 439.8z" fill="#000" stroke="#000" stroke-width=".7"/>
<path d="M134.9 437.9L138.1 436.2L134.8 436.5L131.6 438.1z" fill="#010909" stroke="#010909" stroke-width=".7"/>
<path d="M141.4 435.9L144.7 434L141.4 434.3L138.1 436.2z" fill="#062d23" stroke="#062d23" stroke-width=".7"/>
<path d="M154.6 431.2L157.8 428.8L154.5 429.2L151.3 431.5z" fill="#0a4f1e" stroke="#0a4f1e" stroke-width=".7"/>
<path d="M167.8 425.4L171.1 422.7L167.7 423.2L164.5 425.9z" fill="#1f630c" stroke="#1f630c" stroke-width=".7"/>
<path d="M174.4 422.1L177.8 419.2L174.4 419.7L171.1 422.7z" fill="#3c6c0f" stroke="#3c6c0f" stroke-width=".7"/>
<path d="M187.8 414.8L191.2 411.5L187.8 412.1L184.5 415.5z" fill="#7a7413" stroke="#7a7413" stroke-width=".7"/>
<path d="M76.1 443.8L79.4 444.1L76.2 444L72.9 443.7z" fill="#000" stroke="#000" stroke-width=".7"/>
<path d="M95.7 444.2L99 443.8L95.7 443.9L92.5 444.2z" fill="#000" stroke="#000" stroke-width=".7"/>
<path d="M108.8 443.2L112 442.3L108.8 442.4L105.5 443.2z" fill="#000" stroke="#000" stroke-width=".7"/>
<path d="M148 433.7L151.3 431.5L147.9 431.9L144.7 434z" fill="#084126" stroke="#084126" stroke-width=".7"/>
<path d="M161.2 428.4L164.5 425.9L161.1 426.3L157.8 428.8z" fill="#0a5a0d" stroke="#0a5a0d" stroke-width=".7"/>
<path d="M181.1 418.6L184.5 415.5L181.1 416.1L177.8 419.2z" fill="#5d7412" stroke="#5d7412" stroke-width=".7"/>
<path d="M85.9 444.3L89.2 444.3L85.9 444.3L82.7 444.2z" fill="#000" stroke="#000" stroke-width=".7"/>
<path d="M118.6 442.1L121.8 441L118.5 441.2L115.3 442.2z" fill="#000" stroke="#000" stroke-width=".7"/>
<path d="M138.2 437.6L141.4 435.9L138.1 436.2L134.9 437.9z" fill="#02120e" stroke="#02120e" stroke-width=".7"/>
<path d="M171.1 424.9L174.4 422.1L171.1 422.7L167.8 425.4z" fill="#2c660d" stroke="#2c660d" stroke-width=".7"/>
<path d="M72.8 443.3L76.1 443.8L72.9 443.7L69.6 443.1z" fill="#000" stroke="#000" stroke-width=".7"/>
<path d="M79.4 443.9L82.7 444.2L79.4 444.1L76.1 443.8z" fill="#000" stroke="#000" stroke-width=".7"/>
<path d="M92.5 444.4L95.7 444.2L92.5 444.2L89.2 444.3z" fill="#000" stroke="#000" stroke-width=".7"/>
<path d="M99 444.2L102.3 443.8L99 443.8L95.7 444.2z" fill="#000" stroke="#000" stroke-width=".7"/>
<path d="M105.5 443.8L108.8 443.2L105.5 443.2L102.3 443.8z" fill="#000" stroke="#000" stroke-width=".7"/>
<path d="M112 443.1L115.3 442.2L112 442.3L108.8 443.2z" fill="#000" stroke="#000" stroke-width=".7"/>
<path d="M125.1 440.9L128.3 439.6L125.1 439.8L121.8 441z" fill="#000" stroke="#000" stroke-width=".7"/>
<path d="M131.6 439.4L134.9 437.9L131.6 438.1L128.3 439.6z" fill="#000" stroke="#000" stroke-width=".7"/>
<path d="M144.7 435.6L148 433.7L144.7 434L141.4 435.9z" fill="#063120" stroke="#063120" stroke-width=".7"/>
<path d="M151.3 433.3L154.6 431.2L151.3 431.5L148 433.7z" fill="#08441f" stroke="#08441f" stroke-width=".7"/>
<path d="M157.9 430.8L161.2 428.4L157.8 428.8L154.6 431.2z" fill="#0a5114" stroke="#0a5114" stroke-width=".7"/>
<path d="M164.5 428L167.8 425.4L164.5 425.9L161.2 428.4z" fill="#135c0b" stroke="#135c0b" stroke-width=".7"/>
<path d="M177.8 421.6L181.1 418.6L177.8 419.2L174.4 422.1z" fill="#496e10" stroke="#496e10" stroke-width=".7"/>
<path d="M184.5 418L187.8 414.8L184.5 415.5L181.1 418.6z" fill="#6b7613" stroke="#6b7613" stroke-width=".7"/>
<path d="M76.1 443.4L79.4 443.9L76.1 443.8L72.8 443.3z" fill="#000" stroke="#000" stroke-width=".7"/>
<path d="M82.6 444L85.9 444.3L82.7 444.2L79.4 443.9z" fill="#000" stroke="#000" stroke-width=".7"/>
<path d="M89.2 444.4L92.5 444.4L89.2 444.3L85.9 444.3z" fill="#000" stroke="#000" stroke-width=".7"/>
<path d="M95.7 444.4L99 444.2L95.7 444.2L92.5 444.4z" fill="#000" stroke="#000" stroke-width=".7"/>
<path d="M102.3 444.2L105.5 443.8L102.3 443.8L99 444.2z" fill="#000" stroke="#000" stroke-width=".7"/>
<path d="M108.8 443.7L112 443.1L108.8 443.2L105.5 443.8z" fill="#000" stroke="#000" stroke-width=".7"/>
<path d="M115.3 443L118.6 442.1L115.3 442.2L112 443.1z" fill="#000" stroke="#000" stroke-width=".7"/>
<path d="M121.9 442L125.1 440.9L121.8 441L118.6 442.1z" fill="#000" stroke="#000" stroke-width=".7"/>
<path d="M128.4 440.7L131.6 439.4L128.3 439.6L125.1 440.9z" fill="#000" stroke="#000" stroke-width=".7"/>
<path d="M134.9 439.2L138.2 437.6L134.9 437.9L131.6 439.4z" fill="#000" stroke="#000" stroke-width=".7"/>
<path d="M141.5 437.4L144.7 435.6L141.4 435.9L138.2 437.6z" fill="#031811" stroke="#031811" stroke-width=".7"/>
<path d="M148 435.3L151.3 433.3L148 433.7L144.7 435.6z" fill="#06341c" stroke="#06341c" stroke-width=".7"/>
<path d="M154.6 433L157.9 430.8L154.6 431.2L151.3 433.3z" fill="#084618" stroke="#084618" stroke-width=".7"/>
<path d="M161.2 430.4L164.5 428L161.2 428.4L157.9 430.8z" fill="#0a530a" stroke="#0a530a" stroke-width=".7"/>
<path d="M167.8 427.5L171.1 424.9L167.8 425.4L164.5 428z" fill="#1e5e0c" stroke="#1e5e0c" stroke-width=".7"/>
<path d="M174.5 424.4L177.8 421.6L174.4 422.1L171.1 424.9z" fill="#38680e" stroke="#38680e" stroke-width=".7"/>
<path d="M181.2 421.1L184.5 418L181.1 418.6L177.8 421.6z" fill="#577011" stroke="#577011" stroke-width=".7"/>
<path d="M79.3 443.6L82.6 444L79.4 443.9L76.1 443.4z" fill="#000" stroke="#000" stroke-width=".7"/>
<path d="M85.9 444.1L89.2 444.4L85.9 444.3L82.6 444z" fill="#000" stroke="#000" stroke-width=".7"/>
<path d="M92.5 444.4L95.7 444.4L92.5 444.4L89.2 444.4z" fill="#000" stroke="#000" stroke-width=".7"/>
<path d="M105.5 444.2L108.8 443.7L105.5 443.8L102.3 444.2z" fill="#000" stroke="#000" stroke-width=".7"/>
<path d="M112.1 443.7L115.3 443L112 443.1L108.8 443.7z" fill="#000" stroke="#000" stroke-width=".7"/>
<path d="M118.6 442.9L121.9 442L118.6 442.1L115.3 443z" fill="#000" stroke="#000" stroke-width=".7"/>
<path d="M125.1 441.8L128.4 440.7L125.1 440.9L121.9 442z" fill="#000" stroke="#000" stroke-width=".7"/>
<path d="M131.7 440.5L134.9 439.2L131.6 439.4L128.4 440.7z" fill="#000" stroke="#000" stroke-width=".7"/>
<path d="M138.2 439L141.5 437.4L138.2 437.6L134.9 439.2z" fill="#000" stroke="#000" stroke-width=".7"/>
<path d="M144.8 437.1L148 435.3L144.7 435.6L141.5 437.4z" fill="#041e12" stroke="#041e12" stroke-width=".7"/>
<path d="M151.4 435L154.6 433L151.3 433.3L148 435.3z" fill="#073817" stroke="#073817" stroke-width=".7"/>
<path d="M164.6 430L167.8 427.5L164.5 428L161.2 430.4z" fill="#13550a" stroke="#13550a" stroke-width=".7"/>
<path d="M171.2 427.1L174.5 424.4L171.1 424.9L167.8 427.5z" fill="#29600d" stroke="#29600d" stroke-width=".7"/>
<path d="M177.8 423.9L181.2 421.1L177.8 421.6L174.5 424.4z" fill="#456a0f" stroke="#456a0f" stroke-width=".7"/>
<path d="M99 444.4L102.3 444.2L99 444.2L95.7 444.4z" fill="#000" stroke="#000" stroke-width=".7"/>
<path d="M158 432.6L161.2 430.4L157.9 430.8L154.6 433z" fill="#084810" stroke="#084810" stroke-width=".7"/>
<path d="M89.2 444.2L92.5 444.4L89.2 444.4L85.9 444.1z" fill="#000" stroke="#000" stroke-width=".7"/>
<path d="M108.8 444.2L112.1 443.7L108.8 443.7L105.5 444.2z" fill="#000" stroke="#000" stroke-width=".7"/>
<path d="M115.4 443.6L118.6 442.9L115.3 443L112.1 443.7z" fill="#000" stroke="#000" stroke-width=".7"/>
<path d="M128.4 441.7L131.7 440.5L128.4 440.7L125.1 441.8z" fill="#000" stroke="#000" stroke-width=".7"/>
<path d="M141.5 438.7L144.8 437.1L141.5 437.4L138.2 439z" fill="#000" stroke="#000" stroke-width=".7"/>
<path d="M148.1 436.8L151.4 435L148 435.3L144.8 437.1z" fill="#042310" stroke="#042310" stroke-width=".7"/>
<path d="M167.9 429.6L171.2 427.1L167.8 427.5L164.6 430z" fill="#1d580b" stroke="#1d580b" stroke-width=".7"/>
<path d="M82.6 443.7L85.9 444.1L82.6 444L79.3 443.6z" fill="#000" stroke="#000" stroke-width=".7"/>
<path d="M95.7 444.5L99 444.4L95.7 444.4L92.5 444.4z" fill="#000" stroke="#000" stroke-width=".7"/>
<path d="M102.3 444.5L105.5 444.2L102.3 444.2L99 444.4z" fill="#000" stroke="#000" stroke-width=".7"/>
<path d="M121.9 442.8L125.1 441.8L121.9 442L118.6 442.9z" fill="#000" stroke="#000" stroke-width=".7"/>
<path d="M135 440.3L138.2 439L134.9 439.2L131.7 440.5z" fill="#000" stroke="#000" stroke-width=".7"/>
<path d="M154.7 434.7L158 432.6L154.6 433L151.4 435z" fill="#073b11" stroke="#073b11" stroke-width=".7"/>
<path d="M161.3 432.3L164.6 430L161.2 430.4L158 432.6z" fill="#0a4b09" stroke="#0a4b09" stroke-width=".7"/>
<path d="M174.5 426.6L177.8 423.9L174.5 424.4L171.2 427.1z" fill="#35630e" stroke="#35630e" stroke-width=".7"/>
<path d="M85.9 443.8L89.2 444.2L85.9 444.1L82.6 443.7z" fill="#000" stroke="#000" stroke-width=".7"/>
<path d="M99 444.5L102.3 444.5L99 444.4L95.7 444.5z" fill="#000" stroke="#000" stroke-width=".7"/>
<path d="M105.6 444.5L108.8 444.2L105.5 444.2L102.3 444.5z" fill="#000" stroke="#000" stroke-width=".7"/>
<path d="M112.1 444.1L115.4 443.6L112.1 443.7L108.8 444.2z" fill="#000" stroke="#000" stroke-width=".7"/>
<path d="M118.6 443.5L121.9 442.8L118.6 442.9L115.4 443.6z" fill="#000" stroke="#000" stroke-width=".7"/>
<path d="M125.2 442.7L128.4 441.7L125.1 441.8L121.9 442.8z" fill="#000" stroke="#000" stroke-width=".7"/>
<path d="M131.7 441.5L135 440.3L131.7 440.5L128.4 441.7z" fill="#000" stroke="#000" stroke-width=".7"/>
<path d="M138.3 440.1L141.5 438.7L138.2 439L135 440.3z" fill="#000" stroke="#000" stroke-width=".7"/>
<path d="M144.9 438.5L148.1 436.8L144.8 437.1L141.5 438.7z" fill="#000" stroke="#000" stroke-width=".7"/>
<path d="M151.4 436.5L154.7 434.7L151.4 435L148.1 436.8z" fill="#05280e" stroke="#05280e" stroke-width=".7"/>
<path d="M158 434.3L161.3 432.3L158 432.6L154.7 434.7z" fill="#073e0b" stroke="#073e0b" stroke-width=".7"/>
<path d="M171.3 429.2L174.5 426.6L171.2 427.1L167.9 429.6z" fill="#285a0c" stroke="#285a0c" stroke-width=".7"/>
<path d="M92.4 444.3L95.7 444.5L92.5 444.4L89.2 444.2z" fill="#000" stroke="#000" stroke-width=".7"/>
<path d="M164.6 431.9L167.9 429.6L164.6 430L161.3 432.3z" fill="#134e09" stroke="#134e09" stroke-width=".7"/>
<path d="M102.3 444.5L105.6 444.5L102.3 444.5L99 444.5z" fill="#000" stroke="#000" stroke-width=".7"/>
<path d="M108.8 444.5L112.1 444.1L108.8 444.2L105.6 444.5z" fill="#000" stroke="#000" stroke-width=".7"/>
<path d="M121.9 443.5L125.2 442.7L121.9 442.8L118.6 443.5z" fill="#000" stroke="#000" stroke-width=".7"/>
<path d="M135 441.4L138.3 440.1L135 440.3L131.7 441.5z" fill="#000" stroke="#000" stroke-width=".7"/>
<path d="M148.2 438.2L151.4 436.5L148.1 436.8L144.9 438.5z" fill="#010402" stroke="#010402" stroke-width=".7"/>
<path d="M154.8 436.3L158 434.3L154.7 434.7L151.4 436.5z" fill="#052c0a" stroke="#052c0a" stroke-width=".7"/>
<path d="M89.2 443.9L92.4 444.3L89.2 444.2L85.9 443.8z" fill="#000" stroke="#000" stroke-width=".7"/>
<path d="M95.7 444.4L99 444.5L95.7 444.5L92.4 444.3z" fill="#000" stroke="#000" stroke-width=".7"/>
<path d="M115.4 444.1L118.6 443.5L115.4 443.6L112.1 444.1z" fill="#000" stroke="#000" stroke-width=".7"/>
<path d="M128.5 442.6L131.7 441.5L128.4 441.7L125.2 442.7z" fill="#000" stroke="#000" stroke-width=".7"/>
<path d="M141.6 439.9L144.9 438.5L141.5 438.7L138.3 440.1z" fill="#000" stroke="#000" stroke-width=".7"/>
<path d="M161.4 434L164.6 431.9L161.3 432.3L158 434.3z" fill="#0b4108" stroke="#0b4108" stroke-width=".7"/>
<path d="M168 431.5L171.3 429.2L167.9 429.6L164.6 431.9z" fill="#1c500a" stroke="#1c500a" stroke-width=".7"/>
<path d="M92.4 444L95.7 444.4L92.4 444.3L89.2 443.9z" fill="#000" stroke="#000" stroke-width=".7"/>
<path d="M99 444.4L102.3 444.5L99 444.5L95.7 444.4z" fill="#000" stroke="#000" stroke-width=".7"/>
<path d="M105.6 444.6L108.8 444.5L105.6 444.5L102.3 444.5z" fill="#000" stroke="#000" stroke-width=".7"/>
<path d="M112.1 444.4L115.4 444.1L112.1 444.1L108.8 444.5z" fill="#000" stroke="#000" stroke-width=".7"/>
<path d="M118.7 444L121.9 443.5L118.6 443.5L115.4 444.1z" fill="#000" stroke="#000" stroke-width=".7"/>
<path d="M125.2 443.4L128.5 442.6L125.2 442.7L121.9 443.5z" fill="#000" stroke="#000" stroke-width=".7"/>
<path d="M131.8 442.4L135 441.4L131.7 441.5L128.5 442.6z" fill="#000" stroke="#000" stroke-width=".7"/>
<path d="M138.4 441.2L141.6 439.9L138.3 440.1L135 441.4z" fill="#000" stroke="#000" stroke-width=".7"/>
<path d="M144.9 439.7L148.2 438.2L144.9 438.5L141.6 439.9z" fill="#000" stroke="#000" stroke-width=".7"/>
<path d="M151.5 438L154.8 436.3L151.4 436.5L148.2 438.2z" fill="#020e04" stroke="#020e04" stroke-width=".7"/>
<path d="M158.1 436L161.4 434L158 434.3L154.8 436.3z" fill="#053006" stroke="#053006" stroke-width=".7"/>
<path d="M164.7 433.7L168 431.5L164.6 431.9L161.4 434z" fill="#134408" stroke="#134408" stroke-width=".7"/>
<path d="M95.7 444.1L99 444.4L95.7 444.4L92.4 444z" fill="#000" stroke="#000" stroke-width=".7"/>
<path d="M102.3 444.5L105.6 444.6L102.3 444.5L99 444.4z" fill="#000" stroke="#000" stroke-width=".7"/>
<path d="M108.9 444.6L112.1 444.4L108.8 444.5L105.6 444.6z" fill="#000" stroke="#000" stroke-width=".7"/>
<path d="M115.4 444.4L118.7 444L115.4 444.1L112.1 444.4z" fill="#000" stroke="#000" stroke-width=".7"/>
<path d="M128.5 443.3L131.8 442.4L128.5 442.6L125.2 443.4z" fill="#000" stroke="#000" stroke-width=".7"/>
<path d="M141.7 441L144.9 439.7L141.6 439.9L138.4 441.2z" fill="#000" stroke="#000" stroke-width=".7"/>
<path d="M148.2 439.5L151.5 438L148.2 438.2L144.9 439.7z" fill="#000" stroke="#000" stroke-width=".7"/>
<path d="M154.8 437.7L158.1 436L154.8 436.3L151.5 438z" fill="#031604" stroke="#031604" stroke-width=".7"/>
<path d="M161.4 435.6L164.7 433.7L161.4 434L158.1 436z" fill="#0b3406" stroke="#0b3406" stroke-width=".7"/>
<path d="M122 444L125.2 443.4L121.9 443.5L118.7 444z" fill="#000" stroke="#000" stroke-width=".7"/>
<path d="M135.1 442.3L138.4 441.2L135 441.4L131.8 442.4z" fill="#000" stroke="#000" stroke-width=".7"/>
<path d="M112.2 444.6L115.4 444.4L112.1 444.4L108.9 444.6z" fill="#000" stroke="#000" stroke-width=".7"/>
<path d="M145 440.8L148.2 439.5L144.9 439.7L141.7 441z" fill="#000" stroke="#000" stroke-width=".7"/>
<path d="M99 444.2L102.3 444.5L99 444.4L95.7 444.1z" fill="#000" stroke="#000" stroke-width=".7"/>
<path d="M105.6 444.5L108.9 444.6L105.6 444.6L102.3 444.5z" fill="#000" stroke="#000" stroke-width=".7"/>
<path d="M125.3 443.9L128.5 443.3L125.2 443.4L122 444z" fill="#000" stroke="#000" stroke-width=".7"/>
<path d="M131.9 443.2L135.1 442.3L131.8 442.4L128.5 443.3z" fill="#000" stroke="#000" stroke-width=".7"/>
<path d="M151.6 439.3L154.8 437.7L151.5 438L148.2 439.5z" fill="#000" stroke="#000" stroke-width=".7"/>
<path d="M158.2 437.4L161.4 435.6L158.1 436L154.8 437.7z" fill="#051c03" stroke="#051c03" stroke-width=".7"/>
<path d="M118.7 444.4L122 444L118.7 444L115.4 444.4z" fill="#000" stroke="#000" stroke-width=".7"/>
<path d="M138.4 442.1L141.7 441L138.4 441.2L135.1 442.3z" fill="#000" stroke="#000" stroke-width=".7"/>
<path d="M108.9 444.6L112.2 444.6L108.9 444.6L105.6 444.5z" fill="#000" stroke="#000" stroke-width=".7"/>
<path d="M148.3 440.7L151.6 439.3L148.2 439.5L145 440.8z" fill="#000" stroke="#000" stroke-width=".7"/>
<path d="M102.3 444.3L105.6 444.5L102.3 444.5L99 444.2z" fill="#000" stroke="#000" stroke-width=".7"/>
<path d="M115.5 444.6L118.7 444.4L115.4 444.4L112.2 444.6z" fill="#000" stroke="#000" stroke-width=".7"/>
<path d="M122 444.4L125.3 443.9L122 444L118.7 444.4z" fill="#000" stroke="#000" stroke-width=".7"/>
<path d="M128.6 443.9L131.9 443.2L128.5 443.3L125.3 443.9z" fill="#000" stroke="#000" stroke-width=".7"/>
<path d="M135.2 443.1L138.4 442.1L135.1 442.3L131.9 443.2z" fill="#000" stroke="#000" stroke-width=".7"/>
<path d="M141.7 442L145 440.8L141.7 441L138.4 442.1z" fill="#000" stroke="#000" stroke-width=".7"/>
<path d="M154.9 439L158.2 437.4L154.8 437.7L151.6 439.3z" fill="#000" stroke="#000" stroke-width=".7"/>
<path d="M105.6 444.3L108.9 444.6L105.6 444.5L102.3 444.3z" fill="#000" stroke="#000" stroke-width=".7"/>
<path d="M118.8 444.6L122 444.4L118.7 444.4L115.5 444.6z" fill="#000" stroke="#000" stroke-width=".7"/>
<path d="M125.4 444.3L128.6 443.9L125.3 443.9L122 444.4z" fill="#000" stroke="#000" stroke-width=".7"/>
<path d="M131.9 443.8L135.2 443.1L131.9 443.2L128.6 443.9z" fill="#000" stroke="#000" stroke-width=".7"/>
<path d="M138.5 442.9L141.7 442L138.4 442.1L135.2 443.1z" fill="#000" stroke="#000" stroke-width=".7"/>
<path d="M151.7 440.4L154.9 439L151.6 439.3L148.3 440.7z" fill="#000" stroke="#000" stroke-width=".7"/>
<path d="M112.2 444.6L115.5 444.6L112.2 444.6L108.9 444.6z" fill="#000" stroke="#000" stroke-width=".7"/>
<path d="M145.1 441.8L148.3 440.7L145 440.8L141.7 442z" fill="#000" stroke="#000" stroke-width=".7"/>
<path d="M115.5 444.6L118.8 444.6L115.5 444.6L112.2 444.6z" fill="#000" stroke="#000" stroke-width=".7"/>
<path d="M122.1 444.6L125.4 444.3L122 444.4L118.8 444.6z" fill="#000" stroke="#000" stroke-width=".7"/>
<path d="M128.7 444.3L131.9 443.8L128.6 443.9L125.4 444.3z" fill="#000" stroke="#000" stroke-width=".7"/>
<path d="M135.2 443.7L138.5 442.9L135.2 443.1L131.9 443.8z" fill="#000" stroke="#000" stroke-width=".7"/>
<path d="M141.8 442.8L145.1 441.8L141.7 442L138.5 442.9z" fill="#000" stroke="#000" stroke-width=".7"/>
<path d="M108.9 444.4L112.2 444.6L108.9 444.6L105.6 444.3z" fill="#000" stroke="#000" stroke-width=".7"/>
<path d="M148.4 441.7L151.7 440.4L148.3 440.7L145.1 441.8z" fill="#000" stroke="#000" stroke-width=".7"/>
<path d="M112.2 444.5L115.5 444.6L112.2 444.6L108.9 444.4z" fill="#000" stroke="#000" stroke-width=".7"/>
<path d="M118.8 444.7L122.1 444.6L118.8 444.6L115.5 444.6z" fill="#000" stroke="#000" stroke-width=".7"/>
<path d="M125.4 444.6L128.7 444.3L125.4 444.3L122.1 444.6z" fill="#000" stroke="#000" stroke-width=".7"/>
<path d="M132 444.2L135.2 443.7L131.9 443.8L128.7 444.3z" fill="#000" stroke="#000" stroke-width=".7"/>
<path d="M138.6 443.6L141.8 442.8L138.5 442.9L135.2 443.7z" fill="#000" stroke="#000" stroke-width=".7"/>
<path d="M145.2 442.7L148.4 441.7L145.1 441.8L141.8 442.8z" fill="#000" stroke="#000" stroke-width=".7"/>
<path d="M115.6 444.5L118.8 444.7L115.5 444.6L112.2 444.5z" fill="#000" stroke="#000" stroke-width=".7"/>
<path d="M122.2 444.7L125.4 444.6L122.1 444.6L118.8 444.7z" fill="#000" stroke="#000" stroke-width=".7"/>
<path d="M128.7 444.6L132 444.2L128.7 444.3L125.4 444.6z" fill="#000" stroke="#000" stroke-width=".7"/>
<path d="M135.3 444.2L138.6 443.6L135.2 443.7L132 444.2z" fill="#000" stroke="#000" stroke-width=".7"/>
<path d="M141.9 443.5L145.2 442.7L141.8 442.8L138.6 443.6z" fill="#000" stroke="#000" stroke-width=".7"/>
<path d="M118.9 444.6L122.2 444.7L118.8 444.7L115.6 444.5z" fill="#000" stroke="#000" stroke-width=".7"/>
<path d="M125.5 444.7L128.7 444.6L125.4 444.6L122.2 444.7z" fill="#000" stroke="#000" stroke-width=".7"/>
<path d="M132.1 444.5L135.3 444.2L132 444.2L128.7 444.6z" fill="#000" stroke="#000" stroke-width=".7"/>
<path d="M138.7 444.1L141.9 443.5L138.6 443.6L135.3 444.2z" fill="#000" stroke="#000" stroke-width=".7"/>
<path d="M122.2 444.6L125.5 444.7L122.2 444.7L118.9 444.6z" fill="#000" stroke="#000" stroke-width=".7"/>
<path d="M128.8 444.7L132.1 444.5L128.7 444.6L125.5 444.7z" fill="#000" stroke="#000" stroke-width=".7"/>
<path d="M135.4 444.5L138.7 444.1L135.3 444.2L132.1 444.5z" fill="#000" stroke="#000" stroke-width=".7"/>
<path d="M125.5 444.6L128.8 444.7L125.5 444.7L122.2 444.6z" fill="#000" stroke="#000" stroke-width=".7"/>
<path d="M132.1 444.7L135.4 444.5L132.1 444.5L128.8 444.7z" fill="#000" stroke="#000" stroke-width=".7"/>
<path d="M128.9 444.6L132.1 444.7L128.8 444.7L125.5 444.6z" fill="#000" stroke="#000" stroke-width=".7"/>
<path d="M53.2 378.7h1.6" stroke="#333" stroke-width=".6"/>
<text x="50.5" y="377.8" font-size="4.8" font-weight="bold" text-anchor="end" fill="#222" stroke="#222" stroke-width="0.25" >2</text>
<path d="M53.9 393.5h1.6" stroke="#333" stroke-width=".6"/>
<text x="51.2" y="392.6" font-size="4.8" font-weight="bold" text-anchor="end" fill="#222" stroke="#222" stroke-width="0.25" >1.8</text>
<path d="M54.6 408.3h1.6" stroke="#333" stroke-width=".6"/>
<text x="51.9" y="407.4" font-size="4.8" font-weight="bold" text-anchor="end" fill="#222" stroke="#222" stroke-width="0.25" >1.6</text>
<path d="M55.4 423.2h1.6" stroke="#333" stroke-width=".6"/>
<text x="52.7" y="422.3" font-size="4.8" font-weight="bold" text-anchor="end" fill="#222" stroke="#222" stroke-width="0.25" >1.4</text>
<path d="M56.1 438h1.6" stroke="#333" stroke-width=".6"/>
<text x="53.4" y="437.1" font-size="4.8" font-weight="bold" text-anchor="end" fill="#222" stroke="#222" stroke-width="0.25" >1.2</text>
<path d="M56.8 452.8h1.6" stroke="#333" stroke-width=".6"/>
<text x="54.1" y="451.9" font-size="4.8" font-weight="bold" text-anchor="end" fill="#222" stroke="#222" stroke-width="0.25" >1</text>
<path d="M58.2 475.7l-1 1.2" stroke="#333" stroke-width=".6"/>
<text x="56" y="480" font-size="4.8" font-weight="bold" text-anchor="end" fill="#222" stroke="#222" stroke-width="0.25" >220</text>
<path d="M65.3 479l-1 1.2" stroke="#333" stroke-width=".6"/>
<text x="63.1" y="483.3" font-size="4.8" font-weight="bold" text-anchor="end" fill="#222" stroke="#222" stroke-width="0.25" >212</text>
<path d="M72.3 482.4l-1 1.2" stroke="#333" stroke-width=".6"/>
<text x="70.1" y="486.7" font-size="4.8" font-weight="bold" text-anchor="end" fill="#222" stroke="#222" stroke-width="0.25" >204</text>
<path d="M79.4 485.7l-1 1.2" stroke="#333" stroke-width=".6"/>
<text x="77.2" y="490" font-size="4.8" font-weight="bold" text-anchor="end" fill="#222" stroke="#222" stroke-width="0.25" >196</text>
<path d="M86.5 489l-1 1.2" stroke="#333" stroke-width=".6"/>
<text x="84.3" y="493.3" font-size="4.8" font-weight="bold" text-anchor="end" fill="#222" stroke="#222" stroke-width="0.25" >188</text>
<path d="M93.6 492.4l-1 1.2" stroke="#333" stroke-width=".6"/>
<text x="91.4" y="496.7" font-size="4.8" font-weight="bold" text-anchor="end" fill="#222" stroke="#222" stroke-width="0.25" >180</text>
<path d="M100.6 495.7l-1 1.2" stroke="#333" stroke-width=".6"/>
<text x="98.4" y="500" font-size="4.8" font-weight="bold" text-anchor="end" fill="#222" stroke="#222" stroke-width="0.25" >172</text>
<path d="M107.7 499l-1 1.2" stroke="#333" stroke-width=".6"/>
<text x="105.5" y="503.3" font-size="4.8" font-weight="bold" text-anchor="end" fill="#222" stroke="#222" stroke-width="0.25" >164</text>
<path d="M114.8 502.3l-1 1.2" stroke="#333" stroke-width=".6"/>
<text x="112.6" y="506.6" font-size="4.8" font-weight="bold" text-anchor="end" fill="#222" stroke="#222" stroke-width="0.25" >156</text>
<path d="M121.9 505.7l-1 1.2" stroke="#333" stroke-width=".6"/>
<text x="119.7" y="510" font-size="4.8" font-weight="bold" text-anchor="end" fill="#222" stroke="#222" stroke-width="0.25" >148</text>
<path d="M128.9 509l-1 1.2" stroke="#333" stroke-width=".6"/>
<text x="126.7" y="513.3" font-size="4.8" font-weight="bold" text-anchor="end" fill="#222" stroke="#222" stroke-width="0.25" >140</text>
<path d="M128.9 509l1 1.2" stroke="#333" stroke-width=".6"/>
<text x="131.8" y="514" font-size="4.8" font-weight="bold" text-anchor="start" fill="#222" stroke="#222" stroke-width="0.25" >4.00</text>
<path d="M146.3 500.4l1 1.2" stroke="#333" stroke-width=".6"/>
<text x="149.1" y="505.4" font-size="4.8" font-weight="bold" text-anchor="start" fill="#222" stroke="#222" stroke-width="0.25" >4.50</text>
<path d="M163.6 491.9l1 1.2" stroke="#333" stroke-width=".6"/>
<text x="166.4" y="496.9" font-size="4.8" font-weight="bold" text-anchor="start" fill="#222" stroke="#222" stroke-width="0.25" >5.00</text>
<path d="M180.9 483.3l1 1.2" stroke="#333" stroke-width=".6"/>
<text x="183.7" y="488.3" font-size="4.8" font-weight="bold" text-anchor="start" fill="#222" stroke="#222" stroke-width="0.25" >5.50</text>
<path d="M198.2 474.8l1 1.2" stroke="#333" stroke-width=".6"/>
<text x="201" y="479.8" font-size="4.8" font-weight="bold" text-anchor="start" fill="#222" stroke="#222" stroke-width="0.25" >6.00</text>
<text x="6.5" y="27.5" font-size="15" fill="#000" >(a)</text>
<text x="5.5" y="199" font-size="15" fill="#000" >(b)</text>
<text x="5" y="375.5" font-size="15" fill="#000" >(c)</text>
<text transform="translate(30.5 79.5) rotate(-90)" font-size="8.65" text-anchor="middle" fill="#111" stroke="#111" stroke-width="0.27" >DHA production</text>
<text transform="translate(35.5 250.5) rotate(-90)" font-size="7.75" text-anchor="middle" fill="#111" stroke="#111" stroke-width="0.27" >DHA production</text>
<text transform="translate(34.9 430.7) rotate(-90)" font-size="8.2" text-anchor="middle" fill="#111" stroke="#111" stroke-width="0.27" >DHA production</text>
<text x="25" y="162" font-size="7.95" text-anchor="start" fill="#111" stroke="#111" stroke-width="0.32" >Inoculum volume</text>
<text x="178.2" y="161.5" font-size="8.0" text-anchor="start" fill="#111" stroke="#111" stroke-width="0.32" >Initial pH</text>
<text x="9.5" y="329.5" font-size="7.65" text-anchor="start" fill="#111" stroke="#111" stroke-width="0.32" >Fermentation volume</text>
<text x="177.5" y="329.3" font-size="7.7" text-anchor="start" fill="#111" stroke="#111" stroke-width="0.32" >Initial pH</text>
<text x="8.8" y="509.3" font-size="7.65" text-anchor="start" fill="#111" stroke="#111" stroke-width="0.32" >Fermentation volume</text>
<text x="168" y="509.3" font-size="7.7" text-anchor="start" fill="#111" stroke="#111" stroke-width="0.32" >inoculum volume</text>
</svg>
</body></html>
